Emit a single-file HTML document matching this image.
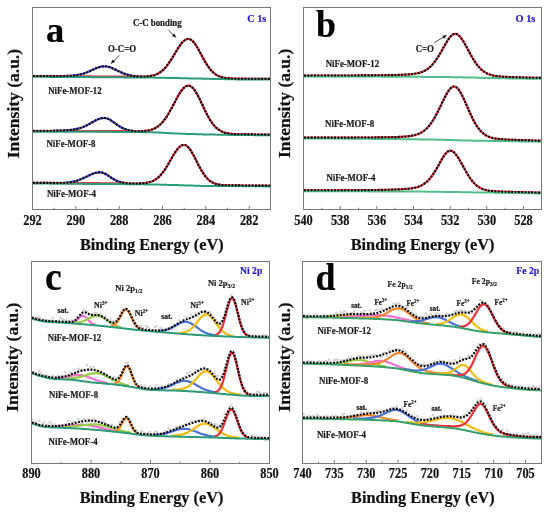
<!DOCTYPE html>
<html><head><meta charset="utf-8"><style>
html,body{margin:0;padding:0;background:#fff;width:550px;height:513px;overflow:hidden}
svg{display:block;will-change:transform}
</style></head><body>
<svg width="550" height="513" viewBox="0 0 550 513">
<rect width="550" height="513" fill="#fff"/>
<path d="M66.0 76.0L67.0 75.9L68.0 75.9L69.0 75.9L70.0 75.8L71.0 75.8L72.0 75.7L73.0 75.6L74.0 75.5L75.0 75.4L76.0 75.2L77.0 75.1L78.0 74.9L79.0 74.7L80.0 74.5L81.0 74.3L82.0 74.0L83.0 73.7L84.0 73.4L85.0 73.0L86.0 72.7L87.0 72.3L88.0 71.9L89.0 71.4L90.0 71.0L91.0 70.5L92.0 70.1L93.0 69.6L94.0 69.2L95.0 68.7L96.0 68.3L97.0 67.9L98.0 67.5L99.0 67.2L100.0 66.9L101.0 66.7L102.0 66.5L103.0 66.4L104.0 66.3L105.0 66.3L106.0 66.4L107.0 66.5L108.0 66.7L109.0 67.0L110.0 67.3L111.0 67.6L112.0 68.0L113.0 68.5L114.0 68.9L115.0 69.4L116.0 69.9L117.0 70.4L118.0 70.9L119.0 71.4L120.0 71.8L121.0 72.3L122.0 72.8L123.0 73.2L124.0 73.6L125.0 74.0L126.0 74.3L127.0 74.6L128.0 74.9L129.0 75.2L130.0 75.4L131.0 75.6L132.0 75.8L133.0 75.9L134.0 76.1L135.0 76.2L136.0 76.3L137.0 76.4" fill="none" stroke="#4848d0" stroke-width="2.20" stroke-linejoin="round"/>
<path d="M33.0 76.0L34.0 76.0L35.0 76.0L36.0 76.0L37.0 76.1L38.0 76.1L39.0 76.1L40.0 76.1L41.0 76.1L42.0 76.1L43.0 76.1L44.0 76.1L45.0 76.1L46.0 76.1L47.0 76.1L48.0 76.1L49.0 76.1L50.0 76.2L51.0 76.2L52.0 76.2L53.0 76.2L54.0 76.2L55.0 76.2L56.0 76.2L57.0 76.2L58.0 76.2L59.0 76.2L60.0 76.2L61.0 76.2L62.0 76.2L63.0 76.3L64.0 76.3L65.0 76.3L66.0 76.3L67.0 76.3L68.0 76.3L69.0 76.3L70.0 76.3L71.0 76.3L72.0 76.3L73.0 76.3L74.0 76.3L75.0 76.3L76.0 76.3L77.0 76.4L78.0 76.4L79.0 76.4L80.0 76.4L81.0 76.4L82.0 76.4L83.0 76.4L84.0 76.4L85.0 76.4L86.0 76.4L87.0 76.4L88.0 76.4L89.0 76.4L90.0 76.4L91.0 76.4L92.0 76.5L93.0 76.5L94.0 76.5L95.0 76.5L96.0 76.5L97.0 76.5L98.0 76.5L99.0 76.5L100.0 76.5L101.0 76.5L102.0 76.5L103.0 76.5L104.0 76.5L105.0 76.5L106.0 76.5L107.0 76.5L108.0 76.5L109.0 76.6L110.0 76.6L111.0 76.6L112.0 76.6L113.0 76.6L114.0 76.6L115.0 76.6L116.0 76.6L117.0 76.6L118.0 76.6L119.0 76.6L120.0 76.6L121.0 76.6L122.0 76.6L123.0 76.6L124.0 76.7L125.0 76.7L126.0 76.7L127.0 76.7L128.0 76.7L129.0 76.7L130.0 76.7L131.0 76.7L132.0 76.7L133.0 76.7L134.0 76.7L135.0 76.7L136.0 76.7L137.0 76.7L138.0 76.7L139.0 76.7L140.0 76.7L141.0 76.7L142.0 76.7L143.0 76.6L144.0 76.6L145.0 76.6L146.0 76.5L147.0 76.4L148.0 76.3L149.0 76.2L150.0 76.1L151.0 75.9L152.0 75.7L153.0 75.5L154.0 75.2L155.0 74.9L156.0 74.6L157.0 74.1L158.0 73.6L159.0 73.1L160.0 72.4L161.0 71.7L162.0 70.9L163.0 70.1L164.0 69.1L165.0 68.0L166.0 66.9L167.0 65.6L168.0 64.3L169.0 62.9L170.0 61.4L171.0 59.9L172.0 58.3L173.0 56.6L174.0 55.0L175.0 53.3L176.0 51.6L177.0 50.0L178.0 48.4L179.0 46.8L180.0 45.4L181.0 44.0L182.0 42.8L183.0 41.7L184.0 40.8L185.0 40.1L186.0 39.5L187.0 39.1L188.0 39.0L189.0 39.0L190.0 39.3L191.0 39.8L192.0 40.5L193.0 41.5L194.0 42.6L195.0 43.9L196.0 45.4L197.0 47.0L198.0 48.7L199.0 50.5L200.0 52.4L201.0 54.2L202.0 56.1L203.0 57.9L204.0 59.7L205.0 61.5L206.0 63.2L207.0 64.8L208.0 66.3L209.0 67.7L210.0 69.0L211.0 70.2L212.0 71.2L213.0 72.2L214.0 73.1L215.0 73.9L216.0 74.6L217.0 75.2L218.0 75.7L219.0 76.2L220.0 76.6L221.0 76.9L222.0 77.2L223.0 77.5L224.0 77.7L225.0 77.8L226.0 78.0L227.0 78.1L228.0 78.2L229.0 78.3L230.0 78.4L231.0 78.4L232.0 78.5L233.0 78.5L234.0 78.6L235.0 78.6L236.0 78.6L237.0 78.6L238.0 78.7L239.0 78.7L240.0 78.7L241.0 78.7L242.0 78.7L243.0 78.7L244.0 78.7L245.0 78.7L246.0 78.7L247.0 78.8L248.0 78.8L249.0 78.8L250.0 78.8L251.0 78.8L252.0 78.8L253.0 78.8L254.0 78.8L255.0 78.8L256.0 78.8L257.0 78.8L258.0 78.8L259.0 78.8L260.0 78.8L261.0 78.8L262.0 78.9L263.0 78.9L264.0 78.9L265.0 78.9L266.0 78.9L267.0 78.9L268.0 78.9L269.0 78.9L270.0 78.9" fill="none" stroke="#e8303a" stroke-width="2.20" stroke-linejoin="round"/>
<path d="M33.0 76.7L34.0 76.7L35.0 76.7L36.0 76.7L37.0 76.8L38.0 76.8L39.0 76.8L40.0 76.8L41.0 76.8L42.0 76.8L43.0 76.8L44.0 76.8L45.0 76.8L46.0 76.8L47.0 76.8L48.0 76.8L49.0 76.8L50.0 76.9L51.0 76.9L52.0 76.9L53.0 76.9L54.0 76.9L55.0 76.9L56.0 76.9L57.0 76.9L58.0 76.9L59.0 76.9L60.0 76.9L61.0 76.9L62.0 76.9L63.0 77.0L64.0 77.0L65.0 77.0L66.0 77.0L67.0 77.0L68.0 77.0L69.0 77.0L70.0 77.0L71.0 77.0L72.0 77.0L73.0 77.0L74.0 77.0L75.0 77.0L76.0 77.0L77.0 77.1L78.0 77.1L79.0 77.1L80.0 77.1L81.0 77.1L82.0 77.1L83.0 77.1L84.0 77.1L85.0 77.1L86.0 77.1L87.0 77.1L88.0 77.1L89.0 77.1L90.0 77.1L91.0 77.1L92.0 77.2L93.0 77.2L94.0 77.2L95.0 77.2L96.0 77.2L97.0 77.2L98.0 77.2L99.0 77.2L100.0 77.2L101.0 77.2L102.0 77.2L103.0 77.2L104.0 77.2L105.0 77.2L106.0 77.2L107.0 77.2L108.0 77.2L109.0 77.3L110.0 77.3L111.0 77.3L112.0 77.3L113.0 77.3L114.0 77.3L115.0 77.3L116.0 77.3L117.0 77.3L118.0 77.3L119.0 77.3L120.0 77.3L121.0 77.3L122.0 77.3L123.0 77.3L124.0 77.4L125.0 77.4L126.0 77.4L127.0 77.4L128.0 77.4L129.0 77.4L130.0 77.4L131.0 77.4L132.0 77.4L133.0 77.4L134.0 77.4L135.0 77.4L136.0 77.5L137.0 77.5L138.0 77.5L139.0 77.5L140.0 77.5L141.0 77.5L142.0 77.5L143.0 77.5L144.0 77.5L145.0 77.5L146.0 77.5L147.0 77.6L148.0 77.6L149.0 77.6L150.0 77.6L151.0 77.6L152.0 77.6L153.0 77.6L154.0 77.6L155.0 77.7L156.0 77.7L157.0 77.7L158.0 77.7L159.0 77.7L160.0 77.7L161.0 77.8L162.0 77.8L163.0 77.8L164.0 77.8L165.0 77.8L166.0 77.9L167.0 77.9L168.0 77.9L169.0 77.9L170.0 77.9L171.0 78.0L172.0 78.0L173.0 78.0L174.0 78.0L175.0 78.1L176.0 78.1L177.0 78.1L178.0 78.1L179.0 78.1L180.0 78.2L181.0 78.2L182.0 78.2L183.0 78.2L184.0 78.2L185.0 78.3L186.0 78.3L187.0 78.3L188.0 78.3L189.0 78.4L190.0 78.4L191.0 78.4L192.0 78.4L193.0 78.4L194.0 78.5L195.0 78.5L196.0 78.5L197.0 78.5L198.0 78.6L199.0 78.6L200.0 78.6L201.0 78.6L202.0 78.7L203.0 78.7L204.0 78.7L205.0 78.7L206.0 78.7L207.0 78.8L208.0 78.8L209.0 78.8L210.0 78.8L211.0 78.9L212.0 78.9L213.0 78.9L214.0 78.9L215.0 78.9L216.0 79.0L217.0 79.0L218.0 79.0L219.0 79.0L220.0 79.1L221.0 79.1L222.0 79.1L223.0 79.1L224.0 79.1L225.0 79.2L226.0 79.2L227.0 79.2L228.0 79.2L229.0 79.2L230.0 79.3L231.0 79.3L232.0 79.3L233.0 79.3L234.0 79.3L235.0 79.3L236.0 79.4L237.0 79.4L238.0 79.4L239.0 79.4L240.0 79.4L241.0 79.4L242.0 79.4L243.0 79.4L244.0 79.4L245.0 79.4L246.0 79.5L247.0 79.5L248.0 79.5L249.0 79.5L250.0 79.5L251.0 79.5L252.0 79.5L253.0 79.5L254.0 79.5L255.0 79.5L256.0 79.5L257.0 79.5L258.0 79.5L259.0 79.5L260.0 79.5L261.0 79.5L262.0 79.6L263.0 79.6L264.0 79.6L265.0 79.6L266.0 79.6L267.0 79.6L268.0 79.6L269.0 79.6L270.0 79.6" fill="none" stroke="#2a9c7e" stroke-width="2.00"/>
<path d="M33.0 76.0L34.0 76.0L35.0 76.0L36.0 76.0L37.0 76.0L38.0 76.0L39.0 76.0L40.0 76.0L41.0 76.0L42.0 76.0L43.0 76.0L44.0 76.0L45.0 76.0L46.0 76.0L47.0 76.0L48.0 76.0L49.0 76.0L50.0 76.0L51.0 76.0L52.0 76.1L53.0 76.1L54.0 76.1L55.0 76.1L56.0 76.1L57.0 76.1L58.0 76.1L59.0 76.1L60.0 76.1L61.0 76.0L62.0 76.0L63.0 76.0L64.0 76.0L65.0 76.0L66.0 76.0L67.0 75.9L68.0 75.9L69.0 75.9L70.0 75.8L71.0 75.8L72.0 75.7L73.0 75.6L74.0 75.5L75.0 75.4L76.0 75.2L77.0 75.1L78.0 74.9L79.0 74.7L80.0 74.5L81.0 74.3L82.0 74.0L83.0 73.7L84.0 73.4L85.0 73.0L86.0 72.7L87.0 72.3L88.0 71.9L89.0 71.4L90.0 71.0L91.0 70.5L92.0 70.1L93.0 69.6L94.0 69.2L95.0 68.7L96.0 68.3L97.0 67.9L98.0 67.5L99.0 67.2L100.0 66.9L101.0 66.7L102.0 66.5L103.0 66.4L104.0 66.3L105.0 66.3L106.0 66.4L107.0 66.5L108.0 66.7L109.0 67.0L110.0 67.3L111.0 67.6L112.0 68.0L113.0 68.5L114.0 68.9L115.0 69.4L116.0 69.9L117.0 70.4L118.0 70.9L119.0 71.4L120.0 71.8L121.0 72.3L122.0 72.8L123.0 73.2L124.0 73.6L125.0 73.9L126.0 74.3L127.0 74.6L128.0 74.9L129.0 75.1L130.0 75.4L131.0 75.6L132.0 75.8L133.0 75.9L134.0 76.1L135.0 76.2L136.0 76.3L137.0 76.4L138.0 76.4L139.0 76.5L140.0 76.5L141.0 76.5L142.0 76.6L143.0 76.6L144.0 76.5L145.0 76.5L146.0 76.5L147.0 76.4L148.0 76.3L149.0 76.2L150.0 76.1L151.0 75.9L152.0 75.7L153.0 75.5L154.0 75.2L155.0 74.9L156.0 74.6L157.0 74.1L158.0 73.6L159.0 73.1L160.0 72.4L161.0 71.7L162.0 70.9L163.0 70.1L164.0 69.1L165.0 68.0L166.0 66.9L167.0 65.6L168.0 64.3L169.0 62.9L170.0 61.4L171.0 59.9L172.0 58.3L173.0 56.6L174.0 55.0L175.0 53.3L176.0 51.6L177.0 50.0L178.0 48.4L179.0 46.8L180.0 45.4L181.0 44.0L182.0 42.8L183.0 41.7L184.0 40.8L185.0 40.1L186.0 39.5L187.0 39.1L188.0 39.0L189.0 39.0L190.0 39.3L191.0 39.8L192.0 40.5L193.0 41.5L194.0 42.6L195.0 43.9L196.0 45.4L197.0 47.0L198.0 48.7L199.0 50.5L200.0 52.4L201.0 54.2L202.0 56.1L203.0 57.9L204.0 59.7L205.0 61.5L206.0 63.2L207.0 64.8L208.0 66.3L209.0 67.7L210.0 69.0L211.0 70.2L212.0 71.2L213.0 72.2L214.0 73.1L215.0 73.9L216.0 74.6L217.0 75.2L218.0 75.7L219.0 76.2L220.0 76.6L221.0 76.9L222.0 77.2L223.0 77.5L224.0 77.7L225.0 77.8L226.0 78.0L227.0 78.1L228.0 78.2L229.0 78.3L230.0 78.4L231.0 78.4L232.0 78.5L233.0 78.5L234.0 78.6L235.0 78.6L236.0 78.6L237.0 78.6L238.0 78.7L239.0 78.7L240.0 78.7L241.0 78.7L242.0 78.7L243.0 78.7L244.0 78.7L245.0 78.7L246.0 78.7L247.0 78.8L248.0 78.8L249.0 78.8L250.0 78.8L251.0 78.8L252.0 78.8L253.0 78.8L254.0 78.8L255.0 78.8L256.0 78.8L257.0 78.8L258.0 78.8L259.0 78.8L260.0 78.8L261.0 78.8L262.0 78.9L263.0 78.9L264.0 78.9L265.0 78.9L266.0 78.9L267.0 78.9L268.0 78.9L269.0 78.9L270.0 78.9" fill="none" stroke="#000" stroke-width="2.10" stroke-dasharray="1.85 1.5"/>
<path d="M53.0 130.7L54.0 130.7L55.0 130.6L56.0 130.6L57.0 130.6L58.0 130.6L59.0 130.6L60.0 130.5L61.0 130.5L62.0 130.5L63.0 130.5L64.0 130.4L65.0 130.4L66.0 130.3L67.0 130.3L68.0 130.2L69.0 130.1L70.0 130.0L71.0 129.9L72.0 129.8L73.0 129.7L74.0 129.5L75.0 129.3L76.0 129.1L77.0 128.9L78.0 128.7L79.0 128.4L80.0 128.1L81.0 127.8L82.0 127.4L83.0 127.0L84.0 126.6L85.0 126.2L86.0 125.7L87.0 125.2L88.0 124.7L89.0 124.1L90.0 123.6L91.0 123.0L92.0 122.4L93.0 121.8L94.0 121.3L95.0 120.7L96.0 120.2L97.0 119.7L98.0 119.3L99.0 118.9L100.0 118.5L101.0 118.3L102.0 118.1L103.0 118.0L104.0 117.9L105.0 118.0L106.0 118.2L107.0 118.5L108.0 118.8L109.0 119.3L110.0 119.8L111.0 120.4L112.0 121.1L113.0 121.8L114.0 122.5L115.0 123.2L116.0 124.0L117.0 124.7L118.0 125.4L119.0 126.0L120.0 126.7L121.0 127.3L122.0 127.8L123.0 128.3L124.0 128.7L125.0 129.1L126.0 129.5L127.0 129.8L128.0 130.1L129.0 130.3L130.0 130.5L131.0 130.7L132.0 130.8L133.0 130.9L134.0 131.0" fill="none" stroke="#4848d0" stroke-width="2.20" stroke-linejoin="round"/>
<path d="M33.0 131.0L34.0 131.0L35.0 131.0L36.0 131.0L37.0 131.0L38.0 131.0L39.0 131.0L40.0 131.0L41.0 131.0L42.0 131.0L43.0 131.0L44.0 131.0L45.0 131.0L46.0 131.0L47.0 131.0L48.0 131.0L49.0 131.0L50.0 131.0L51.0 131.0L52.0 131.0L53.0 131.0L54.0 131.0L55.0 131.0L56.0 131.0L57.0 131.0L58.0 131.0L59.0 131.0L60.0 131.0L61.0 131.0L62.0 131.0L63.0 131.0L64.0 131.0L65.0 131.0L66.0 131.0L67.0 131.0L68.0 131.0L69.0 131.0L70.0 131.0L71.0 131.0L72.0 131.0L73.0 131.0L74.0 131.0L75.0 131.0L76.0 131.0L77.0 131.0L78.0 131.0L79.0 131.0L80.0 131.0L81.0 131.0L82.0 131.0L83.0 131.0L84.0 131.0L85.0 131.0L86.0 131.0L87.0 131.0L88.0 131.0L89.0 131.0L90.0 131.0L91.0 131.0L92.0 131.0L93.0 131.0L94.0 131.0L95.0 131.0L96.0 131.0L97.0 131.0L98.0 131.1L99.0 131.1L100.0 131.1L101.0 131.1L102.0 131.1L103.0 131.1L104.0 131.1L105.0 131.1L106.0 131.1L107.0 131.1L108.0 131.1L109.0 131.1L110.0 131.1L111.0 131.1L112.0 131.1L113.0 131.2L114.0 131.2L115.0 131.2L116.0 131.2L117.0 131.2L118.0 131.2L119.0 131.2L120.0 131.2L121.0 131.2L122.0 131.2L123.0 131.2L124.0 131.3L125.0 131.3L126.0 131.3L127.0 131.3L128.0 131.3L129.0 131.3L130.0 131.3L131.0 131.3L132.0 131.3L133.0 131.3L134.0 131.3L135.0 131.3L136.0 131.3L137.0 131.3L138.0 131.3L139.0 131.3L140.0 131.2L141.0 131.2L142.0 131.1L143.0 131.1L144.0 131.0L145.0 130.9L146.0 130.8L147.0 130.6L148.0 130.5L149.0 130.3L150.0 130.0L151.0 129.8L152.0 129.4L153.0 129.1L154.0 128.7L155.0 128.2L156.0 127.6L157.0 127.0L158.0 126.3L159.0 125.5L160.0 124.7L161.0 123.7L162.0 122.7L163.0 121.6L164.0 120.3L165.0 119.0L166.0 117.6L167.0 116.1L168.0 114.5L169.0 112.8L170.0 111.0L171.0 109.2L172.0 107.4L173.0 105.5L174.0 103.6L175.0 101.7L176.0 99.8L177.0 97.9L178.0 96.1L179.0 94.4L180.0 92.8L181.0 91.3L182.0 90.0L183.0 88.8L184.0 87.8L185.0 86.9L186.0 86.3L187.0 85.9L188.0 85.6L189.0 85.7L190.0 85.9L191.0 86.4L192.0 87.2L193.0 88.1L194.0 89.3L195.0 90.7L196.0 92.3L197.0 94.0L198.0 95.9L199.0 97.8L200.0 99.9L201.0 102.0L202.0 104.1L203.0 106.2L204.0 108.4L205.0 110.4L206.0 112.5L207.0 114.4L208.0 116.3L209.0 118.1L210.0 119.8L211.0 121.3L212.0 122.8L213.0 124.1L214.0 125.4L215.0 126.5L216.0 127.5L217.0 128.4L218.0 129.2L219.0 129.9L220.0 130.6L221.0 131.1L222.0 131.6L223.0 132.0L224.0 132.4L225.0 132.7L226.0 133.0L227.0 133.2L228.0 133.4L229.0 133.5L230.0 133.7L231.0 133.8L232.0 133.9L233.0 134.0L234.0 134.0L235.0 134.1L236.0 134.1L237.0 134.2L238.0 134.2L239.0 134.2L240.0 134.3L241.0 134.3L242.0 134.3L243.0 134.3L244.0 134.3L245.0 134.4L246.0 134.4L247.0 134.4L248.0 134.4L249.0 134.4L250.0 134.4L251.0 134.4L252.0 134.4L253.0 134.4L254.0 134.5L255.0 134.5L256.0 134.5L257.0 134.5L258.0 134.5L259.0 134.5L260.0 134.5L261.0 134.5L262.0 134.5L263.0 134.5L264.0 134.5L265.0 134.5L266.0 134.6L267.0 134.6L268.0 134.6L269.0 134.6L270.0 134.6" fill="none" stroke="#e8303a" stroke-width="2.20" stroke-linejoin="round"/>
<path d="M33.0 131.7L34.0 131.7L35.0 131.7L36.0 131.7L37.0 131.7L38.0 131.7L39.0 131.7L40.0 131.7L41.0 131.7L42.0 131.7L43.0 131.7L44.0 131.7L45.0 131.7L46.0 131.7L47.0 131.7L48.0 131.7L49.0 131.7L50.0 131.7L51.0 131.7L52.0 131.7L53.0 131.7L54.0 131.7L55.0 131.7L56.0 131.7L57.0 131.7L58.0 131.7L59.0 131.7L60.0 131.7L61.0 131.7L62.0 131.7L63.0 131.7L64.0 131.7L65.0 131.7L66.0 131.7L67.0 131.7L68.0 131.7L69.0 131.7L70.0 131.7L71.0 131.7L72.0 131.7L73.0 131.7L74.0 131.7L75.0 131.7L76.0 131.7L77.0 131.7L78.0 131.7L79.0 131.7L80.0 131.7L81.0 131.7L82.0 131.7L83.0 131.7L84.0 131.7L85.0 131.7L86.0 131.7L87.0 131.7L88.0 131.7L89.0 131.7L90.0 131.7L91.0 131.7L92.0 131.7L93.0 131.7L94.0 131.7L95.0 131.7L96.0 131.7L97.0 131.7L98.0 131.8L99.0 131.8L100.0 131.8L101.0 131.8L102.0 131.8L103.0 131.8L104.0 131.8L105.0 131.8L106.0 131.8L107.0 131.8L108.0 131.8L109.0 131.8L110.0 131.8L111.0 131.8L112.0 131.8L113.0 131.9L114.0 131.9L115.0 131.9L116.0 131.9L117.0 131.9L118.0 131.9L119.0 131.9L120.0 131.9L121.0 131.9L122.0 131.9L123.0 131.9L124.0 132.0L125.0 132.0L126.0 132.0L127.0 132.0L128.0 132.0L129.0 132.0L130.0 132.0L131.0 132.0L132.0 132.0L133.0 132.1L134.0 132.1L135.0 132.1L136.0 132.1L137.0 132.1L138.0 132.1L139.0 132.1L140.0 132.1L141.0 132.2L142.0 132.2L143.0 132.2L144.0 132.2L145.0 132.2L146.0 132.2L147.0 132.2L148.0 132.2L149.0 132.3L150.0 132.3L151.0 132.3L152.0 132.3L153.0 132.3L154.0 132.4L155.0 132.4L156.0 132.4L157.0 132.5L158.0 132.5L159.0 132.6L160.0 132.6L161.0 132.7L162.0 132.7L163.0 132.8L164.0 132.8L165.0 132.9L166.0 132.9L167.0 133.0L168.0 133.1L169.0 133.1L170.0 133.2L171.0 133.2L172.0 133.3L173.0 133.3L174.0 133.4L175.0 133.4L176.0 133.5L177.0 133.5L178.0 133.6L179.0 133.6L180.0 133.7L181.0 133.7L182.0 133.7L183.0 133.8L184.0 133.8L185.0 133.8L186.0 133.9L187.0 133.9L188.0 133.9L189.0 134.0L190.0 134.0L191.0 134.0L192.0 134.1L193.0 134.1L194.0 134.1L195.0 134.1L196.0 134.2L197.0 134.2L198.0 134.2L199.0 134.3L200.0 134.3L201.0 134.3L202.0 134.3L203.0 134.4L204.0 134.4L205.0 134.4L206.0 134.4L207.0 134.5L208.0 134.5L209.0 134.5L210.0 134.5L211.0 134.5L212.0 134.6L213.0 134.6L214.0 134.6L215.0 134.6L216.0 134.6L217.0 134.7L218.0 134.7L219.0 134.7L220.0 134.7L221.0 134.7L222.0 134.8L223.0 134.8L224.0 134.8L225.0 134.8L226.0 134.8L227.0 134.8L228.0 134.8L229.0 134.9L230.0 134.9L231.0 134.9L232.0 134.9L233.0 134.9L234.0 134.9L235.0 134.9L236.0 135.0L237.0 135.0L238.0 135.0L239.0 135.0L240.0 135.0L241.0 135.0L242.0 135.0L243.0 135.0L244.0 135.0L245.0 135.1L246.0 135.1L247.0 135.1L248.0 135.1L249.0 135.1L250.0 135.1L251.0 135.1L252.0 135.1L253.0 135.1L254.0 135.2L255.0 135.2L256.0 135.2L257.0 135.2L258.0 135.2L259.0 135.2L260.0 135.2L261.0 135.2L262.0 135.2L263.0 135.2L264.0 135.2L265.0 135.2L266.0 135.3L267.0 135.3L268.0 135.3L269.0 135.3L270.0 135.3" fill="none" stroke="#2a9c7e" stroke-width="2.00"/>
<path d="M33.0 130.8L34.0 130.8L35.0 130.8L36.0 130.8L37.0 130.8L38.0 130.8L39.0 130.8L40.0 130.8L41.0 130.8L42.0 130.8L43.0 130.8L44.0 130.8L45.0 130.7L46.0 130.7L47.0 130.7L48.0 130.7L49.0 130.7L50.0 130.7L51.0 130.7L52.0 130.7L53.0 130.7L54.0 130.7L55.0 130.6L56.0 130.6L57.0 130.6L58.0 130.6L59.0 130.6L60.0 130.5L61.0 130.5L62.0 130.5L63.0 130.5L64.0 130.4L65.0 130.4L66.0 130.3L67.0 130.3L68.0 130.2L69.0 130.1L70.0 130.0L71.0 129.9L72.0 129.8L73.0 129.7L74.0 129.5L75.0 129.3L76.0 129.1L77.0 128.9L78.0 128.7L79.0 128.4L80.0 128.1L81.0 127.8L82.0 127.4L83.0 127.0L84.0 126.6L85.0 126.2L86.0 125.7L87.0 125.2L88.0 124.7L89.0 124.1L90.0 123.6L91.0 123.0L92.0 122.4L93.0 121.8L94.0 121.3L95.0 120.7L96.0 120.2L97.0 119.7L98.0 119.3L99.0 118.9L100.0 118.5L101.0 118.3L102.0 118.1L103.0 118.0L104.0 117.9L105.0 118.0L106.0 118.2L107.0 118.5L108.0 118.8L109.0 119.3L110.0 119.8L111.0 120.4L112.0 121.1L113.0 121.8L114.0 122.5L115.0 123.2L116.0 124.0L117.0 124.7L118.0 125.4L119.0 126.0L120.0 126.7L121.0 127.3L122.0 127.8L123.0 128.3L124.0 128.7L125.0 129.1L126.0 129.5L127.0 129.8L128.0 130.1L129.0 130.3L130.0 130.5L131.0 130.6L132.0 130.8L133.0 130.9L134.0 131.0L135.0 131.1L136.0 131.1L137.0 131.1L138.0 131.2L139.0 131.2L140.0 131.2L141.0 131.1L142.0 131.1L143.0 131.0L144.0 131.0L145.0 130.9L146.0 130.8L147.0 130.6L148.0 130.5L149.0 130.3L150.0 130.0L151.0 129.8L152.0 129.4L153.0 129.1L154.0 128.6L155.0 128.2L156.0 127.6L157.0 127.0L158.0 126.3L159.0 125.5L160.0 124.7L161.0 123.7L162.0 122.7L163.0 121.6L164.0 120.3L165.0 119.0L166.0 117.6L167.0 116.1L168.0 114.5L169.0 112.8L170.0 111.0L171.0 109.2L172.0 107.4L173.0 105.5L174.0 103.6L175.0 101.7L176.0 99.8L177.0 97.9L178.0 96.1L179.0 94.4L180.0 92.8L181.0 91.3L182.0 90.0L183.0 88.8L184.0 87.7L185.0 86.9L186.0 86.3L187.0 85.9L188.0 85.6L189.0 85.7L190.0 85.9L191.0 86.4L192.0 87.2L193.0 88.1L194.0 89.3L195.0 90.7L196.0 92.3L197.0 94.0L198.0 95.9L199.0 97.8L200.0 99.9L201.0 102.0L202.0 104.1L203.0 106.2L204.0 108.4L205.0 110.4L206.0 112.5L207.0 114.4L208.0 116.3L209.0 118.1L210.0 119.8L211.0 121.3L212.0 122.8L213.0 124.1L214.0 125.4L215.0 126.5L216.0 127.5L217.0 128.4L218.0 129.2L219.0 129.9L220.0 130.6L221.0 131.1L222.0 131.6L223.0 132.0L224.0 132.4L225.0 132.7L226.0 133.0L227.0 133.2L228.0 133.4L229.0 133.5L230.0 133.7L231.0 133.8L232.0 133.9L233.0 134.0L234.0 134.0L235.0 134.1L236.0 134.1L237.0 134.2L238.0 134.2L239.0 134.2L240.0 134.3L241.0 134.3L242.0 134.3L243.0 134.3L244.0 134.3L245.0 134.3L246.0 134.4L247.0 134.4L248.0 134.4L249.0 134.4L250.0 134.4L251.0 134.4L252.0 134.4L253.0 134.4L254.0 134.5L255.0 134.5L256.0 134.5L257.0 134.5L258.0 134.5L259.0 134.5L260.0 134.5L261.0 134.5L262.0 134.5L263.0 134.5L264.0 134.5L265.0 134.5L266.0 134.6L267.0 134.6L268.0 134.6L269.0 134.6L270.0 134.6" fill="none" stroke="#000" stroke-width="2.10" stroke-dasharray="1.85 1.5"/>
<path d="M65.0 182.7L66.0 182.6L67.0 182.6L68.0 182.5L69.0 182.4L70.0 182.2L71.0 182.1L72.0 181.9L73.0 181.7L74.0 181.5L75.0 181.2L76.0 181.0L77.0 180.7L78.0 180.3L79.0 180.0L80.0 179.6L81.0 179.2L82.0 178.8L83.0 178.3L84.0 177.8L85.0 177.4L86.0 176.9L87.0 176.4L88.0 175.9L89.0 175.4L90.0 174.9L91.0 174.5L92.0 174.1L93.0 173.7L94.0 173.3L95.0 173.0L96.0 172.8L97.0 172.6L98.0 172.4L99.0 172.4L100.0 172.4L101.0 172.4L102.0 172.6L103.0 172.9L104.0 173.3L105.0 173.8L106.0 174.3L107.0 174.9L108.0 175.5L109.0 176.1L110.0 176.8L111.0 177.5L112.0 178.1L113.0 178.7L114.0 179.3L115.0 179.9L116.0 180.4L117.0 180.9L118.0 181.3L119.0 181.6L120.0 182.0L121.0 182.2L122.0 182.5L123.0 182.7L124.0 182.8L125.0 183.0L126.0 183.1" fill="none" stroke="#4848d0" stroke-width="2.20" stroke-linejoin="round"/>
<path d="M33.0 182.9L34.0 182.9L35.0 182.9L36.0 182.9L37.0 182.9L38.0 182.9L39.0 182.9L40.0 182.9L41.0 182.9L42.0 182.9L43.0 182.9L44.0 182.9L45.0 182.9L46.0 182.9L47.0 182.9L48.0 182.9L49.0 182.9L50.0 182.9L51.0 183.0L52.0 183.0L53.0 183.0L54.0 183.0L55.0 183.0L56.0 183.0L57.0 183.0L58.0 183.0L59.0 183.0L60.0 183.0L61.0 183.0L62.0 183.0L63.0 183.0L64.0 183.0L65.0 183.0L66.0 183.0L67.0 183.1L68.0 183.1L69.0 183.1L70.0 183.1L71.0 183.1L72.0 183.1L73.0 183.1L74.0 183.1L75.0 183.1L76.0 183.1L77.0 183.1L78.0 183.1L79.0 183.1L80.0 183.1L81.0 183.1L82.0 183.1L83.0 183.1L84.0 183.2L85.0 183.2L86.0 183.2L87.0 183.2L88.0 183.2L89.0 183.2L90.0 183.2L91.0 183.2L92.0 183.2L93.0 183.2L94.0 183.2L95.0 183.2L96.0 183.2L97.0 183.2L98.0 183.2L99.0 183.2L100.0 183.3L101.0 183.3L102.0 183.3L103.0 183.3L104.0 183.3L105.0 183.3L106.0 183.3L107.0 183.3L108.0 183.3L109.0 183.3L110.0 183.3L111.0 183.3L112.0 183.3L113.0 183.3L114.0 183.4L115.0 183.4L116.0 183.4L117.0 183.4L118.0 183.4L119.0 183.4L120.0 183.4L121.0 183.4L122.0 183.4L123.0 183.4L124.0 183.4L125.0 183.4L126.0 183.4L127.0 183.5L128.0 183.5L129.0 183.5L130.0 183.5L131.0 183.5L132.0 183.5L133.0 183.5L134.0 183.5L135.0 183.5L136.0 183.5L137.0 183.5L138.0 183.5L139.0 183.4L140.0 183.4L141.0 183.4L142.0 183.3L143.0 183.2L144.0 183.1L145.0 183.0L146.0 182.9L147.0 182.7L148.0 182.5L149.0 182.3L150.0 182.0L151.0 181.7L152.0 181.3L153.0 180.9L154.0 180.4L155.0 179.8L156.0 179.2L157.0 178.5L158.0 177.6L159.0 176.7L160.0 175.7L161.0 174.6L162.0 173.4L163.0 172.1L164.0 170.8L165.0 169.3L166.0 167.7L167.0 166.1L168.0 164.5L169.0 162.8L170.0 161.0L171.0 159.3L172.0 157.5L173.0 155.8L174.0 154.1L175.0 152.6L176.0 151.1L177.0 149.7L178.0 148.5L179.0 147.4L180.0 146.5L181.0 145.8L182.0 145.3L183.0 145.0L184.0 144.9L185.0 145.0L186.0 145.4L187.0 146.1L188.0 147.0L189.0 148.1L190.0 149.4L191.0 150.9L192.0 152.6L193.0 154.3L194.0 156.2L195.0 158.1L196.0 160.1L197.0 162.1L198.0 164.0L199.0 166.0L200.0 167.8L201.0 169.6L202.0 171.3L203.0 172.9L204.0 174.4L205.0 175.8L206.0 177.0L207.0 178.1L208.0 179.2L209.0 180.1L210.0 180.9L211.0 181.6L212.0 182.2L213.0 182.7L214.0 183.2L215.0 183.6L216.0 183.9L217.0 184.2L218.0 184.4L219.0 184.6L220.0 184.7L221.0 184.9L222.0 185.0L223.0 185.1L224.0 185.1L225.0 185.2L226.0 185.2L227.0 185.3L228.0 185.3L229.0 185.3L230.0 185.3L231.0 185.3L232.0 185.4L233.0 185.4L234.0 185.4L235.0 185.4L236.0 185.4L237.0 185.4L238.0 185.4L239.0 185.4L240.0 185.4L241.0 185.4L242.0 185.5L243.0 185.5L244.0 185.5L245.0 185.5L246.0 185.5L247.0 185.5L248.0 185.5L249.0 185.5L250.0 185.5L251.0 185.5L252.0 185.5L253.0 185.5L254.0 185.6L255.0 185.6L256.0 185.6L257.0 185.6L258.0 185.6L259.0 185.6L260.0 185.6L261.0 185.6L262.0 185.6L263.0 185.6L264.0 185.6L265.0 185.6L266.0 185.7L267.0 185.7L268.0 185.7L269.0 185.7L270.0 185.7" fill="none" stroke="#e8303a" stroke-width="2.20" stroke-linejoin="round"/>
<path d="M33.0 183.6L34.0 183.6L35.0 183.6L36.0 183.6L37.0 183.6L38.0 183.6L39.0 183.6L40.0 183.6L41.0 183.6L42.0 183.6L43.0 183.6L44.0 183.6L45.0 183.6L46.0 183.6L47.0 183.6L48.0 183.6L49.0 183.6L50.0 183.6L51.0 183.7L52.0 183.7L53.0 183.7L54.0 183.7L55.0 183.7L56.0 183.7L57.0 183.7L58.0 183.7L59.0 183.7L60.0 183.7L61.0 183.7L62.0 183.7L63.0 183.7L64.0 183.7L65.0 183.7L66.0 183.7L67.0 183.8L68.0 183.8L69.0 183.8L70.0 183.8L71.0 183.8L72.0 183.8L73.0 183.8L74.0 183.8L75.0 183.8L76.0 183.8L77.0 183.8L78.0 183.8L79.0 183.8L80.0 183.8L81.0 183.8L82.0 183.8L83.0 183.8L84.0 183.9L85.0 183.9L86.0 183.9L87.0 183.9L88.0 183.9L89.0 183.9L90.0 183.9L91.0 183.9L92.0 183.9L93.0 183.9L94.0 183.9L95.0 183.9L96.0 183.9L97.0 183.9L98.0 183.9L99.0 183.9L100.0 184.0L101.0 184.0L102.0 184.0L103.0 184.0L104.0 184.0L105.0 184.0L106.0 184.0L107.0 184.0L108.0 184.0L109.0 184.0L110.0 184.0L111.0 184.0L112.0 184.0L113.0 184.0L114.0 184.1L115.0 184.1L116.0 184.1L117.0 184.1L118.0 184.1L119.0 184.1L120.0 184.1L121.0 184.1L122.0 184.1L123.0 184.1L124.0 184.1L125.0 184.1L126.0 184.2L127.0 184.2L128.0 184.2L129.0 184.2L130.0 184.2L131.0 184.2L132.0 184.2L133.0 184.2L134.0 184.2L135.0 184.2L136.0 184.3L137.0 184.3L138.0 184.3L139.0 184.3L140.0 184.3L141.0 184.3L142.0 184.3L143.0 184.3L144.0 184.3L145.0 184.4L146.0 184.4L147.0 184.4L148.0 184.4L149.0 184.4L150.0 184.4L151.0 184.5L152.0 184.5L153.0 184.5L154.0 184.5L155.0 184.5L156.0 184.6L157.0 184.6L158.0 184.6L159.0 184.6L160.0 184.6L161.0 184.7L162.0 184.7L163.0 184.7L164.0 184.8L165.0 184.8L166.0 184.8L167.0 184.8L168.0 184.9L169.0 184.9L170.0 184.9L171.0 184.9L172.0 185.0L173.0 185.0L174.0 185.0L175.0 185.0L176.0 185.1L177.0 185.1L178.0 185.1L179.0 185.2L180.0 185.2L181.0 185.2L182.0 185.3L183.0 185.3L184.0 185.3L185.0 185.4L186.0 185.4L187.0 185.4L188.0 185.5L189.0 185.5L190.0 185.5L191.0 185.6L192.0 185.6L193.0 185.6L194.0 185.7L195.0 185.7L196.0 185.7L197.0 185.8L198.0 185.8L199.0 185.8L200.0 185.8L201.0 185.9L202.0 185.9L203.0 185.9L204.0 185.9L205.0 185.9L206.0 185.9L207.0 185.9L208.0 185.9L209.0 186.0L210.0 186.0L211.0 186.0L212.0 186.0L213.0 186.0L214.0 186.0L215.0 186.0L216.0 186.0L217.0 186.0L218.0 186.0L219.0 186.0L220.0 186.0L221.0 186.0L222.0 186.0L223.0 186.0L224.0 186.0L225.0 186.0L226.0 186.1L227.0 186.1L228.0 186.1L229.0 186.1L230.0 186.1L231.0 186.1L232.0 186.1L233.0 186.1L234.0 186.1L235.0 186.1L236.0 186.1L237.0 186.1L238.0 186.1L239.0 186.1L240.0 186.1L241.0 186.1L242.0 186.2L243.0 186.2L244.0 186.2L245.0 186.2L246.0 186.2L247.0 186.2L248.0 186.2L249.0 186.2L250.0 186.2L251.0 186.2L252.0 186.2L253.0 186.2L254.0 186.3L255.0 186.3L256.0 186.3L257.0 186.3L258.0 186.3L259.0 186.3L260.0 186.3L261.0 186.3L262.0 186.3L263.0 186.3L264.0 186.3L265.0 186.3L266.0 186.4L267.0 186.4L268.0 186.4L269.0 186.4L270.0 186.4" fill="none" stroke="#2a9c7e" stroke-width="2.00"/>
<path d="M33.0 182.9L34.0 182.9L35.0 182.9L36.0 182.9L37.0 182.9L38.0 182.9L39.0 182.9L40.0 182.9L41.0 182.9L42.0 182.9L43.0 182.9L44.0 182.9L45.0 182.9L46.0 182.9L47.0 182.9L48.0 182.9L49.0 182.9L50.0 182.9L51.0 182.9L52.0 182.9L53.0 182.9L54.0 182.9L55.0 182.9L56.0 182.9L57.0 182.9L58.0 182.9L59.0 182.9L60.0 182.9L61.0 182.9L62.0 182.8L63.0 182.8L64.0 182.8L65.0 182.7L66.0 182.6L67.0 182.6L68.0 182.5L69.0 182.4L70.0 182.2L71.0 182.1L72.0 181.9L73.0 181.7L74.0 181.5L75.0 181.2L76.0 181.0L77.0 180.7L78.0 180.3L79.0 180.0L80.0 179.6L81.0 179.2L82.0 178.8L83.0 178.3L84.0 177.8L85.0 177.4L86.0 176.9L87.0 176.4L88.0 175.9L89.0 175.4L90.0 174.9L91.0 174.5L92.0 174.1L93.0 173.7L94.0 173.3L95.0 173.0L96.0 172.8L97.0 172.6L98.0 172.4L99.0 172.4L100.0 172.4L101.0 172.4L102.0 172.6L103.0 172.9L104.0 173.3L105.0 173.8L106.0 174.3L107.0 174.9L108.0 175.5L109.0 176.1L110.0 176.8L111.0 177.5L112.0 178.1L113.0 178.7L114.0 179.3L115.0 179.9L116.0 180.4L117.0 180.9L118.0 181.3L119.0 181.6L120.0 182.0L121.0 182.2L122.0 182.5L123.0 182.7L124.0 182.8L125.0 183.0L126.0 183.1L127.0 183.2L128.0 183.3L129.0 183.3L130.0 183.4L131.0 183.4L132.0 183.4L133.0 183.4L134.0 183.5L135.0 183.5L136.0 183.5L137.0 183.5L138.0 183.4L139.0 183.4L140.0 183.4L141.0 183.4L142.0 183.3L143.0 183.2L144.0 183.1L145.0 183.0L146.0 182.9L147.0 182.7L148.0 182.5L149.0 182.3L150.0 182.0L151.0 181.7L152.0 181.3L153.0 180.9L154.0 180.4L155.0 179.8L156.0 179.2L157.0 178.5L158.0 177.6L159.0 176.7L160.0 175.7L161.0 174.6L162.0 173.4L163.0 172.1L164.0 170.8L165.0 169.3L166.0 167.7L167.0 166.1L168.0 164.5L169.0 162.8L170.0 161.0L171.0 159.3L172.0 157.5L173.0 155.8L174.0 154.1L175.0 152.6L176.0 151.1L177.0 149.7L178.0 148.5L179.0 147.4L180.0 146.5L181.0 145.8L182.0 145.3L183.0 145.0L184.0 144.9L185.0 145.0L186.0 145.4L187.0 146.1L188.0 147.0L189.0 148.1L190.0 149.4L191.0 150.9L192.0 152.6L193.0 154.3L194.0 156.2L195.0 158.1L196.0 160.1L197.0 162.1L198.0 164.0L199.0 166.0L200.0 167.8L201.0 169.6L202.0 171.3L203.0 172.9L204.0 174.4L205.0 175.8L206.0 177.0L207.0 178.1L208.0 179.2L209.0 180.1L210.0 180.9L211.0 181.6L212.0 182.2L213.0 182.7L214.0 183.2L215.0 183.6L216.0 183.9L217.0 184.2L218.0 184.4L219.0 184.6L220.0 184.7L221.0 184.9L222.0 185.0L223.0 185.1L224.0 185.1L225.0 185.2L226.0 185.2L227.0 185.3L228.0 185.3L229.0 185.3L230.0 185.3L231.0 185.3L232.0 185.4L233.0 185.4L234.0 185.4L235.0 185.4L236.0 185.4L237.0 185.4L238.0 185.4L239.0 185.4L240.0 185.4L241.0 185.4L242.0 185.5L243.0 185.5L244.0 185.5L245.0 185.5L246.0 185.5L247.0 185.5L248.0 185.5L249.0 185.5L250.0 185.5L251.0 185.5L252.0 185.5L253.0 185.5L254.0 185.6L255.0 185.6L256.0 185.6L257.0 185.6L258.0 185.6L259.0 185.6L260.0 185.6L261.0 185.6L262.0 185.6L263.0 185.6L264.0 185.6L265.0 185.6L266.0 185.7L267.0 185.7L268.0 185.7L269.0 185.7L270.0 185.7" fill="none" stroke="#000" stroke-width="2.10" stroke-dasharray="1.85 1.5"/>
<path d="M304.0 75.6L305.0 75.6L306.0 75.6L307.0 75.6L308.0 75.6L309.0 75.6L310.0 75.6L311.0 75.6L312.0 75.5L313.0 75.5L314.0 75.5L315.0 75.5L316.0 75.5L317.0 75.5L318.0 75.5L319.0 75.5L320.0 75.5L321.0 75.5L322.0 75.5L323.0 75.5L324.0 75.5L325.0 75.5L326.0 75.5L327.0 75.5L328.0 75.5L329.0 75.5L330.0 75.5L331.0 75.5L332.0 75.5L333.0 75.5L334.0 75.5L335.0 75.5L336.0 75.5L337.0 75.5L338.0 75.5L339.0 75.5L340.0 75.5L341.0 75.5L342.0 75.5L343.0 75.5L344.0 75.5L345.0 75.5L346.0 75.5L347.0 75.5L348.0 75.5L349.0 75.5L350.0 75.5L351.0 75.5L352.0 75.5L353.0 75.5L354.0 75.5L355.0 75.5L356.0 75.5L357.0 75.5L358.0 75.5L359.0 75.4L360.0 75.4L361.0 75.4L362.0 75.4L363.0 75.4L364.0 75.4L365.0 75.4L366.0 75.4L367.0 75.4L368.0 75.4L369.0 75.4L370.0 75.4L371.0 75.4L372.0 75.4L373.0 75.4L374.0 75.4L375.0 75.3L376.0 75.3L377.0 75.3L378.0 75.3L379.0 75.3L380.0 75.3L381.0 75.3L382.0 75.3L383.0 75.2L384.0 75.2L385.0 75.2L386.0 75.2L387.0 75.2L388.0 75.2L389.0 75.1L390.0 75.1L391.0 75.1L392.0 75.1L393.0 75.1L394.0 75.0L395.0 75.0L396.0 75.0L397.0 75.0L398.0 74.9L399.0 74.9L400.0 74.9L401.0 74.8L402.0 74.8L403.0 74.7L404.0 74.7L405.0 74.6L406.0 74.6L407.0 74.5L408.0 74.5L409.0 74.4L410.0 74.3L411.0 74.2L412.0 74.1L413.0 74.0L414.0 73.9L415.0 73.7L416.0 73.5L417.0 73.4L418.0 73.1L419.0 72.9L420.0 72.6L421.0 72.3L422.0 72.0L423.0 71.6L424.0 71.1L425.0 70.6L426.0 70.0L427.0 69.4L428.0 68.7L429.0 67.9L430.0 67.0L431.0 66.1L432.0 65.0L433.0 63.9L434.0 62.7L435.0 61.4L436.0 60.0L437.0 58.5L438.0 57.0L439.0 55.4L440.0 53.7L441.0 52.0L442.0 50.2L443.0 48.4L444.0 46.6L445.0 44.9L446.0 43.1L447.0 41.5L448.0 39.9L449.0 38.4L450.0 37.1L451.0 36.0L452.0 35.1L453.0 34.4L454.0 34.0L455.0 33.8L456.0 33.9L457.0 34.3L458.0 34.9L459.0 35.7L460.0 36.7L461.0 37.9L462.0 39.3L463.0 40.8L464.0 42.5L465.0 44.2L466.0 46.0L467.0 47.8L468.0 49.7L469.0 51.6L470.0 53.4L471.0 55.2L472.0 57.0L473.0 58.7L474.0 60.3L475.0 61.9L476.0 63.3L477.0 64.7L478.0 66.0L479.0 67.1L480.0 68.2L481.0 69.2L482.0 70.1L483.0 70.9L484.0 71.7L485.0 72.3L486.0 72.9L487.0 73.4L488.0 73.9L489.0 74.3L490.0 74.6L491.0 75.0L492.0 75.2L493.0 75.5L494.0 75.7L495.0 75.9L496.0 76.0L497.0 76.2L498.0 76.3L499.0 76.4L500.0 76.5L501.0 76.6L502.0 76.7L503.0 76.7L504.0 76.8L505.0 76.8L506.0 76.9L507.0 76.9L508.0 77.0L509.0 77.0L510.0 77.1L511.0 77.1L512.0 77.2L513.0 77.2L514.0 77.2L515.0 77.3L516.0 77.3L517.0 77.3L518.0 77.4L519.0 77.4L520.0 77.4L521.0 77.4L522.0 77.5L523.0 77.5L524.0 77.5L525.0 77.6L526.0 77.6L527.0 77.6L528.0 77.6L529.0 77.6L530.0 77.7L531.0 77.7L532.0 77.7L533.0 77.7L534.0 77.8L535.0 77.8L536.0 77.8L537.0 77.8L538.0 77.8L539.0 77.8L540.0 77.9L541.0 77.9" fill="none" stroke="#ee3a4a" stroke-width="2.20" stroke-linejoin="round"/>
<path d="M304.0 76.4L305.0 76.4L306.0 76.4L307.0 76.4L308.0 76.4L309.0 76.4L310.0 76.4L311.0 76.4L312.0 76.4L313.0 76.4L314.0 76.4L315.0 76.4L316.0 76.4L317.0 76.4L318.0 76.4L319.0 76.4L320.0 76.4L321.0 76.4L322.0 76.4L323.0 76.5L324.0 76.5L325.0 76.5L326.0 76.5L327.0 76.5L328.0 76.5L329.0 76.5L330.0 76.5L331.0 76.5L332.0 76.5L333.0 76.5L334.0 76.5L335.0 76.5L336.0 76.5L337.0 76.5L338.0 76.5L339.0 76.5L340.0 76.5L341.0 76.5L342.0 76.5L343.0 76.5L344.0 76.5L345.0 76.5L346.0 76.5L347.0 76.5L348.0 76.5L349.0 76.5L350.0 76.5L351.0 76.5L352.0 76.5L353.0 76.5L354.0 76.5L355.0 76.5L356.0 76.5L357.0 76.5L358.0 76.5L359.0 76.6L360.0 76.6L361.0 76.6L362.0 76.6L363.0 76.6L364.0 76.6L365.0 76.6L366.0 76.6L367.0 76.6L368.0 76.6L369.0 76.6L370.0 76.6L371.0 76.6L372.0 76.6L373.0 76.6L374.0 76.6L375.0 76.6L376.0 76.6L377.0 76.6L378.0 76.6L379.0 76.6L380.0 76.6L381.0 76.6L382.0 76.6L383.0 76.7L384.0 76.7L385.0 76.7L386.0 76.7L387.0 76.7L388.0 76.7L389.0 76.7L390.0 76.7L391.0 76.7L392.0 76.7L393.0 76.7L394.0 76.7L395.0 76.7L396.0 76.7L397.0 76.7L398.0 76.7L399.0 76.7L400.0 76.7L401.0 76.7L402.0 76.7L403.0 76.7L404.0 76.8L405.0 76.8L406.0 76.8L407.0 76.8L408.0 76.8L409.0 76.8L410.0 76.8L411.0 76.8L412.0 76.8L413.0 76.8L414.0 76.8L415.0 76.8L416.0 76.8L417.0 76.8L418.0 76.8L419.0 76.8L420.0 76.8L421.0 76.8L422.0 76.8L423.0 76.9L424.0 76.9L425.0 76.9L426.0 76.9L427.0 76.9L428.0 76.9L429.0 76.9L430.0 76.9L431.0 76.9L432.0 76.9L433.0 76.9L434.0 76.9L435.0 76.9L436.0 77.0L437.0 77.0L438.0 77.0L439.0 77.0L440.0 77.0L441.0 77.0L442.0 77.0L443.0 77.0L444.0 77.0L445.0 77.1L446.0 77.1L447.0 77.1L448.0 77.1L449.0 77.1L450.0 77.1L451.0 77.1L452.0 77.2L453.0 77.2L454.0 77.2L455.0 77.2L456.0 77.2L457.0 77.3L458.0 77.3L459.0 77.3L460.0 77.3L461.0 77.3L462.0 77.3L463.0 77.4L464.0 77.4L465.0 77.4L466.0 77.4L467.0 77.4L468.0 77.5L469.0 77.5L470.0 77.5L471.0 77.5L472.0 77.5L473.0 77.6L474.0 77.6L475.0 77.6L476.0 77.6L477.0 77.7L478.0 77.7L479.0 77.7L480.0 77.7L481.0 77.8L482.0 77.8L483.0 77.8L484.0 77.8L485.0 77.9L486.0 77.9L487.0 77.9L488.0 77.9L489.0 78.0L490.0 78.0L491.0 78.0L492.0 78.0L493.0 78.1L494.0 78.1L495.0 78.1L496.0 78.1L497.0 78.2L498.0 78.2L499.0 78.2L500.0 78.2L501.0 78.2L502.0 78.3L503.0 78.3L504.0 78.3L505.0 78.3L506.0 78.3L507.0 78.3L508.0 78.4L509.0 78.4L510.0 78.4L511.0 78.4L512.0 78.4L513.0 78.5L514.0 78.5L515.0 78.5L516.0 78.5L517.0 78.5L518.0 78.5L519.0 78.6L520.0 78.6L521.0 78.6L522.0 78.6L523.0 78.6L524.0 78.6L525.0 78.6L526.0 78.7L527.0 78.7L528.0 78.7L529.0 78.7L530.0 78.7L531.0 78.7L532.0 78.7L533.0 78.7L534.0 78.8L535.0 78.8L536.0 78.8L537.0 78.8L538.0 78.8L539.0 78.8L540.0 78.8L541.0 78.8" fill="none" stroke="#52bf8a" stroke-width="2.00"/>
<path d="M304.0 75.6L305.0 75.6L306.0 75.6L307.0 75.6L308.0 75.6L309.0 75.6L310.0 75.6L311.0 75.6L312.0 75.5L313.0 75.5L314.0 75.5L315.0 75.5L316.0 75.5L317.0 75.5L318.0 75.5L319.0 75.5L320.0 75.5L321.0 75.5L322.0 75.5L323.0 75.5L324.0 75.5L325.0 75.5L326.0 75.5L327.0 75.5L328.0 75.5L329.0 75.5L330.0 75.5L331.0 75.5L332.0 75.5L333.0 75.5L334.0 75.5L335.0 75.5L336.0 75.5L337.0 75.5L338.0 75.5L339.0 75.5L340.0 75.5L341.0 75.5L342.0 75.5L343.0 75.5L344.0 75.5L345.0 75.5L346.0 75.5L347.0 75.5L348.0 75.5L349.0 75.5L350.0 75.5L351.0 75.5L352.0 75.5L353.0 75.5L354.0 75.5L355.0 75.5L356.0 75.5L357.0 75.5L358.0 75.5L359.0 75.4L360.0 75.4L361.0 75.4L362.0 75.4L363.0 75.4L364.0 75.4L365.0 75.4L366.0 75.4L367.0 75.4L368.0 75.4L369.0 75.4L370.0 75.4L371.0 75.4L372.0 75.4L373.0 75.4L374.0 75.4L375.0 75.3L376.0 75.3L377.0 75.3L378.0 75.3L379.0 75.3L380.0 75.3L381.0 75.3L382.0 75.3L383.0 75.2L384.0 75.2L385.0 75.2L386.0 75.2L387.0 75.2L388.0 75.2L389.0 75.1L390.0 75.1L391.0 75.1L392.0 75.1L393.0 75.1L394.0 75.0L395.0 75.0L396.0 75.0L397.0 75.0L398.0 74.9L399.0 74.9L400.0 74.9L401.0 74.8L402.0 74.8L403.0 74.7L404.0 74.7L405.0 74.6L406.0 74.6L407.0 74.5L408.0 74.5L409.0 74.4L410.0 74.3L411.0 74.2L412.0 74.1L413.0 74.0L414.0 73.9L415.0 73.7L416.0 73.5L417.0 73.4L418.0 73.1L419.0 72.9L420.0 72.6L421.0 72.3L422.0 72.0L423.0 71.6L424.0 71.1L425.0 70.6L426.0 70.0L427.0 69.4L428.0 68.7L429.0 67.9L430.0 67.0L431.0 66.1L432.0 65.0L433.0 63.9L434.0 62.7L435.0 61.4L436.0 60.0L437.0 58.5L438.0 57.0L439.0 55.4L440.0 53.7L441.0 52.0L442.0 50.2L443.0 48.4L444.0 46.6L445.0 44.9L446.0 43.1L447.0 41.5L448.0 39.9L449.0 38.4L450.0 37.1L451.0 36.0L452.0 35.1L453.0 34.4L454.0 34.0L455.0 33.8L456.0 33.9L457.0 34.3L458.0 34.9L459.0 35.7L460.0 36.7L461.0 37.9L462.0 39.3L463.0 40.8L464.0 42.5L465.0 44.2L466.0 46.0L467.0 47.8L468.0 49.7L469.0 51.6L470.0 53.4L471.0 55.2L472.0 57.0L473.0 58.7L474.0 60.3L475.0 61.9L476.0 63.3L477.0 64.7L478.0 66.0L479.0 67.1L480.0 68.2L481.0 69.2L482.0 70.1L483.0 70.9L484.0 71.7L485.0 72.3L486.0 72.9L487.0 73.4L488.0 73.9L489.0 74.3L490.0 74.6L491.0 75.0L492.0 75.2L493.0 75.5L494.0 75.7L495.0 75.9L496.0 76.0L497.0 76.2L498.0 76.3L499.0 76.4L500.0 76.5L501.0 76.6L502.0 76.7L503.0 76.7L504.0 76.8L505.0 76.8L506.0 76.9L507.0 76.9L508.0 77.0L509.0 77.0L510.0 77.1L511.0 77.1L512.0 77.2L513.0 77.2L514.0 77.2L515.0 77.3L516.0 77.3L517.0 77.3L518.0 77.4L519.0 77.4L520.0 77.4L521.0 77.4L522.0 77.5L523.0 77.5L524.0 77.5L525.0 77.6L526.0 77.6L527.0 77.6L528.0 77.6L529.0 77.6L530.0 77.7L531.0 77.7L532.0 77.7L533.0 77.7L534.0 77.8L535.0 77.8L536.0 77.8L537.0 77.8L538.0 77.8L539.0 77.8L540.0 77.9L541.0 77.9" fill="none" stroke="#000" stroke-width="2.10" stroke-dasharray="1.85 1.5"/>
<path d="M304.0 137.6L305.0 137.6L306.0 137.6L307.0 137.6L308.0 137.6L309.0 137.6L310.0 137.6L311.0 137.6L312.0 137.6L313.0 137.6L314.0 137.6L315.0 137.6L316.0 137.6L317.0 137.6L318.0 137.6L319.0 137.6L320.0 137.6L321.0 137.6L322.0 137.6L323.0 137.6L324.0 137.6L325.0 137.6L326.0 137.6L327.0 137.6L328.0 137.6L329.0 137.6L330.0 137.6L331.0 137.6L332.0 137.6L333.0 137.6L334.0 137.6L335.0 137.6L336.0 137.6L337.0 137.6L338.0 137.6L339.0 137.6L340.0 137.6L341.0 137.6L342.0 137.6L343.0 137.6L344.0 137.6L345.0 137.6L346.0 137.6L347.0 137.6L348.0 137.6L349.0 137.6L350.0 137.6L351.0 137.6L352.0 137.6L353.0 137.6L354.0 137.6L355.0 137.6L356.0 137.5L357.0 137.5L358.0 137.5L359.0 137.5L360.0 137.5L361.0 137.5L362.0 137.5L363.0 137.5L364.0 137.5L365.0 137.5L366.0 137.5L367.0 137.5L368.0 137.5L369.0 137.5L370.0 137.5L371.0 137.5L372.0 137.5L373.0 137.5L374.0 137.5L375.0 137.5L376.0 137.4L377.0 137.4L378.0 137.4L379.0 137.4L380.0 137.4L381.0 137.4L382.0 137.4L383.0 137.4L384.0 137.3L385.0 137.3L386.0 137.3L387.0 137.3L388.0 137.3L389.0 137.3L390.0 137.2L391.0 137.2L392.0 137.2L393.0 137.2L394.0 137.1L395.0 137.1L396.0 137.1L397.0 137.0L398.0 137.0L399.0 136.9L400.0 136.9L401.0 136.8L402.0 136.8L403.0 136.7L404.0 136.7L405.0 136.6L406.0 136.5L407.0 136.4L408.0 136.3L409.0 136.2L410.0 136.1L411.0 135.9L412.0 135.7L413.0 135.5L414.0 135.3L415.0 135.1L416.0 134.8L417.0 134.5L418.0 134.1L419.0 133.7L420.0 133.3L421.0 132.7L422.0 132.2L423.0 131.5L424.0 130.8L425.0 130.0L426.0 129.1L427.0 128.2L428.0 127.1L429.0 125.9L430.0 124.7L431.0 123.3L432.0 121.9L433.0 120.3L434.0 118.7L435.0 117.0L436.0 115.1L437.0 113.2L438.0 111.3L439.0 109.3L440.0 107.2L441.0 105.1L442.0 103.0L443.0 100.9L444.0 98.9L445.0 96.9L446.0 95.0L447.0 93.2L448.0 91.6L449.0 90.2L450.0 88.9L451.0 87.9L452.0 87.2L453.0 86.7L454.0 86.5L455.0 86.7L456.0 87.1L457.0 87.8L458.0 88.8L459.0 90.1L460.0 91.6L461.0 93.3L462.0 95.2L463.0 97.2L464.0 99.4L465.0 101.6L466.0 103.9L467.0 106.2L468.0 108.5L469.0 110.8L470.0 113.0L471.0 115.2L472.0 117.3L473.0 119.3L474.0 121.2L475.0 123.0L476.0 124.7L477.0 126.3L478.0 127.7L479.0 129.0L480.0 130.3L481.0 131.4L482.0 132.4L483.0 133.2L484.0 134.0L485.0 134.8L486.0 135.4L487.0 135.9L488.0 136.4L489.0 136.8L490.0 137.2L491.0 137.5L492.0 137.8L493.0 138.1L494.0 138.3L495.0 138.5L496.0 138.6L497.0 138.8L498.0 138.9L499.0 139.0L500.0 139.1L501.0 139.2L502.0 139.3L503.0 139.3L504.0 139.4L505.0 139.5L506.0 139.5L507.0 139.6L508.0 139.6L509.0 139.7L510.0 139.7L511.0 139.8L512.0 139.8L513.0 139.8L514.0 139.9L515.0 139.9L516.0 139.9L517.0 140.0L518.0 140.0L519.0 140.1L520.0 140.1L521.0 140.1L522.0 140.2L523.0 140.2L524.0 140.2L525.0 140.2L526.0 140.3L527.0 140.3L528.0 140.3L529.0 140.4L530.0 140.4L531.0 140.4L532.0 140.5L533.0 140.5L534.0 140.5L535.0 140.5L536.0 140.6L537.0 140.6L538.0 140.6L539.0 140.7L540.0 140.7L541.0 140.7" fill="none" stroke="#ee3a4a" stroke-width="2.20" stroke-linejoin="round"/>
<path d="M304.0 138.5L305.0 138.5L306.0 138.5L307.0 138.5L308.0 138.5L309.0 138.5L310.0 138.5L311.0 138.5L312.0 138.5L313.0 138.5L314.0 138.5L315.0 138.5L316.0 138.5L317.0 138.5L318.0 138.5L319.0 138.5L320.0 138.6L321.0 138.6L322.0 138.6L323.0 138.6L324.0 138.6L325.0 138.6L326.0 138.6L327.0 138.6L328.0 138.6L329.0 138.6L330.0 138.6L331.0 138.6L332.0 138.6L333.0 138.6L334.0 138.6L335.0 138.6L336.0 138.6L337.0 138.6L338.0 138.6L339.0 138.6L340.0 138.6L341.0 138.6L342.0 138.6L343.0 138.7L344.0 138.7L345.0 138.7L346.0 138.7L347.0 138.7L348.0 138.7L349.0 138.7L350.0 138.7L351.0 138.7L352.0 138.7L353.0 138.7L354.0 138.7L355.0 138.7L356.0 138.7L357.0 138.8L358.0 138.8L359.0 138.8L360.0 138.8L361.0 138.8L362.0 138.8L363.0 138.8L364.0 138.8L365.0 138.8L366.0 138.8L367.0 138.8L368.0 138.8L369.0 138.8L370.0 138.9L371.0 138.9L372.0 138.9L373.0 138.9L374.0 138.9L375.0 138.9L376.0 138.9L377.0 138.9L378.0 138.9L379.0 138.9L380.0 138.9L381.0 139.0L382.0 139.0L383.0 139.0L384.0 139.0L385.0 139.0L386.0 139.0L387.0 139.0L388.0 139.0L389.0 139.0L390.0 139.0L391.0 139.1L392.0 139.1L393.0 139.1L394.0 139.1L395.0 139.1L396.0 139.1L397.0 139.1L398.0 139.1L399.0 139.1L400.0 139.1L401.0 139.2L402.0 139.2L403.0 139.2L404.0 139.2L405.0 139.2L406.0 139.2L407.0 139.2L408.0 139.2L409.0 139.2L410.0 139.2L411.0 139.3L412.0 139.3L413.0 139.3L414.0 139.3L415.0 139.3L416.0 139.3L417.0 139.3L418.0 139.3L419.0 139.4L420.0 139.4L421.0 139.4L422.0 139.4L423.0 139.4L424.0 139.4L425.0 139.4L426.0 139.5L427.0 139.5L428.0 139.5L429.0 139.5L430.0 139.5L431.0 139.6L432.0 139.6L433.0 139.6L434.0 139.6L435.0 139.6L436.0 139.6L437.0 139.7L438.0 139.7L439.0 139.7L440.0 139.7L441.0 139.8L442.0 139.8L443.0 139.8L444.0 139.8L445.0 139.9L446.0 139.9L447.0 139.9L448.0 139.9L449.0 140.0L450.0 140.0L451.0 140.0L452.0 140.1L453.0 140.1L454.0 140.2L455.0 140.2L456.0 140.2L457.0 140.3L458.0 140.3L459.0 140.3L460.0 140.4L461.0 140.4L462.0 140.4L463.0 140.4L464.0 140.5L465.0 140.5L466.0 140.5L467.0 140.6L468.0 140.6L469.0 140.6L470.0 140.6L471.0 140.6L472.0 140.7L473.0 140.7L474.0 140.7L475.0 140.7L476.0 140.7L477.0 140.7L478.0 140.7L479.0 140.8L480.0 140.8L481.0 140.8L482.0 140.8L483.0 140.8L484.0 140.8L485.0 140.8L486.0 140.8L487.0 140.8L488.0 140.9L489.0 140.9L490.0 140.9L491.0 140.9L492.0 140.9L493.0 140.9L494.0 140.9L495.0 140.9L496.0 141.0L497.0 141.0L498.0 141.0L499.0 141.0L500.0 141.0L501.0 141.0L502.0 141.0L503.0 141.1L504.0 141.1L505.0 141.1L506.0 141.1L507.0 141.1L508.0 141.1L509.0 141.1L510.0 141.2L511.0 141.2L512.0 141.2L513.0 141.2L514.0 141.2L515.0 141.2L516.0 141.3L517.0 141.3L518.0 141.3L519.0 141.3L520.0 141.3L521.0 141.4L522.0 141.4L523.0 141.4L524.0 141.4L525.0 141.4L526.0 141.4L527.0 141.5L528.0 141.5L529.0 141.5L530.0 141.5L531.0 141.5L532.0 141.6L533.0 141.6L534.0 141.6L535.0 141.6L536.0 141.6L537.0 141.6L538.0 141.7L539.0 141.7L540.0 141.7L541.0 141.7" fill="none" stroke="#52bf8a" stroke-width="2.00"/>
<path d="M304.0 137.6L305.0 137.6L306.0 137.6L307.0 137.6L308.0 137.6L309.0 137.6L310.0 137.6L311.0 137.6L312.0 137.6L313.0 137.6L314.0 137.6L315.0 137.6L316.0 137.6L317.0 137.6L318.0 137.6L319.0 137.6L320.0 137.6L321.0 137.6L322.0 137.6L323.0 137.6L324.0 137.6L325.0 137.6L326.0 137.6L327.0 137.6L328.0 137.6L329.0 137.6L330.0 137.6L331.0 137.6L332.0 137.6L333.0 137.6L334.0 137.6L335.0 137.6L336.0 137.6L337.0 137.6L338.0 137.6L339.0 137.6L340.0 137.6L341.0 137.6L342.0 137.6L343.0 137.6L344.0 137.6L345.0 137.6L346.0 137.6L347.0 137.6L348.0 137.6L349.0 137.6L350.0 137.6L351.0 137.6L352.0 137.6L353.0 137.6L354.0 137.6L355.0 137.6L356.0 137.5L357.0 137.5L358.0 137.5L359.0 137.5L360.0 137.5L361.0 137.5L362.0 137.5L363.0 137.5L364.0 137.5L365.0 137.5L366.0 137.5L367.0 137.5L368.0 137.5L369.0 137.5L370.0 137.5L371.0 137.5L372.0 137.5L373.0 137.5L374.0 137.5L375.0 137.5L376.0 137.4L377.0 137.4L378.0 137.4L379.0 137.4L380.0 137.4L381.0 137.4L382.0 137.4L383.0 137.4L384.0 137.3L385.0 137.3L386.0 137.3L387.0 137.3L388.0 137.3L389.0 137.3L390.0 137.2L391.0 137.2L392.0 137.2L393.0 137.2L394.0 137.1L395.0 137.1L396.0 137.1L397.0 137.0L398.0 137.0L399.0 136.9L400.0 136.9L401.0 136.8L402.0 136.8L403.0 136.7L404.0 136.7L405.0 136.6L406.0 136.5L407.0 136.4L408.0 136.3L409.0 136.2L410.0 136.1L411.0 135.9L412.0 135.7L413.0 135.5L414.0 135.3L415.0 135.1L416.0 134.8L417.0 134.5L418.0 134.1L419.0 133.7L420.0 133.3L421.0 132.7L422.0 132.2L423.0 131.5L424.0 130.8L425.0 130.0L426.0 129.1L427.0 128.2L428.0 127.1L429.0 125.9L430.0 124.7L431.0 123.3L432.0 121.9L433.0 120.3L434.0 118.7L435.0 117.0L436.0 115.1L437.0 113.2L438.0 111.3L439.0 109.3L440.0 107.2L441.0 105.1L442.0 103.0L443.0 100.9L444.0 98.9L445.0 96.9L446.0 95.0L447.0 93.2L448.0 91.6L449.0 90.2L450.0 88.9L451.0 87.9L452.0 87.2L453.0 86.7L454.0 86.5L455.0 86.7L456.0 87.1L457.0 87.8L458.0 88.8L459.0 90.1L460.0 91.6L461.0 93.3L462.0 95.2L463.0 97.2L464.0 99.4L465.0 101.6L466.0 103.9L467.0 106.2L468.0 108.5L469.0 110.8L470.0 113.0L471.0 115.2L472.0 117.3L473.0 119.3L474.0 121.2L475.0 123.0L476.0 124.7L477.0 126.3L478.0 127.7L479.0 129.0L480.0 130.3L481.0 131.4L482.0 132.4L483.0 133.2L484.0 134.0L485.0 134.8L486.0 135.4L487.0 135.9L488.0 136.4L489.0 136.8L490.0 137.2L491.0 137.5L492.0 137.8L493.0 138.1L494.0 138.3L495.0 138.5L496.0 138.6L497.0 138.8L498.0 138.9L499.0 139.0L500.0 139.1L501.0 139.2L502.0 139.3L503.0 139.3L504.0 139.4L505.0 139.5L506.0 139.5L507.0 139.6L508.0 139.6L509.0 139.7L510.0 139.7L511.0 139.8L512.0 139.8L513.0 139.8L514.0 139.9L515.0 139.9L516.0 139.9L517.0 140.0L518.0 140.0L519.0 140.1L520.0 140.1L521.0 140.1L522.0 140.2L523.0 140.2L524.0 140.2L525.0 140.2L526.0 140.3L527.0 140.3L528.0 140.3L529.0 140.4L530.0 140.4L531.0 140.4L532.0 140.5L533.0 140.5L534.0 140.5L535.0 140.5L536.0 140.6L537.0 140.6L538.0 140.6L539.0 140.7L540.0 140.7L541.0 140.7" fill="none" stroke="#000" stroke-width="2.10" stroke-dasharray="1.85 1.5"/>
<path d="M304.0 190.3L305.0 190.3L306.0 190.3L307.0 190.3L308.0 190.3L309.0 190.3L310.0 190.3L311.0 190.3L312.0 190.3L313.0 190.3L314.0 190.3L315.0 190.3L316.0 190.3L317.0 190.3L318.0 190.3L319.0 190.3L320.0 190.3L321.0 190.3L322.0 190.3L323.0 190.3L324.0 190.3L325.0 190.3L326.0 190.3L327.0 190.3L328.0 190.3L329.0 190.3L330.0 190.3L331.0 190.3L332.0 190.3L333.0 190.3L334.0 190.3L335.0 190.3L336.0 190.3L337.0 190.3L338.0 190.3L339.0 190.3L340.0 190.3L341.0 190.2L342.0 190.2L343.0 190.2L344.0 190.2L345.0 190.2L346.0 190.2L347.0 190.2L348.0 190.2L349.0 190.2L350.0 190.2L351.0 190.2L352.0 190.2L353.0 190.2L354.0 190.2L355.0 190.2L356.0 190.2L357.0 190.2L358.0 190.2L359.0 190.2L360.0 190.2L361.0 190.1L362.0 190.1L363.0 190.1L364.0 190.1L365.0 190.1L366.0 190.1L367.0 190.1L368.0 190.1L369.0 190.1L370.0 190.1L371.0 190.1L372.0 190.0L373.0 190.0L374.0 190.0L375.0 190.0L376.0 190.0L377.0 190.0L378.0 190.0L379.0 189.9L380.0 189.9L381.0 189.9L382.0 189.9L383.0 189.9L384.0 189.9L385.0 189.8L386.0 189.8L387.0 189.8L388.0 189.8L389.0 189.7L390.0 189.7L391.0 189.7L392.0 189.7L393.0 189.6L394.0 189.6L395.0 189.5L396.0 189.5L397.0 189.5L398.0 189.4L399.0 189.4L400.0 189.3L401.0 189.3L402.0 189.2L403.0 189.2L404.0 189.1L405.0 189.0L406.0 188.9L407.0 188.9L408.0 188.8L409.0 188.7L410.0 188.5L411.0 188.4L412.0 188.3L413.0 188.1L414.0 187.9L415.0 187.7L416.0 187.5L417.0 187.2L418.0 186.9L419.0 186.5L420.0 186.1L421.0 185.7L422.0 185.2L423.0 184.6L424.0 183.9L425.0 183.2L426.0 182.4L427.0 181.6L428.0 180.6L429.0 179.5L430.0 178.4L431.0 177.2L432.0 175.8L433.0 174.4L434.0 172.9L435.0 171.3L436.0 169.6L437.0 167.9L438.0 166.2L439.0 164.4L440.0 162.6L441.0 160.8L442.0 159.0L443.0 157.4L444.0 155.8L445.0 154.4L446.0 153.2L447.0 152.1L448.0 151.4L449.0 150.9L450.0 150.7L451.0 150.8L452.0 151.1L453.0 151.6L454.0 152.4L455.0 153.4L456.0 154.6L457.0 156.0L458.0 157.4L459.0 159.0L460.0 160.7L461.0 162.5L462.0 164.3L463.0 166.1L464.0 168.0L465.0 169.8L466.0 171.5L467.0 173.3L468.0 174.9L469.0 176.5L470.0 178.0L471.0 179.4L472.0 180.7L473.0 181.9L474.0 183.0L475.0 184.0L476.0 185.0L477.0 185.8L478.0 186.5L479.0 187.2L480.0 187.8L481.0 188.3L482.0 188.8L483.0 189.2L484.0 189.5L485.0 189.8L486.0 190.1L487.0 190.3L488.0 190.5L489.0 190.7L490.0 190.8L491.0 190.9L492.0 191.0L493.0 191.1L494.0 191.2L495.0 191.3L496.0 191.4L497.0 191.4L498.0 191.5L499.0 191.5L500.0 191.6L501.0 191.6L502.0 191.6L503.0 191.7L504.0 191.7L505.0 191.7L506.0 191.8L507.0 191.8L508.0 191.8L509.0 191.9L510.0 191.9L511.0 191.9L512.0 191.9L513.0 192.0L514.0 192.0L515.0 192.0L516.0 192.0L517.0 192.1L518.0 192.1L519.0 192.1L520.0 192.1L521.0 192.2L522.0 192.2L523.0 192.2L524.0 192.2L525.0 192.3L526.0 192.3L527.0 192.3L528.0 192.3L529.0 192.4L530.0 192.4L531.0 192.4L532.0 192.4L533.0 192.4L534.0 192.5L535.0 192.5L536.0 192.5L537.0 192.5L538.0 192.6L539.0 192.6L540.0 192.6L541.0 192.6" fill="none" stroke="#ee3a4a" stroke-width="2.20" stroke-linejoin="round"/>
<path d="M304.0 191.2L305.0 191.2L306.0 191.2L307.0 191.2L308.0 191.2L309.0 191.2L310.0 191.2L311.0 191.2L312.0 191.2L313.0 191.2L314.0 191.2L315.0 191.2L316.0 191.2L317.0 191.2L318.0 191.2L319.0 191.2L320.0 191.2L321.0 191.2L322.0 191.2L323.0 191.2L324.0 191.2L325.0 191.2L326.0 191.2L327.0 191.2L328.0 191.2L329.0 191.2L330.0 191.3L331.0 191.3L332.0 191.3L333.0 191.3L334.0 191.3L335.0 191.3L336.0 191.3L337.0 191.3L338.0 191.3L339.0 191.3L340.0 191.3L341.0 191.3L342.0 191.3L343.0 191.3L344.0 191.3L345.0 191.3L346.0 191.3L347.0 191.3L348.0 191.3L349.0 191.3L350.0 191.3L351.0 191.3L352.0 191.3L353.0 191.3L354.0 191.3L355.0 191.3L356.0 191.3L357.0 191.3L358.0 191.3L359.0 191.3L360.0 191.3L361.0 191.3L362.0 191.3L363.0 191.3L364.0 191.3L365.0 191.3L366.0 191.3L367.0 191.3L368.0 191.3L369.0 191.4L370.0 191.4L371.0 191.4L372.0 191.4L373.0 191.4L374.0 191.4L375.0 191.4L376.0 191.4L377.0 191.4L378.0 191.4L379.0 191.4L380.0 191.4L381.0 191.4L382.0 191.4L383.0 191.4L384.0 191.4L385.0 191.4L386.0 191.4L387.0 191.4L388.0 191.4L389.0 191.4L390.0 191.4L391.0 191.4L392.0 191.4L393.0 191.4L394.0 191.4L395.0 191.5L396.0 191.5L397.0 191.5L398.0 191.5L399.0 191.5L400.0 191.5L401.0 191.5L402.0 191.5L403.0 191.5L404.0 191.5L405.0 191.5L406.0 191.5L407.0 191.5L408.0 191.5L409.0 191.5L410.0 191.5L411.0 191.5L412.0 191.5L413.0 191.5L414.0 191.5L415.0 191.6L416.0 191.6L417.0 191.6L418.0 191.6L419.0 191.6L420.0 191.6L421.0 191.6L422.0 191.6L423.0 191.6L424.0 191.6L425.0 191.6L426.0 191.7L427.0 191.7L428.0 191.7L429.0 191.7L430.0 191.7L431.0 191.7L432.0 191.7L433.0 191.7L434.0 191.7L435.0 191.8L436.0 191.8L437.0 191.8L438.0 191.8L439.0 191.8L440.0 191.8L441.0 191.8L442.0 191.8L443.0 191.9L444.0 191.9L445.0 191.9L446.0 191.9L447.0 191.9L448.0 191.9L449.0 192.0L450.0 192.0L451.0 192.0L452.0 192.0L453.0 192.0L454.0 192.0L455.0 192.1L456.0 192.1L457.0 192.1L458.0 192.1L459.0 192.1L460.0 192.1L461.0 192.2L462.0 192.2L463.0 192.2L464.0 192.2L465.0 192.2L466.0 192.2L467.0 192.3L468.0 192.3L469.0 192.3L470.0 192.3L471.0 192.3L472.0 192.3L473.0 192.4L474.0 192.4L475.0 192.4L476.0 192.4L477.0 192.4L478.0 192.4L479.0 192.4L480.0 192.5L481.0 192.5L482.0 192.5L483.0 192.5L484.0 192.5L485.0 192.5L486.0 192.5L487.0 192.6L488.0 192.6L489.0 192.6L490.0 192.6L491.0 192.6L492.0 192.6L493.0 192.6L494.0 192.7L495.0 192.7L496.0 192.7L497.0 192.7L498.0 192.7L499.0 192.7L500.0 192.8L501.0 192.8L502.0 192.8L503.0 192.8L504.0 192.8L505.0 192.8L506.0 192.9L507.0 192.9L508.0 192.9L509.0 192.9L510.0 192.9L511.0 192.9L512.0 193.0L513.0 193.0L514.0 193.0L515.0 193.0L516.0 193.0L517.0 193.0L518.0 193.1L519.0 193.1L520.0 193.1L521.0 193.1L522.0 193.1L523.0 193.1L524.0 193.2L525.0 193.2L526.0 193.2L527.0 193.2L528.0 193.2L529.0 193.3L530.0 193.3L531.0 193.3L532.0 193.3L533.0 193.3L534.0 193.3L535.0 193.4L536.0 193.4L537.0 193.4L538.0 193.4L539.0 193.4L540.0 193.5L541.0 193.5" fill="none" stroke="#52bf8a" stroke-width="2.00"/>
<path d="M304.0 190.3L305.0 190.3L306.0 190.3L307.0 190.3L308.0 190.3L309.0 190.3L310.0 190.3L311.0 190.3L312.0 190.3L313.0 190.3L314.0 190.3L315.0 190.3L316.0 190.3L317.0 190.3L318.0 190.3L319.0 190.3L320.0 190.3L321.0 190.3L322.0 190.3L323.0 190.3L324.0 190.3L325.0 190.3L326.0 190.3L327.0 190.3L328.0 190.3L329.0 190.3L330.0 190.3L331.0 190.3L332.0 190.3L333.0 190.3L334.0 190.3L335.0 190.3L336.0 190.3L337.0 190.3L338.0 190.3L339.0 190.3L340.0 190.3L341.0 190.2L342.0 190.2L343.0 190.2L344.0 190.2L345.0 190.2L346.0 190.2L347.0 190.2L348.0 190.2L349.0 190.2L350.0 190.2L351.0 190.2L352.0 190.2L353.0 190.2L354.0 190.2L355.0 190.2L356.0 190.2L357.0 190.2L358.0 190.2L359.0 190.2L360.0 190.2L361.0 190.1L362.0 190.1L363.0 190.1L364.0 190.1L365.0 190.1L366.0 190.1L367.0 190.1L368.0 190.1L369.0 190.1L370.0 190.1L371.0 190.1L372.0 190.0L373.0 190.0L374.0 190.0L375.0 190.0L376.0 190.0L377.0 190.0L378.0 190.0L379.0 189.9L380.0 189.9L381.0 189.9L382.0 189.9L383.0 189.9L384.0 189.9L385.0 189.8L386.0 189.8L387.0 189.8L388.0 189.8L389.0 189.7L390.0 189.7L391.0 189.7L392.0 189.7L393.0 189.6L394.0 189.6L395.0 189.5L396.0 189.5L397.0 189.5L398.0 189.4L399.0 189.4L400.0 189.3L401.0 189.3L402.0 189.2L403.0 189.2L404.0 189.1L405.0 189.0L406.0 188.9L407.0 188.9L408.0 188.8L409.0 188.7L410.0 188.5L411.0 188.4L412.0 188.3L413.0 188.1L414.0 187.9L415.0 187.7L416.0 187.5L417.0 187.2L418.0 186.9L419.0 186.5L420.0 186.1L421.0 185.7L422.0 185.2L423.0 184.6L424.0 183.9L425.0 183.2L426.0 182.4L427.0 181.6L428.0 180.6L429.0 179.5L430.0 178.4L431.0 177.2L432.0 175.8L433.0 174.4L434.0 172.9L435.0 171.3L436.0 169.6L437.0 167.9L438.0 166.2L439.0 164.4L440.0 162.6L441.0 160.8L442.0 159.0L443.0 157.4L444.0 155.8L445.0 154.4L446.0 153.2L447.0 152.1L448.0 151.4L449.0 150.9L450.0 150.7L451.0 150.8L452.0 151.1L453.0 151.6L454.0 152.4L455.0 153.4L456.0 154.6L457.0 156.0L458.0 157.4L459.0 159.0L460.0 160.7L461.0 162.5L462.0 164.3L463.0 166.1L464.0 168.0L465.0 169.8L466.0 171.5L467.0 173.3L468.0 174.9L469.0 176.5L470.0 178.0L471.0 179.4L472.0 180.7L473.0 181.9L474.0 183.0L475.0 184.0L476.0 185.0L477.0 185.8L478.0 186.5L479.0 187.2L480.0 187.8L481.0 188.3L482.0 188.8L483.0 189.2L484.0 189.5L485.0 189.8L486.0 190.1L487.0 190.3L488.0 190.5L489.0 190.7L490.0 190.8L491.0 190.9L492.0 191.0L493.0 191.1L494.0 191.2L495.0 191.3L496.0 191.4L497.0 191.4L498.0 191.5L499.0 191.5L500.0 191.6L501.0 191.6L502.0 191.6L503.0 191.7L504.0 191.7L505.0 191.7L506.0 191.8L507.0 191.8L508.0 191.8L509.0 191.9L510.0 191.9L511.0 191.9L512.0 191.9L513.0 192.0L514.0 192.0L515.0 192.0L516.0 192.0L517.0 192.1L518.0 192.1L519.0 192.1L520.0 192.1L521.0 192.2L522.0 192.2L523.0 192.2L524.0 192.2L525.0 192.3L526.0 192.3L527.0 192.3L528.0 192.3L529.0 192.4L530.0 192.4L531.0 192.4L532.0 192.4L533.0 192.4L534.0 192.5L535.0 192.5L536.0 192.5L537.0 192.5L538.0 192.6L539.0 192.6L540.0 192.6L541.0 192.6" fill="none" stroke="#000" stroke-width="2.10" stroke-dasharray="1.85 1.5"/>
<rect x="31.4" y="315.4" width="2.2" height="2.2" fill="#d2d2d2"/>
<rect x="33.1" y="316.9" width="2.2" height="2.2" fill="#d2d2d2"/>
<rect x="34.8" y="316.5" width="2.2" height="2.2" fill="#d2d2d2"/>
<rect x="36.5" y="316.9" width="2.2" height="2.2" fill="#d2d2d2"/>
<rect x="38.2" y="316.3" width="2.2" height="2.2" fill="#d2d2d2"/>
<rect x="39.9" y="317.6" width="2.2" height="2.2" fill="#d2d2d2"/>
<rect x="41.6" y="319.7" width="2.2" height="2.2" fill="#d2d2d2"/>
<rect x="43.3" y="319.0" width="2.2" height="2.2" fill="#d2d2d2"/>
<rect x="45.0" y="320.0" width="2.2" height="2.2" fill="#d2d2d2"/>
<rect x="46.7" y="319.2" width="2.2" height="2.2" fill="#d2d2d2"/>
<rect x="48.4" y="319.5" width="2.2" height="2.2" fill="#d2d2d2"/>
<rect x="50.1" y="319.3" width="2.2" height="2.2" fill="#d2d2d2"/>
<rect x="51.8" y="317.0" width="2.2" height="2.2" fill="#d2d2d2"/>
<rect x="53.5" y="320.4" width="2.2" height="2.2" fill="#d2d2d2"/>
<rect x="55.2" y="320.0" width="2.2" height="2.2" fill="#d2d2d2"/>
<rect x="56.9" y="320.1" width="2.2" height="2.2" fill="#d2d2d2"/>
<rect x="58.6" y="317.3" width="2.2" height="2.2" fill="#d2d2d2"/>
<rect x="60.3" y="317.3" width="2.2" height="2.2" fill="#d2d2d2"/>
<rect x="62.0" y="318.5" width="2.2" height="2.2" fill="#d2d2d2"/>
<rect x="63.7" y="319.2" width="2.2" height="2.2" fill="#d2d2d2"/>
<rect x="65.4" y="320.3" width="2.2" height="2.2" fill="#d2d2d2"/>
<rect x="67.1" y="319.9" width="2.2" height="2.2" fill="#d2d2d2"/>
<rect x="68.8" y="320.6" width="2.2" height="2.2" fill="#d2d2d2"/>
<rect x="70.5" y="318.8" width="2.2" height="2.2" fill="#d2d2d2"/>
<rect x="72.2" y="319.8" width="2.2" height="2.2" fill="#d2d2d2"/>
<rect x="73.9" y="318.9" width="2.2" height="2.2" fill="#d2d2d2"/>
<rect x="75.6" y="315.8" width="2.2" height="2.2" fill="#d2d2d2"/>
<rect x="77.3" y="317.8" width="2.2" height="2.2" fill="#d2d2d2"/>
<rect x="79.0" y="313.8" width="2.2" height="2.2" fill="#d2d2d2"/>
<rect x="80.7" y="312.7" width="2.2" height="2.2" fill="#d2d2d2"/>
<rect x="82.4" y="309.5" width="2.2" height="2.2" fill="#d2d2d2"/>
<rect x="84.1" y="309.4" width="2.2" height="2.2" fill="#d2d2d2"/>
<rect x="85.8" y="310.7" width="2.2" height="2.2" fill="#d2d2d2"/>
<rect x="87.5" y="312.1" width="2.2" height="2.2" fill="#d2d2d2"/>
<rect x="89.2" y="313.4" width="2.2" height="2.2" fill="#d2d2d2"/>
<rect x="90.9" y="313.3" width="2.2" height="2.2" fill="#d2d2d2"/>
<rect x="92.6" y="312.4" width="2.2" height="2.2" fill="#d2d2d2"/>
<rect x="94.3" y="311.7" width="2.2" height="2.2" fill="#d2d2d2"/>
<rect x="96.0" y="312.3" width="2.2" height="2.2" fill="#d2d2d2"/>
<rect x="97.7" y="314.9" width="2.2" height="2.2" fill="#d2d2d2"/>
<rect x="99.4" y="313.0" width="2.2" height="2.2" fill="#d2d2d2"/>
<rect x="101.1" y="314.8" width="2.2" height="2.2" fill="#d2d2d2"/>
<rect x="102.8" y="316.3" width="2.2" height="2.2" fill="#d2d2d2"/>
<rect x="104.5" y="315.2" width="2.2" height="2.2" fill="#d2d2d2"/>
<rect x="106.2" y="317.9" width="2.2" height="2.2" fill="#d2d2d2"/>
<rect x="107.9" y="320.9" width="2.2" height="2.2" fill="#d2d2d2"/>
<rect x="109.6" y="317.6" width="2.2" height="2.2" fill="#d2d2d2"/>
<rect x="111.3" y="320.2" width="2.2" height="2.2" fill="#d2d2d2"/>
<rect x="113.0" y="320.6" width="2.2" height="2.2" fill="#d2d2d2"/>
<rect x="114.7" y="318.7" width="2.2" height="2.2" fill="#d2d2d2"/>
<rect x="116.4" y="318.3" width="2.2" height="2.2" fill="#d2d2d2"/>
<rect x="118.1" y="316.0" width="2.2" height="2.2" fill="#d2d2d2"/>
<rect x="119.8" y="310.6" width="2.2" height="2.2" fill="#d2d2d2"/>
<rect x="121.5" y="310.2" width="2.2" height="2.2" fill="#d2d2d2"/>
<rect x="123.2" y="308.7" width="2.2" height="2.2" fill="#d2d2d2"/>
<rect x="124.9" y="308.1" width="2.2" height="2.2" fill="#d2d2d2"/>
<rect x="126.6" y="310.1" width="2.2" height="2.2" fill="#d2d2d2"/>
<rect x="128.3" y="310.2" width="2.2" height="2.2" fill="#d2d2d2"/>
<rect x="130.0" y="313.9" width="2.2" height="2.2" fill="#d2d2d2"/>
<rect x="131.7" y="316.4" width="2.2" height="2.2" fill="#d2d2d2"/>
<rect x="133.4" y="322.5" width="2.2" height="2.2" fill="#d2d2d2"/>
<rect x="135.1" y="322.4" width="2.2" height="2.2" fill="#d2d2d2"/>
<rect x="136.8" y="324.7" width="2.2" height="2.2" fill="#d2d2d2"/>
<rect x="138.5" y="324.8" width="2.2" height="2.2" fill="#d2d2d2"/>
<rect x="140.2" y="325.6" width="2.2" height="2.2" fill="#d2d2d2"/>
<rect x="141.9" y="326.7" width="2.2" height="2.2" fill="#d2d2d2"/>
<rect x="143.6" y="329.3" width="2.2" height="2.2" fill="#d2d2d2"/>
<rect x="145.3" y="325.1" width="2.2" height="2.2" fill="#d2d2d2"/>
<rect x="147.0" y="326.1" width="2.2" height="2.2" fill="#d2d2d2"/>
<rect x="148.7" y="328.4" width="2.2" height="2.2" fill="#d2d2d2"/>
<rect x="150.4" y="330.2" width="2.2" height="2.2" fill="#d2d2d2"/>
<rect x="152.1" y="329.1" width="2.2" height="2.2" fill="#d2d2d2"/>
<rect x="153.8" y="326.0" width="2.2" height="2.2" fill="#d2d2d2"/>
<rect x="155.5" y="325.2" width="2.2" height="2.2" fill="#d2d2d2"/>
<rect x="157.2" y="329.0" width="2.2" height="2.2" fill="#d2d2d2"/>
<rect x="158.9" y="327.5" width="2.2" height="2.2" fill="#d2d2d2"/>
<rect x="160.6" y="326.9" width="2.2" height="2.2" fill="#d2d2d2"/>
<rect x="162.3" y="329.5" width="2.2" height="2.2" fill="#d2d2d2"/>
<rect x="164.0" y="329.3" width="2.2" height="2.2" fill="#d2d2d2"/>
<rect x="165.7" y="327.5" width="2.2" height="2.2" fill="#d2d2d2"/>
<rect x="167.4" y="327.3" width="2.2" height="2.2" fill="#d2d2d2"/>
<rect x="169.1" y="326.7" width="2.2" height="2.2" fill="#d2d2d2"/>
<rect x="170.8" y="327.2" width="2.2" height="2.2" fill="#d2d2d2"/>
<rect x="172.5" y="324.8" width="2.2" height="2.2" fill="#d2d2d2"/>
<rect x="174.2" y="324.1" width="2.2" height="2.2" fill="#d2d2d2"/>
<rect x="175.9" y="322.9" width="2.2" height="2.2" fill="#d2d2d2"/>
<rect x="177.6" y="318.9" width="2.2" height="2.2" fill="#d2d2d2"/>
<rect x="179.3" y="322.0" width="2.2" height="2.2" fill="#d2d2d2"/>
<rect x="181.0" y="320.5" width="2.2" height="2.2" fill="#d2d2d2"/>
<rect x="182.7" y="319.0" width="2.2" height="2.2" fill="#d2d2d2"/>
<rect x="184.4" y="315.4" width="2.2" height="2.2" fill="#d2d2d2"/>
<rect x="186.1" y="316.4" width="2.2" height="2.2" fill="#d2d2d2"/>
<rect x="187.8" y="317.6" width="2.2" height="2.2" fill="#d2d2d2"/>
<rect x="189.5" y="313.4" width="2.2" height="2.2" fill="#d2d2d2"/>
<rect x="191.2" y="315.1" width="2.2" height="2.2" fill="#d2d2d2"/>
<rect x="192.9" y="315.7" width="2.2" height="2.2" fill="#d2d2d2"/>
<rect x="194.6" y="311.6" width="2.2" height="2.2" fill="#d2d2d2"/>
<rect x="196.3" y="314.8" width="2.2" height="2.2" fill="#d2d2d2"/>
<rect x="198.0" y="312.2" width="2.2" height="2.2" fill="#d2d2d2"/>
<rect x="199.7" y="310.2" width="2.2" height="2.2" fill="#d2d2d2"/>
<rect x="201.4" y="310.4" width="2.2" height="2.2" fill="#d2d2d2"/>
<rect x="203.1" y="310.5" width="2.2" height="2.2" fill="#d2d2d2"/>
<rect x="204.8" y="310.0" width="2.2" height="2.2" fill="#d2d2d2"/>
<rect x="206.5" y="312.3" width="2.2" height="2.2" fill="#d2d2d2"/>
<rect x="208.2" y="310.7" width="2.2" height="2.2" fill="#d2d2d2"/>
<rect x="209.9" y="313.1" width="2.2" height="2.2" fill="#d2d2d2"/>
<rect x="211.6" y="317.4" width="2.2" height="2.2" fill="#d2d2d2"/>
<rect x="213.3" y="317.4" width="2.2" height="2.2" fill="#d2d2d2"/>
<rect x="215.0" y="318.6" width="2.2" height="2.2" fill="#d2d2d2"/>
<rect x="216.7" y="322.7" width="2.2" height="2.2" fill="#d2d2d2"/>
<rect x="218.4" y="323.7" width="2.2" height="2.2" fill="#d2d2d2"/>
<rect x="220.1" y="320.4" width="2.2" height="2.2" fill="#d2d2d2"/>
<rect x="221.8" y="316.1" width="2.2" height="2.2" fill="#d2d2d2"/>
<rect x="223.5" y="312.3" width="2.2" height="2.2" fill="#d2d2d2"/>
<rect x="225.2" y="308.9" width="2.2" height="2.2" fill="#d2d2d2"/>
<rect x="226.9" y="301.9" width="2.2" height="2.2" fill="#d2d2d2"/>
<rect x="228.6" y="298.7" width="2.2" height="2.2" fill="#d2d2d2"/>
<rect x="230.3" y="294.1" width="2.2" height="2.2" fill="#d2d2d2"/>
<rect x="232.0" y="297.4" width="2.2" height="2.2" fill="#d2d2d2"/>
<rect x="233.7" y="298.7" width="2.2" height="2.2" fill="#d2d2d2"/>
<rect x="235.4" y="302.7" width="2.2" height="2.2" fill="#d2d2d2"/>
<rect x="237.1" y="312.6" width="2.2" height="2.2" fill="#d2d2d2"/>
<rect x="238.8" y="321.0" width="2.2" height="2.2" fill="#d2d2d2"/>
<rect x="240.5" y="326.8" width="2.2" height="2.2" fill="#d2d2d2"/>
<rect x="242.2" y="328.5" width="2.2" height="2.2" fill="#d2d2d2"/>
<rect x="243.9" y="331.4" width="2.2" height="2.2" fill="#d2d2d2"/>
<rect x="245.6" y="333.2" width="2.2" height="2.2" fill="#d2d2d2"/>
<rect x="247.3" y="334.2" width="2.2" height="2.2" fill="#d2d2d2"/>
<rect x="249.0" y="333.8" width="2.2" height="2.2" fill="#d2d2d2"/>
<rect x="250.7" y="334.6" width="2.2" height="2.2" fill="#d2d2d2"/>
<rect x="252.4" y="335.1" width="2.2" height="2.2" fill="#d2d2d2"/>
<rect x="254.1" y="334.4" width="2.2" height="2.2" fill="#d2d2d2"/>
<rect x="255.8" y="335.5" width="2.2" height="2.2" fill="#d2d2d2"/>
<rect x="257.5" y="335.3" width="2.2" height="2.2" fill="#d2d2d2"/>
<rect x="259.2" y="337.2" width="2.2" height="2.2" fill="#d2d2d2"/>
<rect x="260.9" y="335.0" width="2.2" height="2.2" fill="#d2d2d2"/>
<rect x="262.6" y="334.1" width="2.2" height="2.2" fill="#d2d2d2"/>
<rect x="264.3" y="334.2" width="2.2" height="2.2" fill="#d2d2d2"/>
<rect x="266.0" y="334.7" width="2.2" height="2.2" fill="#d2d2d2"/>
<path d="M71.0 322.5L72.0 322.3L73.0 322.1L74.0 321.8L75.0 321.3L76.0 320.7L77.0 319.9L78.0 318.9L79.0 318.0L80.0 317.0L81.0 316.3L82.0 315.8L83.0 315.6L84.0 315.8L85.0 316.4L86.0 317.3L87.0 318.4L88.0 319.5L89.0 320.6L90.0 321.6L91.0 322.5L92.0 323.2L93.0 323.7L94.0 324.1L95.0 324.4" fill="none" stroke="#f070d0" stroke-width="2.20" stroke-linejoin="round"/>
<path d="M74.0 322.7L75.0 322.7L76.0 322.6L77.0 322.5L78.0 322.4L79.0 322.3L80.0 322.1L81.0 321.8L82.0 321.5L83.0 321.2L84.0 320.8L85.0 320.4L86.0 319.9L87.0 319.4L88.0 318.9L89.0 318.3L90.0 317.8L91.0 317.3L92.0 316.8L93.0 316.4L94.0 316.1L95.0 315.9L96.0 315.7L97.0 315.7L98.0 315.7L99.0 315.9L100.0 316.2L101.0 316.6L102.0 317.1L103.0 317.6L104.0 318.3L105.0 319.0L106.0 319.7L107.0 320.4L108.0 321.1L109.0 321.8L110.0 322.5L111.0 323.2L112.0 323.8L113.0 324.3L114.0 324.9L115.0 325.3L116.0 325.7L117.0 326.1L118.0 326.4L119.0 326.7L120.0 327.0L121.0 327.2" fill="none" stroke="#98cc48" stroke-width="2.20" stroke-linejoin="round"/>
<path d="M111.0 326.0L112.0 325.9L113.0 325.6L114.0 325.2L115.0 324.5L116.0 323.6L117.0 322.4L118.0 321.0L119.0 319.3L120.0 317.4L121.0 315.4L122.0 313.5L123.0 311.8L124.0 310.5L125.0 309.7L126.0 309.4L127.0 309.8L128.0 310.8L129.0 312.3L130.0 314.2L131.0 316.3L132.0 318.5L133.0 320.6L134.0 322.5L135.0 324.3L136.0 325.7L137.0 326.9L138.0 327.8L139.0 328.5L140.0 329.0L141.0 329.4" fill="none" stroke="#f5862a" stroke-width="2.20" stroke-linejoin="round"/>
<path d="M158.0 331.0L159.0 331.0L160.0 331.0L161.0 330.9L162.0 330.8L163.0 330.7L164.0 330.5L165.0 330.3L166.0 330.1L167.0 329.8L168.0 329.5L169.0 329.1L170.0 328.6L171.0 328.2L172.0 327.7L173.0 327.1L174.0 326.6L175.0 326.0L176.0 325.4L177.0 324.8L178.0 324.2L179.0 323.7L180.0 323.2L181.0 322.8L182.0 322.4L183.0 322.2L184.0 322.0L185.0 321.9L186.0 321.9L187.0 322.0L188.0 322.2L189.0 322.5L190.0 322.9L191.0 323.4L192.0 324.0L193.0 324.6L194.0 325.3L195.0 326.0L196.0 326.7L197.0 327.4L198.0 328.2L199.0 328.9L200.0 329.6L201.0 330.2L202.0 330.9L203.0 331.4L204.0 332.0L205.0 332.5L206.0 332.9L207.0 333.3L208.0 333.7L209.0 334.0L210.0 334.2L211.0 334.5L212.0 334.7L213.0 334.9L214.0 335.0L215.0 335.2" fill="none" stroke="#4a72d8" stroke-width="2.20" stroke-linejoin="round"/>
<path d="M180.0 332.9L181.0 332.8L182.0 332.7L183.0 332.6L184.0 332.4L185.0 332.2L186.0 331.8L187.0 331.4L188.0 330.9L189.0 330.3L190.0 329.7L191.0 328.9L192.0 328.0L193.0 326.9L194.0 325.8L195.0 324.7L196.0 323.4L197.0 322.2L198.0 320.9L199.0 319.7L200.0 318.5L201.0 317.4L202.0 316.4L203.0 315.6L204.0 315.0L205.0 314.6L206.0 314.4L207.0 314.5L208.0 314.8L209.0 315.3L210.0 316.0L211.0 316.9L212.0 318.0L213.0 319.2L214.0 320.5L215.0 321.9L216.0 323.3L217.0 324.6L218.0 326.0L219.0 327.3L220.0 328.5L221.0 329.6L222.0 330.6L223.0 331.5L224.0 332.3L225.0 333.1L226.0 333.7L227.0 334.2L228.0 334.6L229.0 335.0L230.0 335.3L231.0 335.5L232.0 335.7L233.0 335.9" fill="none" stroke="#f0bc10" stroke-width="2.20" stroke-linejoin="round"/>
<path d="M215.0 335.0L216.0 334.7L217.0 334.3L218.0 333.7L219.0 332.8L220.0 331.5L221.0 329.7L222.0 327.5L223.0 324.8L224.0 321.5L225.0 317.9L226.0 314.0L227.0 310.0L228.0 306.2L229.0 302.9L230.0 300.3L231.0 298.6L232.0 298.0L233.0 298.6L234.0 300.3L235.0 303.0L236.0 306.4L237.0 310.3L238.0 314.3L239.0 318.3L240.0 322.0L241.0 325.4L242.0 328.2L243.0 330.5L244.0 332.3L245.0 333.7L246.0 334.7L247.0 335.5L248.0 336.0L249.0 336.3" fill="none" stroke="#f03038" stroke-width="2.20" stroke-linejoin="round"/>
<path d="M32.0 318.7L33.0 319.0L34.0 319.3L35.0 319.5L36.0 319.8L37.0 320.0L38.0 320.3L39.0 320.5L40.0 320.7L41.0 320.9L42.0 321.1L43.0 321.3L44.0 321.4L45.0 321.6L46.0 321.7L47.0 321.8L48.0 321.9L49.0 322.0L50.0 322.0L51.0 322.1L52.0 322.2L53.0 322.2L54.0 322.3L55.0 322.3L56.0 322.3L57.0 322.4L58.0 322.4L59.0 322.5L60.0 322.6L61.0 322.6L62.0 322.7L63.0 322.8L64.0 322.8L65.0 322.9L66.0 323.0L67.0 323.0L68.0 323.1L69.0 323.2L70.0 323.2L71.0 323.3L72.0 323.4L73.0 323.5L74.0 323.5L75.0 323.6L76.0 323.7L77.0 323.8L78.0 323.8L79.0 323.9L80.0 324.0L81.0 324.1L82.0 324.2L83.0 324.2L84.0 324.3L85.0 324.4L86.0 324.5L87.0 324.6L88.0 324.7L89.0 324.7L90.0 324.8L91.0 324.9L92.0 325.0L93.0 325.1L94.0 325.2L95.0 325.3L96.0 325.4L97.0 325.5L98.0 325.6L99.0 325.7L100.0 325.8L101.0 325.9L102.0 326.0L103.0 326.1L104.0 326.2L105.0 326.3L106.0 326.4L107.0 326.5L108.0 326.6L109.0 326.7L110.0 326.9L111.0 327.0L112.0 327.1L113.0 327.2L114.0 327.3L115.0 327.4L116.0 327.5L117.0 327.6L118.0 327.8L119.0 327.9L120.0 328.0L121.0 328.1L122.0 328.2L123.0 328.3L124.0 328.4L125.0 328.6L126.0 328.7L127.0 328.8L128.0 328.9L129.0 329.0L130.0 329.1L131.0 329.2L132.0 329.4L133.0 329.5L134.0 329.6L135.0 329.7L136.0 329.8L137.0 329.9L138.0 330.0L139.0 330.1L140.0 330.2L141.0 330.3L142.0 330.4L143.0 330.5L144.0 330.6L145.0 330.7L146.0 330.8L147.0 330.9L148.0 331.0L149.0 331.1L150.0 331.2L151.0 331.3L152.0 331.3L153.0 331.4L154.0 331.5L155.0 331.6L156.0 331.7L157.0 331.8L158.0 331.9L159.0 332.0L160.0 332.0L161.0 332.1L162.0 332.2L163.0 332.3L164.0 332.4L165.0 332.5L166.0 332.6L167.0 332.7L168.0 332.7L169.0 332.8L170.0 332.9L171.0 333.0L172.0 333.1L173.0 333.2L174.0 333.2L175.0 333.3L176.0 333.4L177.0 333.5L178.0 333.6L179.0 333.6L180.0 333.7L181.0 333.8L182.0 333.9L183.0 333.9L184.0 334.0L185.0 334.1L186.0 334.2L187.0 334.2L188.0 334.3L189.0 334.4L190.0 334.5L191.0 334.5L192.0 334.6L193.0 334.7L194.0 334.7L195.0 334.8L196.0 334.9L197.0 334.9L198.0 335.0L199.0 335.1L200.0 335.1L201.0 335.2L202.0 335.3L203.0 335.3L204.0 335.4L205.0 335.4L206.0 335.5L207.0 335.6L208.0 335.6L209.0 335.7L210.0 335.7L211.0 335.8L212.0 335.8L213.0 335.9L214.0 335.9L215.0 336.0L216.0 336.0L217.0 336.1L218.0 336.1L219.0 336.2L220.0 336.2L221.0 336.3L222.0 336.3L223.0 336.3L224.0 336.4L225.0 336.4L226.0 336.5L227.0 336.5L228.0 336.6L229.0 336.6L230.0 336.6L231.0 336.7L232.0 336.7L233.0 336.8L234.0 336.8L235.0 336.8L236.0 336.9L237.0 336.9L238.0 336.9L239.0 337.0L240.0 337.0L241.0 337.0L242.0 337.1L243.0 337.1L244.0 337.1L245.0 337.2L246.0 337.2L247.0 337.2L248.0 337.3L249.0 337.3L250.0 337.3L251.0 337.3L252.0 337.4L253.0 337.4L254.0 337.4L255.0 337.4L256.0 337.5L257.0 337.5L258.0 337.5L259.0 337.5L260.0 337.6L261.0 337.6L262.0 337.6L263.0 337.6L264.0 337.6L265.0 337.7L266.0 337.7L267.0 337.7L268.0 337.7L269.0 337.7" fill="none" stroke="#2f9a78" stroke-width="2.00"/>
<path d="M32.0 317.7L33.0 318.0L34.0 318.3L35.0 318.5L36.0 318.8L37.0 319.0L38.0 319.3L39.0 319.5L40.0 319.7L41.0 319.9L42.0 320.1L43.0 320.2L44.0 320.4L45.0 320.5L46.0 320.7L47.0 320.8L48.0 320.9L49.0 321.0L50.0 321.0L51.0 321.1L52.0 321.1L53.0 321.2L54.0 321.2L55.0 321.3L56.0 321.3L57.0 321.4L58.0 321.4L59.0 321.5L60.0 321.5L61.0 321.6L62.0 321.6L63.0 321.7L64.0 321.8L65.0 321.8L66.0 321.9L67.0 321.9L68.0 321.9L69.0 321.9L70.0 321.9L71.0 321.8L72.0 321.7L73.0 321.4L74.0 321.0L75.0 320.4L76.0 319.6L77.0 318.6L78.0 317.5L79.0 316.3L80.0 315.1L81.0 314.0L82.0 313.1L83.0 312.5L84.0 312.3L85.0 312.4L86.0 312.7L87.0 313.2L88.0 313.7L89.0 314.2L90.0 314.6L91.0 314.9L92.0 315.0L93.0 315.0L94.0 315.0L95.0 315.0L96.0 315.0L97.0 315.0L98.0 315.1L99.0 315.3L100.0 315.6L101.0 316.0L102.0 316.5L103.0 317.1L104.0 317.7L105.0 318.4L106.0 319.1L107.0 319.8L108.0 320.5L109.0 321.2L110.0 321.7L111.0 322.2L112.0 322.6L113.0 322.7L114.0 322.7L115.0 322.4L116.0 321.8L117.0 320.9L118.0 319.6L119.0 318.1L120.0 316.4L121.0 314.5L122.0 312.7L123.0 311.1L124.0 309.8L125.0 309.0L126.0 308.8L127.0 309.2L128.0 310.2L129.0 311.7L130.0 313.6L131.0 315.7L132.0 317.9L133.0 320.1L134.0 322.0L135.0 323.7L136.0 325.2L137.0 326.4L138.0 327.3L139.0 328.0L140.0 328.5L141.0 328.9L142.0 329.1L143.0 329.4L144.0 329.5L145.0 329.7L146.0 329.8L147.0 329.9L148.0 330.0L149.0 330.0L150.0 330.1L151.0 330.2L152.0 330.3L153.0 330.3L154.0 330.4L155.0 330.4L156.0 330.5L157.0 330.5L158.0 330.5L159.0 330.5L160.0 330.5L161.0 330.4L162.0 330.3L163.0 330.2L164.0 330.0L165.0 329.8L166.0 329.6L167.0 329.3L168.0 328.9L169.0 328.6L170.0 328.1L171.0 327.7L172.0 327.1L173.0 326.6L174.0 326.0L175.0 325.4L176.0 324.8L177.0 324.2L178.0 323.5L179.0 322.9L180.0 322.4L181.0 321.8L182.0 321.3L183.0 320.8L184.0 320.3L185.0 319.9L186.0 319.5L187.0 319.2L188.0 318.8L189.0 318.5L190.0 318.1L191.0 317.7L192.0 317.3L193.0 316.9L194.0 316.4L195.0 315.8L196.0 315.3L197.0 314.7L198.0 314.1L199.0 313.5L200.0 312.9L201.0 312.4L202.0 312.0L203.0 311.7L204.0 311.6L205.0 311.6L206.0 311.8L207.0 312.2L208.0 312.8L209.0 313.6L210.0 314.5L211.0 315.6L212.0 316.8L213.0 318.1L214.0 319.4L215.0 320.6L216.0 321.8L217.0 322.7L218.0 323.4L219.0 323.8L220.0 323.7L221.0 323.0L222.0 321.8L223.0 319.9L224.0 317.5L225.0 314.5L226.0 311.1L227.0 307.6L228.0 304.2L229.0 301.2L230.0 298.9L231.0 297.4L232.0 297.1L233.0 297.8L234.0 299.6L235.0 302.3L236.0 305.8L237.0 309.7L238.0 313.7L239.0 317.8L240.0 321.5L241.0 324.8L242.0 327.7L243.0 330.0L244.0 331.8L245.0 333.2L246.0 334.2L247.0 335.0L248.0 335.5L249.0 335.8L250.0 336.0L251.0 336.2L252.0 336.3L253.0 336.3L254.0 336.4L255.0 336.4L256.0 336.5L257.0 336.5L258.0 336.5L259.0 336.5L260.0 336.6L261.0 336.6L262.0 336.6L263.0 336.6L264.0 336.6L265.0 336.7L266.0 336.7L267.0 336.7L268.0 336.7L269.0 336.7" fill="none" stroke="#000" stroke-width="2.10" stroke-dasharray="1.85 1.5"/>
<rect x="31.4" y="371.6" width="2.2" height="2.2" fill="#d2d2d2"/>
<rect x="33.1" y="370.6" width="2.2" height="2.2" fill="#d2d2d2"/>
<rect x="34.8" y="372.3" width="2.2" height="2.2" fill="#d2d2d2"/>
<rect x="36.5" y="374.8" width="2.2" height="2.2" fill="#d2d2d2"/>
<rect x="38.2" y="369.4" width="2.2" height="2.2" fill="#d2d2d2"/>
<rect x="39.9" y="371.8" width="2.2" height="2.2" fill="#d2d2d2"/>
<rect x="41.6" y="374.2" width="2.2" height="2.2" fill="#d2d2d2"/>
<rect x="43.3" y="374.6" width="2.2" height="2.2" fill="#d2d2d2"/>
<rect x="45.0" y="374.9" width="2.2" height="2.2" fill="#d2d2d2"/>
<rect x="46.7" y="374.4" width="2.2" height="2.2" fill="#d2d2d2"/>
<rect x="48.4" y="376.1" width="2.2" height="2.2" fill="#d2d2d2"/>
<rect x="50.1" y="375.7" width="2.2" height="2.2" fill="#d2d2d2"/>
<rect x="51.8" y="374.9" width="2.2" height="2.2" fill="#d2d2d2"/>
<rect x="53.5" y="378.8" width="2.2" height="2.2" fill="#d2d2d2"/>
<rect x="55.2" y="376.1" width="2.2" height="2.2" fill="#d2d2d2"/>
<rect x="56.9" y="374.8" width="2.2" height="2.2" fill="#d2d2d2"/>
<rect x="58.6" y="375.2" width="2.2" height="2.2" fill="#d2d2d2"/>
<rect x="60.3" y="374.9" width="2.2" height="2.2" fill="#d2d2d2"/>
<rect x="62.0" y="374.8" width="2.2" height="2.2" fill="#d2d2d2"/>
<rect x="63.7" y="370.8" width="2.2" height="2.2" fill="#d2d2d2"/>
<rect x="65.4" y="373.2" width="2.2" height="2.2" fill="#d2d2d2"/>
<rect x="67.1" y="374.8" width="2.2" height="2.2" fill="#d2d2d2"/>
<rect x="68.8" y="371.3" width="2.2" height="2.2" fill="#d2d2d2"/>
<rect x="70.5" y="372.0" width="2.2" height="2.2" fill="#d2d2d2"/>
<rect x="72.2" y="372.9" width="2.2" height="2.2" fill="#d2d2d2"/>
<rect x="73.9" y="372.0" width="2.2" height="2.2" fill="#d2d2d2"/>
<rect x="75.6" y="372.1" width="2.2" height="2.2" fill="#d2d2d2"/>
<rect x="77.3" y="367.6" width="2.2" height="2.2" fill="#d2d2d2"/>
<rect x="79.0" y="368.7" width="2.2" height="2.2" fill="#d2d2d2"/>
<rect x="80.7" y="368.2" width="2.2" height="2.2" fill="#d2d2d2"/>
<rect x="82.4" y="369.0" width="2.2" height="2.2" fill="#d2d2d2"/>
<rect x="84.1" y="369.4" width="2.2" height="2.2" fill="#d2d2d2"/>
<rect x="85.8" y="364.2" width="2.2" height="2.2" fill="#d2d2d2"/>
<rect x="87.5" y="369.0" width="2.2" height="2.2" fill="#d2d2d2"/>
<rect x="89.2" y="365.7" width="2.2" height="2.2" fill="#d2d2d2"/>
<rect x="90.9" y="368.6" width="2.2" height="2.2" fill="#d2d2d2"/>
<rect x="92.6" y="366.0" width="2.2" height="2.2" fill="#d2d2d2"/>
<rect x="94.3" y="368.4" width="2.2" height="2.2" fill="#d2d2d2"/>
<rect x="96.0" y="370.3" width="2.2" height="2.2" fill="#d2d2d2"/>
<rect x="97.7" y="369.2" width="2.2" height="2.2" fill="#d2d2d2"/>
<rect x="99.4" y="370.5" width="2.2" height="2.2" fill="#d2d2d2"/>
<rect x="101.1" y="371.8" width="2.2" height="2.2" fill="#d2d2d2"/>
<rect x="102.8" y="372.0" width="2.2" height="2.2" fill="#d2d2d2"/>
<rect x="104.5" y="372.8" width="2.2" height="2.2" fill="#d2d2d2"/>
<rect x="106.2" y="375.5" width="2.2" height="2.2" fill="#d2d2d2"/>
<rect x="107.9" y="376.1" width="2.2" height="2.2" fill="#d2d2d2"/>
<rect x="109.6" y="375.5" width="2.2" height="2.2" fill="#d2d2d2"/>
<rect x="111.3" y="379.9" width="2.2" height="2.2" fill="#d2d2d2"/>
<rect x="113.0" y="375.7" width="2.2" height="2.2" fill="#d2d2d2"/>
<rect x="114.7" y="378.8" width="2.2" height="2.2" fill="#d2d2d2"/>
<rect x="116.4" y="376.5" width="2.2" height="2.2" fill="#d2d2d2"/>
<rect x="118.1" y="376.1" width="2.2" height="2.2" fill="#d2d2d2"/>
<rect x="119.8" y="373.7" width="2.2" height="2.2" fill="#d2d2d2"/>
<rect x="121.5" y="368.8" width="2.2" height="2.2" fill="#d2d2d2"/>
<rect x="123.2" y="367.2" width="2.2" height="2.2" fill="#d2d2d2"/>
<rect x="124.9" y="361.6" width="2.2" height="2.2" fill="#d2d2d2"/>
<rect x="126.6" y="361.9" width="2.2" height="2.2" fill="#d2d2d2"/>
<rect x="128.3" y="366.2" width="2.2" height="2.2" fill="#d2d2d2"/>
<rect x="130.0" y="368.9" width="2.2" height="2.2" fill="#d2d2d2"/>
<rect x="131.7" y="374.3" width="2.2" height="2.2" fill="#d2d2d2"/>
<rect x="133.4" y="378.2" width="2.2" height="2.2" fill="#d2d2d2"/>
<rect x="135.1" y="383.4" width="2.2" height="2.2" fill="#d2d2d2"/>
<rect x="136.8" y="384.9" width="2.2" height="2.2" fill="#d2d2d2"/>
<rect x="138.5" y="386.9" width="2.2" height="2.2" fill="#d2d2d2"/>
<rect x="140.2" y="384.1" width="2.2" height="2.2" fill="#d2d2d2"/>
<rect x="141.9" y="385.8" width="2.2" height="2.2" fill="#d2d2d2"/>
<rect x="143.6" y="384.6" width="2.2" height="2.2" fill="#d2d2d2"/>
<rect x="145.3" y="387.2" width="2.2" height="2.2" fill="#d2d2d2"/>
<rect x="147.0" y="388.5" width="2.2" height="2.2" fill="#d2d2d2"/>
<rect x="148.7" y="385.4" width="2.2" height="2.2" fill="#d2d2d2"/>
<rect x="150.4" y="388.7" width="2.2" height="2.2" fill="#d2d2d2"/>
<rect x="152.1" y="387.9" width="2.2" height="2.2" fill="#d2d2d2"/>
<rect x="153.8" y="386.3" width="2.2" height="2.2" fill="#d2d2d2"/>
<rect x="155.5" y="383.9" width="2.2" height="2.2" fill="#d2d2d2"/>
<rect x="157.2" y="388.2" width="2.2" height="2.2" fill="#d2d2d2"/>
<rect x="158.9" y="386.0" width="2.2" height="2.2" fill="#d2d2d2"/>
<rect x="160.6" y="385.0" width="2.2" height="2.2" fill="#d2d2d2"/>
<rect x="162.3" y="386.1" width="2.2" height="2.2" fill="#d2d2d2"/>
<rect x="164.0" y="385.5" width="2.2" height="2.2" fill="#d2d2d2"/>
<rect x="165.7" y="386.3" width="2.2" height="2.2" fill="#d2d2d2"/>
<rect x="167.4" y="382.6" width="2.2" height="2.2" fill="#d2d2d2"/>
<rect x="169.1" y="384.6" width="2.2" height="2.2" fill="#d2d2d2"/>
<rect x="170.8" y="384.1" width="2.2" height="2.2" fill="#d2d2d2"/>
<rect x="172.5" y="383.0" width="2.2" height="2.2" fill="#d2d2d2"/>
<rect x="174.2" y="380.4" width="2.2" height="2.2" fill="#d2d2d2"/>
<rect x="175.9" y="378.6" width="2.2" height="2.2" fill="#d2d2d2"/>
<rect x="177.6" y="379.9" width="2.2" height="2.2" fill="#d2d2d2"/>
<rect x="179.3" y="378.2" width="2.2" height="2.2" fill="#d2d2d2"/>
<rect x="181.0" y="377.3" width="2.2" height="2.2" fill="#d2d2d2"/>
<rect x="182.7" y="378.2" width="2.2" height="2.2" fill="#d2d2d2"/>
<rect x="184.4" y="375.5" width="2.2" height="2.2" fill="#d2d2d2"/>
<rect x="186.1" y="372.1" width="2.2" height="2.2" fill="#d2d2d2"/>
<rect x="187.8" y="373.7" width="2.2" height="2.2" fill="#d2d2d2"/>
<rect x="189.5" y="370.8" width="2.2" height="2.2" fill="#d2d2d2"/>
<rect x="191.2" y="373.7" width="2.2" height="2.2" fill="#d2d2d2"/>
<rect x="192.9" y="371.9" width="2.2" height="2.2" fill="#d2d2d2"/>
<rect x="194.6" y="369.4" width="2.2" height="2.2" fill="#d2d2d2"/>
<rect x="196.3" y="369.5" width="2.2" height="2.2" fill="#d2d2d2"/>
<rect x="198.0" y="369.4" width="2.2" height="2.2" fill="#d2d2d2"/>
<rect x="199.7" y="367.3" width="2.2" height="2.2" fill="#d2d2d2"/>
<rect x="201.4" y="368.6" width="2.2" height="2.2" fill="#d2d2d2"/>
<rect x="203.1" y="366.4" width="2.2" height="2.2" fill="#d2d2d2"/>
<rect x="204.8" y="368.1" width="2.2" height="2.2" fill="#d2d2d2"/>
<rect x="206.5" y="369.6" width="2.2" height="2.2" fill="#d2d2d2"/>
<rect x="208.2" y="370.5" width="2.2" height="2.2" fill="#d2d2d2"/>
<rect x="209.9" y="369.5" width="2.2" height="2.2" fill="#d2d2d2"/>
<rect x="211.6" y="373.8" width="2.2" height="2.2" fill="#d2d2d2"/>
<rect x="213.3" y="371.4" width="2.2" height="2.2" fill="#d2d2d2"/>
<rect x="215.0" y="374.7" width="2.2" height="2.2" fill="#d2d2d2"/>
<rect x="216.7" y="375.0" width="2.2" height="2.2" fill="#d2d2d2"/>
<rect x="218.4" y="379.1" width="2.2" height="2.2" fill="#d2d2d2"/>
<rect x="220.1" y="375.1" width="2.2" height="2.2" fill="#d2d2d2"/>
<rect x="221.8" y="373.3" width="2.2" height="2.2" fill="#d2d2d2"/>
<rect x="223.5" y="367.2" width="2.2" height="2.2" fill="#d2d2d2"/>
<rect x="225.2" y="363.9" width="2.2" height="2.2" fill="#d2d2d2"/>
<rect x="226.9" y="355.9" width="2.2" height="2.2" fill="#d2d2d2"/>
<rect x="228.6" y="351.3" width="2.2" height="2.2" fill="#d2d2d2"/>
<rect x="230.3" y="351.9" width="2.2" height="2.2" fill="#d2d2d2"/>
<rect x="232.0" y="350.1" width="2.2" height="2.2" fill="#d2d2d2"/>
<rect x="233.7" y="355.7" width="2.2" height="2.2" fill="#d2d2d2"/>
<rect x="235.4" y="360.0" width="2.2" height="2.2" fill="#d2d2d2"/>
<rect x="237.1" y="367.2" width="2.2" height="2.2" fill="#d2d2d2"/>
<rect x="238.8" y="374.4" width="2.2" height="2.2" fill="#d2d2d2"/>
<rect x="240.5" y="382.2" width="2.2" height="2.2" fill="#d2d2d2"/>
<rect x="242.2" y="386.9" width="2.2" height="2.2" fill="#d2d2d2"/>
<rect x="243.9" y="387.0" width="2.2" height="2.2" fill="#d2d2d2"/>
<rect x="245.6" y="390.4" width="2.2" height="2.2" fill="#d2d2d2"/>
<rect x="247.3" y="393.1" width="2.2" height="2.2" fill="#d2d2d2"/>
<rect x="249.0" y="393.4" width="2.2" height="2.2" fill="#d2d2d2"/>
<rect x="250.7" y="392.7" width="2.2" height="2.2" fill="#d2d2d2"/>
<rect x="252.4" y="393.8" width="2.2" height="2.2" fill="#d2d2d2"/>
<rect x="254.1" y="393.0" width="2.2" height="2.2" fill="#d2d2d2"/>
<rect x="255.8" y="391.3" width="2.2" height="2.2" fill="#d2d2d2"/>
<rect x="257.5" y="390.8" width="2.2" height="2.2" fill="#d2d2d2"/>
<rect x="259.2" y="392.0" width="2.2" height="2.2" fill="#d2d2d2"/>
<rect x="260.9" y="394.1" width="2.2" height="2.2" fill="#d2d2d2"/>
<rect x="262.6" y="392.2" width="2.2" height="2.2" fill="#d2d2d2"/>
<rect x="264.3" y="391.7" width="2.2" height="2.2" fill="#d2d2d2"/>
<rect x="266.0" y="391.9" width="2.2" height="2.2" fill="#d2d2d2"/>
<path d="M56.0 378.2L57.0 378.1L58.0 378.1L59.0 378.0L60.0 377.9L61.0 377.8L62.0 377.7L63.0 377.5L64.0 377.4L65.0 377.2L66.0 377.0L67.0 376.8L68.0 376.6L69.0 376.3L70.0 376.1L71.0 375.9L72.0 375.7L73.0 375.5L74.0 375.4L75.0 375.2L76.0 375.1L77.0 375.0L78.0 375.0L79.0 375.0L80.0 375.1L81.0 375.2L82.0 375.3L83.0 375.5L84.0 375.7L85.0 376.0L86.0 376.3L87.0 376.6L88.0 377.0L89.0 377.3L90.0 377.7L91.0 378.1L92.0 378.5L93.0 378.9L94.0 379.3L95.0 379.6L96.0 380.0L97.0 380.4L98.0 380.7L99.0 381.0L100.0 381.3L101.0 381.6L102.0 381.9L103.0 382.1L104.0 382.3L105.0 382.5L106.0 382.7L107.0 382.9L108.0 383.1" fill="none" stroke="#f070d0" stroke-width="2.20" stroke-linejoin="round"/>
<path d="M66.0 378.6L67.0 378.5L68.0 378.5L69.0 378.4L70.0 378.4L71.0 378.3L72.0 378.2L73.0 378.1L74.0 378.0L75.0 377.8L76.0 377.7L77.0 377.5L78.0 377.3L79.0 377.1L80.0 376.9L81.0 376.6L82.0 376.4L83.0 376.1L84.0 375.8L85.0 375.5L86.0 375.2L87.0 374.9L88.0 374.6L89.0 374.3L90.0 374.0L91.0 373.8L92.0 373.6L93.0 373.4L94.0 373.3L95.0 373.2L96.0 373.2L97.0 373.2L98.0 373.3L99.0 373.5L100.0 373.7L101.0 373.9L102.0 374.3L103.0 374.6L104.0 375.0L105.0 375.5L106.0 375.9L107.0 376.4L108.0 377.0L109.0 377.5L110.0 378.0L111.0 378.6L112.0 379.1L113.0 379.6L114.0 380.2L115.0 380.7L116.0 381.1L117.0 381.6L118.0 382.0L119.0 382.5L120.0 382.9L121.0 383.2L122.0 383.6L123.0 383.9L124.0 384.3L125.0 384.6L126.0 384.9L127.0 385.2L128.0 385.4L129.0 385.7" fill="none" stroke="#98cc48" stroke-width="2.20" stroke-linejoin="round"/>
<path d="M114.0 383.6L115.0 383.5L116.0 383.2L117.0 382.6L118.0 381.8L119.0 380.5L120.0 378.9L121.0 376.9L122.0 374.6L123.0 372.2L124.0 369.9L125.0 368.0L126.0 366.8L127.0 366.4L128.0 366.9L129.0 368.3L130.0 370.4L131.0 373.0L132.0 375.7L133.0 378.4L134.0 380.8L135.0 382.8L136.0 384.4L137.0 385.6L138.0 386.5L139.0 387.1L140.0 387.6" fill="none" stroke="#f5862a" stroke-width="2.20" stroke-linejoin="round"/>
<path d="M155.0 389.2L156.0 389.2L157.0 389.1L158.0 389.0L159.0 388.9L160.0 388.8L161.0 388.6L162.0 388.4L163.0 388.2L164.0 388.0L165.0 387.7L166.0 387.4L167.0 387.0L168.0 386.7L169.0 386.3L170.0 385.8L171.0 385.4L172.0 384.9L173.0 384.5L174.0 384.0L175.0 383.5L176.0 383.1L177.0 382.7L178.0 382.3L179.0 381.9L180.0 381.6L181.0 381.3L182.0 381.1L183.0 381.0L184.0 380.9L185.0 380.9L186.0 381.0L187.0 381.1L188.0 381.3L189.0 381.6L190.0 381.9L191.0 382.3L192.0 382.8L193.0 383.3L194.0 383.8L195.0 384.3L196.0 384.9L197.0 385.5L198.0 386.0L199.0 386.6L200.0 387.1L201.0 387.7L202.0 388.2L203.0 388.7L204.0 389.1L205.0 389.5L206.0 389.9L207.0 390.3L208.0 390.6L209.0 390.9L210.0 391.2L211.0 391.5L212.0 391.7L213.0 391.9L214.0 392.1L215.0 392.3L216.0 392.5" fill="none" stroke="#4a72d8" stroke-width="2.20" stroke-linejoin="round"/>
<path d="M172.0 389.7L173.0 389.7L174.0 389.7L175.0 389.6L176.0 389.6L177.0 389.5L178.0 389.5L179.0 389.4L180.0 389.3L181.0 389.1L182.0 388.9L183.0 388.7L184.0 388.4L185.0 388.0L186.0 387.6L187.0 387.1L188.0 386.5L189.0 385.8L190.0 385.1L191.0 384.2L192.0 383.3L193.0 382.3L194.0 381.3L195.0 380.2L196.0 379.0L197.0 377.9L198.0 376.7L199.0 375.6L200.0 374.6L201.0 373.6L202.0 372.8L203.0 372.1L204.0 371.6L205.0 371.3L206.0 371.2L207.0 371.3L208.0 371.6L209.0 372.2L210.0 372.9L211.0 373.8L212.0 374.8L213.0 375.9L214.0 377.1L215.0 378.4L216.0 379.7L217.0 381.1L218.0 382.3L219.0 383.6L220.0 384.8L221.0 385.9L222.0 387.0L223.0 388.0L224.0 388.8L225.0 389.6L226.0 390.3L227.0 391.0L228.0 391.5L229.0 392.0L230.0 392.4L231.0 392.8L232.0 393.1L233.0 393.3L234.0 393.6L235.0 393.8L236.0 394.0L237.0 394.1L238.0 394.3L239.0 394.4L240.0 394.5L241.0 394.7" fill="none" stroke="#f0bc10" stroke-width="2.20" stroke-linejoin="round"/>
<path d="M214.0 392.3L215.0 392.2L216.0 391.9L217.0 391.5L218.0 390.8L219.0 389.8L220.0 388.5L221.0 386.6L222.0 384.3L223.0 381.3L224.0 377.9L225.0 374.0L226.0 369.8L227.0 365.6L228.0 361.5L229.0 358.0L230.0 355.2L231.0 353.4L232.0 352.8L233.0 353.5L234.0 355.3L235.0 358.2L236.0 361.8L237.0 366.0L238.0 370.4L239.0 374.8L240.0 378.9L241.0 382.5L242.0 385.7L243.0 388.3L244.0 390.3L245.0 391.9L246.0 393.0L247.0 393.9L248.0 394.4L249.0 394.8L250.0 395.1" fill="none" stroke="#f03038" stroke-width="2.20" stroke-linejoin="round"/>
<path d="M32.0 373.4L33.0 373.7L34.0 374.1L35.0 374.4L36.0 374.8L37.0 375.1L38.0 375.4L39.0 375.7L40.0 376.0L41.0 376.3L42.0 376.6L43.0 376.9L44.0 377.1L45.0 377.4L46.0 377.6L47.0 377.8L48.0 378.0L49.0 378.2L50.0 378.4L51.0 378.5L52.0 378.6L53.0 378.8L54.0 378.9L55.0 378.9L56.0 379.0L57.0 379.1L58.0 379.1L59.0 379.2L60.0 379.2L61.0 379.3L62.0 379.3L63.0 379.3L64.0 379.4L65.0 379.4L66.0 379.4L67.0 379.5L68.0 379.5L69.0 379.6L70.0 379.6L71.0 379.7L72.0 379.8L73.0 379.9L74.0 380.0L75.0 380.1L76.0 380.2L77.0 380.4L78.0 380.5L79.0 380.6L80.0 380.8L81.0 380.9L82.0 381.1L83.0 381.2L84.0 381.4L85.0 381.5L86.0 381.6L87.0 381.8L88.0 381.9L89.0 382.0L90.0 382.2L91.0 382.3L92.0 382.4L93.0 382.5L94.0 382.6L95.0 382.7L96.0 382.8L97.0 382.9L98.0 383.0L99.0 383.0L100.0 383.1L101.0 383.2L102.0 383.3L103.0 383.4L104.0 383.5L105.0 383.6L106.0 383.7L107.0 383.8L108.0 383.9L109.0 383.9L110.0 384.0L111.0 384.1L112.0 384.2L113.0 384.3L114.0 384.4L115.0 384.5L116.0 384.7L117.0 384.8L118.0 384.9L119.0 385.0L120.0 385.1L121.0 385.3L122.0 385.4L123.0 385.5L124.0 385.7L125.0 385.9L126.0 386.0L127.0 386.2L128.0 386.4L129.0 386.6L130.0 386.7L131.0 386.9L132.0 387.1L133.0 387.3L134.0 387.5L135.0 387.6L136.0 387.8L137.0 388.0L138.0 388.1L139.0 388.3L140.0 388.4L141.0 388.6L142.0 388.8L143.0 388.9L144.0 389.1L145.0 389.2L146.0 389.4L147.0 389.5L148.0 389.6L149.0 389.7L150.0 389.8L151.0 389.9L152.0 389.9L153.0 390.0L154.0 390.0L155.0 390.0L156.0 390.1L157.0 390.1L158.0 390.2L159.0 390.2L160.0 390.2L161.0 390.2L162.0 390.3L163.0 390.3L164.0 390.3L165.0 390.3L166.0 390.4L167.0 390.4L168.0 390.4L169.0 390.4L170.0 390.5L171.0 390.5L172.0 390.5L173.0 390.5L174.0 390.6L175.0 390.6L176.0 390.6L177.0 390.7L178.0 390.7L179.0 390.7L180.0 390.8L181.0 390.8L182.0 390.9L183.0 390.9L184.0 391.0L185.0 391.0L186.0 391.1L187.0 391.1L188.0 391.2L189.0 391.3L190.0 391.3L191.0 391.4L192.0 391.4L193.0 391.5L194.0 391.6L195.0 391.6L196.0 391.7L197.0 391.8L198.0 391.9L199.0 391.9L200.0 392.0L201.0 392.1L202.0 392.1L203.0 392.2L204.0 392.3L205.0 392.4L206.0 392.4L207.0 392.5L208.0 392.6L209.0 392.7L210.0 392.8L211.0 392.8L212.0 392.9L213.0 393.0L214.0 393.1L215.0 393.2L216.0 393.3L217.0 393.4L218.0 393.5L219.0 393.6L220.0 393.7L221.0 393.8L222.0 393.9L223.0 394.0L224.0 394.1L225.0 394.1L226.0 394.2L227.0 394.3L228.0 394.4L229.0 394.5L230.0 394.6L231.0 394.6L232.0 394.7L233.0 394.8L234.0 394.9L235.0 395.0L236.0 395.1L237.0 395.2L238.0 395.2L239.0 395.3L240.0 395.4L241.0 395.5L242.0 395.5L243.0 395.6L244.0 395.7L245.0 395.7L246.0 395.8L247.0 395.8L248.0 395.8L249.0 395.9L250.0 395.9L251.0 395.9L252.0 395.9L253.0 395.9L254.0 395.9L255.0 395.9L256.0 395.9L257.0 396.0L258.0 396.0L259.0 396.0L260.0 396.0L261.0 396.0L262.0 396.0L263.0 396.0L264.0 396.0L265.0 396.0L266.0 396.0L267.0 396.0L268.0 396.0L269.0 396.0" fill="none" stroke="#2f9a78" stroke-width="2.00"/>
<path d="M32.0 372.4L33.0 372.7L34.0 373.1L35.0 373.4L36.0 373.8L37.0 374.1L38.0 374.4L39.0 374.7L40.0 375.0L41.0 375.3L42.0 375.6L43.0 375.8L44.0 376.1L45.0 376.3L46.0 376.5L47.0 376.7L48.0 376.9L49.0 377.1L50.0 377.2L51.0 377.4L52.0 377.5L53.0 377.5L54.0 377.6L55.0 377.6L56.0 377.6L57.0 377.6L58.0 377.5L59.0 377.4L60.0 377.3L61.0 377.2L62.0 377.0L63.0 376.8L64.0 376.6L65.0 376.4L66.0 376.1L67.0 375.8L68.0 375.5L69.0 375.2L70.0 374.8L71.0 374.4L72.0 374.1L73.0 373.7L74.0 373.3L75.0 372.9L76.0 372.6L77.0 372.2L78.0 371.8L79.0 371.5L80.0 371.2L81.0 370.9L82.0 370.6L83.0 370.4L84.0 370.2L85.0 370.0L86.0 369.8L87.0 369.7L88.0 369.6L89.0 369.6L90.0 369.6L91.0 369.6L92.0 369.7L93.0 369.8L94.0 370.0L95.0 370.2L96.0 370.4L97.0 370.7L98.0 371.0L99.0 371.4L100.0 371.8L101.0 372.3L102.0 372.8L103.0 373.3L104.0 373.8L105.0 374.4L106.0 374.9L107.0 375.5L108.0 376.1L109.0 376.7L110.0 377.3L111.0 377.8L112.0 378.4L113.0 378.8L114.0 379.2L115.0 379.5L116.0 379.6L117.0 379.4L118.0 378.9L119.0 377.9L120.0 376.6L121.0 374.8L122.0 372.8L123.0 370.5L124.0 368.4L125.0 366.7L126.0 365.6L127.0 365.3L128.0 365.9L129.0 367.4L130.0 369.5L131.0 372.2L132.0 374.9L133.0 377.6L134.0 380.1L135.0 382.1L136.0 383.8L137.0 385.0L138.0 385.9L139.0 386.5L140.0 387.0L141.0 387.3L142.0 387.6L143.0 387.8L144.0 387.9L145.0 388.1L146.0 388.2L147.0 388.4L148.0 388.5L149.0 388.5L150.0 388.6L151.0 388.6L152.0 388.6L153.0 388.6L154.0 388.6L155.0 388.6L156.0 388.5L157.0 388.5L158.0 388.4L159.0 388.3L160.0 388.1L161.0 388.0L162.0 387.8L163.0 387.5L164.0 387.3L165.0 387.0L166.0 386.7L167.0 386.3L168.0 385.9L169.0 385.5L170.0 385.1L171.0 384.6L172.0 384.1L173.0 383.6L174.0 383.1L175.0 382.6L176.0 382.1L177.0 381.5L178.0 381.0L179.0 380.5L180.0 380.1L181.0 379.6L182.0 379.2L183.0 378.7L184.0 378.3L185.0 377.9L186.0 377.5L187.0 377.1L188.0 376.6L189.0 376.2L190.0 375.7L191.0 375.2L192.0 374.7L193.0 374.1L194.0 373.5L195.0 372.9L196.0 372.2L197.0 371.6L198.0 370.9L199.0 370.3L200.0 369.7L201.0 369.2L202.0 368.9L203.0 368.6L204.0 368.5L205.0 368.5L206.0 368.7L207.0 369.1L208.0 369.7L209.0 370.4L210.0 371.3L211.0 372.3L212.0 373.5L213.0 374.7L214.0 375.9L215.0 377.0L216.0 378.1L217.0 378.9L218.0 379.5L219.0 379.7L220.0 379.5L221.0 378.7L222.0 377.3L223.0 375.3L224.0 372.6L225.0 369.5L226.0 365.9L227.0 362.2L228.0 358.6L229.0 355.5L230.0 353.0L231.0 351.5L232.0 351.2L233.0 352.0L234.0 354.0L235.0 357.0L236.0 360.7L237.0 365.0L238.0 369.5L239.0 373.9L240.0 378.0L241.0 381.7L242.0 384.9L243.0 387.5L244.0 389.6L245.0 391.2L246.0 392.3L247.0 393.2L248.0 393.7L249.0 394.1L250.0 394.4L251.0 394.5L252.0 394.6L253.0 394.7L254.0 394.8L255.0 394.8L256.0 394.8L257.0 394.8L258.0 394.8L259.0 394.8L260.0 394.9L261.0 394.9L262.0 394.9L263.0 394.9L264.0 394.9L265.0 394.9L266.0 394.9L267.0 394.9L268.0 394.9L269.0 394.9" fill="none" stroke="#000" stroke-width="2.10" stroke-dasharray="1.85 1.5"/>
<rect x="31.4" y="418.5" width="2.2" height="2.2" fill="#d2d2d2"/>
<rect x="33.1" y="421.0" width="2.2" height="2.2" fill="#d2d2d2"/>
<rect x="34.8" y="420.3" width="2.2" height="2.2" fill="#d2d2d2"/>
<rect x="36.5" y="422.9" width="2.2" height="2.2" fill="#d2d2d2"/>
<rect x="38.2" y="419.6" width="2.2" height="2.2" fill="#d2d2d2"/>
<rect x="39.9" y="423.6" width="2.2" height="2.2" fill="#d2d2d2"/>
<rect x="41.6" y="422.7" width="2.2" height="2.2" fill="#d2d2d2"/>
<rect x="43.3" y="421.2" width="2.2" height="2.2" fill="#d2d2d2"/>
<rect x="45.0" y="424.8" width="2.2" height="2.2" fill="#d2d2d2"/>
<rect x="46.7" y="423.6" width="2.2" height="2.2" fill="#d2d2d2"/>
<rect x="48.4" y="421.1" width="2.2" height="2.2" fill="#d2d2d2"/>
<rect x="50.1" y="422.9" width="2.2" height="2.2" fill="#d2d2d2"/>
<rect x="51.8" y="424.4" width="2.2" height="2.2" fill="#d2d2d2"/>
<rect x="53.5" y="423.4" width="2.2" height="2.2" fill="#d2d2d2"/>
<rect x="55.2" y="425.0" width="2.2" height="2.2" fill="#d2d2d2"/>
<rect x="56.9" y="424.8" width="2.2" height="2.2" fill="#d2d2d2"/>
<rect x="58.6" y="424.6" width="2.2" height="2.2" fill="#d2d2d2"/>
<rect x="60.3" y="424.0" width="2.2" height="2.2" fill="#d2d2d2"/>
<rect x="62.0" y="425.1" width="2.2" height="2.2" fill="#d2d2d2"/>
<rect x="63.7" y="423.9" width="2.2" height="2.2" fill="#d2d2d2"/>
<rect x="65.4" y="423.3" width="2.2" height="2.2" fill="#d2d2d2"/>
<rect x="67.1" y="419.8" width="2.2" height="2.2" fill="#d2d2d2"/>
<rect x="68.8" y="423.3" width="2.2" height="2.2" fill="#d2d2d2"/>
<rect x="70.5" y="423.4" width="2.2" height="2.2" fill="#d2d2d2"/>
<rect x="72.2" y="421.1" width="2.2" height="2.2" fill="#d2d2d2"/>
<rect x="73.9" y="420.4" width="2.2" height="2.2" fill="#d2d2d2"/>
<rect x="75.6" y="423.0" width="2.2" height="2.2" fill="#d2d2d2"/>
<rect x="77.3" y="418.0" width="2.2" height="2.2" fill="#d2d2d2"/>
<rect x="79.0" y="420.4" width="2.2" height="2.2" fill="#d2d2d2"/>
<rect x="80.7" y="422.5" width="2.2" height="2.2" fill="#d2d2d2"/>
<rect x="82.4" y="417.8" width="2.2" height="2.2" fill="#d2d2d2"/>
<rect x="84.1" y="419.8" width="2.2" height="2.2" fill="#d2d2d2"/>
<rect x="85.8" y="421.2" width="2.2" height="2.2" fill="#d2d2d2"/>
<rect x="87.5" y="418.4" width="2.2" height="2.2" fill="#d2d2d2"/>
<rect x="89.2" y="419.3" width="2.2" height="2.2" fill="#d2d2d2"/>
<rect x="90.9" y="419.9" width="2.2" height="2.2" fill="#d2d2d2"/>
<rect x="92.6" y="417.7" width="2.2" height="2.2" fill="#d2d2d2"/>
<rect x="94.3" y="419.0" width="2.2" height="2.2" fill="#d2d2d2"/>
<rect x="96.0" y="419.9" width="2.2" height="2.2" fill="#d2d2d2"/>
<rect x="97.7" y="421.1" width="2.2" height="2.2" fill="#d2d2d2"/>
<rect x="99.4" y="420.6" width="2.2" height="2.2" fill="#d2d2d2"/>
<rect x="101.1" y="420.7" width="2.2" height="2.2" fill="#d2d2d2"/>
<rect x="102.8" y="420.4" width="2.2" height="2.2" fill="#d2d2d2"/>
<rect x="104.5" y="422.0" width="2.2" height="2.2" fill="#d2d2d2"/>
<rect x="106.2" y="424.0" width="2.2" height="2.2" fill="#d2d2d2"/>
<rect x="107.9" y="423.8" width="2.2" height="2.2" fill="#d2d2d2"/>
<rect x="109.6" y="423.4" width="2.2" height="2.2" fill="#d2d2d2"/>
<rect x="111.3" y="423.7" width="2.2" height="2.2" fill="#d2d2d2"/>
<rect x="113.0" y="428.9" width="2.2" height="2.2" fill="#d2d2d2"/>
<rect x="114.7" y="427.1" width="2.2" height="2.2" fill="#d2d2d2"/>
<rect x="116.4" y="425.7" width="2.2" height="2.2" fill="#d2d2d2"/>
<rect x="118.1" y="420.7" width="2.2" height="2.2" fill="#d2d2d2"/>
<rect x="119.8" y="422.2" width="2.2" height="2.2" fill="#d2d2d2"/>
<rect x="121.5" y="418.6" width="2.2" height="2.2" fill="#d2d2d2"/>
<rect x="123.2" y="418.6" width="2.2" height="2.2" fill="#d2d2d2"/>
<rect x="124.9" y="415.5" width="2.2" height="2.2" fill="#d2d2d2"/>
<rect x="126.6" y="416.1" width="2.2" height="2.2" fill="#d2d2d2"/>
<rect x="128.3" y="418.5" width="2.2" height="2.2" fill="#d2d2d2"/>
<rect x="130.0" y="419.5" width="2.2" height="2.2" fill="#d2d2d2"/>
<rect x="131.7" y="427.4" width="2.2" height="2.2" fill="#d2d2d2"/>
<rect x="133.4" y="429.3" width="2.2" height="2.2" fill="#d2d2d2"/>
<rect x="135.1" y="428.9" width="2.2" height="2.2" fill="#d2d2d2"/>
<rect x="136.8" y="432.7" width="2.2" height="2.2" fill="#d2d2d2"/>
<rect x="138.5" y="433.9" width="2.2" height="2.2" fill="#d2d2d2"/>
<rect x="140.2" y="429.9" width="2.2" height="2.2" fill="#d2d2d2"/>
<rect x="141.9" y="431.1" width="2.2" height="2.2" fill="#d2d2d2"/>
<rect x="143.6" y="432.5" width="2.2" height="2.2" fill="#d2d2d2"/>
<rect x="145.3" y="432.4" width="2.2" height="2.2" fill="#d2d2d2"/>
<rect x="147.0" y="431.8" width="2.2" height="2.2" fill="#d2d2d2"/>
<rect x="148.7" y="431.1" width="2.2" height="2.2" fill="#d2d2d2"/>
<rect x="150.4" y="435.2" width="2.2" height="2.2" fill="#d2d2d2"/>
<rect x="152.1" y="433.7" width="2.2" height="2.2" fill="#d2d2d2"/>
<rect x="153.8" y="430.8" width="2.2" height="2.2" fill="#d2d2d2"/>
<rect x="155.5" y="430.5" width="2.2" height="2.2" fill="#d2d2d2"/>
<rect x="157.2" y="434.4" width="2.2" height="2.2" fill="#d2d2d2"/>
<rect x="158.9" y="433.2" width="2.2" height="2.2" fill="#d2d2d2"/>
<rect x="160.6" y="433.9" width="2.2" height="2.2" fill="#d2d2d2"/>
<rect x="162.3" y="432.4" width="2.2" height="2.2" fill="#d2d2d2"/>
<rect x="164.0" y="429.8" width="2.2" height="2.2" fill="#d2d2d2"/>
<rect x="165.7" y="430.7" width="2.2" height="2.2" fill="#d2d2d2"/>
<rect x="167.4" y="427.2" width="2.2" height="2.2" fill="#d2d2d2"/>
<rect x="169.1" y="428.3" width="2.2" height="2.2" fill="#d2d2d2"/>
<rect x="170.8" y="428.5" width="2.2" height="2.2" fill="#d2d2d2"/>
<rect x="172.5" y="428.4" width="2.2" height="2.2" fill="#d2d2d2"/>
<rect x="174.2" y="426.4" width="2.2" height="2.2" fill="#d2d2d2"/>
<rect x="175.9" y="426.3" width="2.2" height="2.2" fill="#d2d2d2"/>
<rect x="177.6" y="426.3" width="2.2" height="2.2" fill="#d2d2d2"/>
<rect x="179.3" y="425.8" width="2.2" height="2.2" fill="#d2d2d2"/>
<rect x="181.0" y="425.4" width="2.2" height="2.2" fill="#d2d2d2"/>
<rect x="182.7" y="424.1" width="2.2" height="2.2" fill="#d2d2d2"/>
<rect x="184.4" y="423.0" width="2.2" height="2.2" fill="#d2d2d2"/>
<rect x="186.1" y="423.8" width="2.2" height="2.2" fill="#d2d2d2"/>
<rect x="187.8" y="422.2" width="2.2" height="2.2" fill="#d2d2d2"/>
<rect x="189.5" y="420.4" width="2.2" height="2.2" fill="#d2d2d2"/>
<rect x="191.2" y="420.3" width="2.2" height="2.2" fill="#d2d2d2"/>
<rect x="192.9" y="420.4" width="2.2" height="2.2" fill="#d2d2d2"/>
<rect x="194.6" y="419.7" width="2.2" height="2.2" fill="#d2d2d2"/>
<rect x="196.3" y="419.8" width="2.2" height="2.2" fill="#d2d2d2"/>
<rect x="198.0" y="419.1" width="2.2" height="2.2" fill="#d2d2d2"/>
<rect x="199.7" y="419.1" width="2.2" height="2.2" fill="#d2d2d2"/>
<rect x="201.4" y="418.7" width="2.2" height="2.2" fill="#d2d2d2"/>
<rect x="203.1" y="417.4" width="2.2" height="2.2" fill="#d2d2d2"/>
<rect x="204.8" y="420.2" width="2.2" height="2.2" fill="#d2d2d2"/>
<rect x="206.5" y="421.9" width="2.2" height="2.2" fill="#d2d2d2"/>
<rect x="208.2" y="421.6" width="2.2" height="2.2" fill="#d2d2d2"/>
<rect x="209.9" y="422.1" width="2.2" height="2.2" fill="#d2d2d2"/>
<rect x="211.6" y="424.2" width="2.2" height="2.2" fill="#d2d2d2"/>
<rect x="213.3" y="423.0" width="2.2" height="2.2" fill="#d2d2d2"/>
<rect x="215.0" y="422.8" width="2.2" height="2.2" fill="#d2d2d2"/>
<rect x="216.7" y="425.6" width="2.2" height="2.2" fill="#d2d2d2"/>
<rect x="218.4" y="424.1" width="2.2" height="2.2" fill="#d2d2d2"/>
<rect x="220.1" y="424.7" width="2.2" height="2.2" fill="#d2d2d2"/>
<rect x="221.8" y="419.2" width="2.2" height="2.2" fill="#d2d2d2"/>
<rect x="223.5" y="412.8" width="2.2" height="2.2" fill="#d2d2d2"/>
<rect x="225.2" y="412.4" width="2.2" height="2.2" fill="#d2d2d2"/>
<rect x="226.9" y="411.3" width="2.2" height="2.2" fill="#d2d2d2"/>
<rect x="228.6" y="405.8" width="2.2" height="2.2" fill="#d2d2d2"/>
<rect x="230.3" y="404.1" width="2.2" height="2.2" fill="#d2d2d2"/>
<rect x="232.0" y="406.3" width="2.2" height="2.2" fill="#d2d2d2"/>
<rect x="233.7" y="412.1" width="2.2" height="2.2" fill="#d2d2d2"/>
<rect x="235.4" y="414.7" width="2.2" height="2.2" fill="#d2d2d2"/>
<rect x="237.1" y="420.2" width="2.2" height="2.2" fill="#d2d2d2"/>
<rect x="238.8" y="427.4" width="2.2" height="2.2" fill="#d2d2d2"/>
<rect x="240.5" y="430.6" width="2.2" height="2.2" fill="#d2d2d2"/>
<rect x="242.2" y="431.2" width="2.2" height="2.2" fill="#d2d2d2"/>
<rect x="243.9" y="434.2" width="2.2" height="2.2" fill="#d2d2d2"/>
<rect x="245.6" y="436.8" width="2.2" height="2.2" fill="#d2d2d2"/>
<rect x="247.3" y="436.3" width="2.2" height="2.2" fill="#d2d2d2"/>
<rect x="249.0" y="436.8" width="2.2" height="2.2" fill="#d2d2d2"/>
<rect x="250.7" y="434.2" width="2.2" height="2.2" fill="#d2d2d2"/>
<rect x="252.4" y="435.5" width="2.2" height="2.2" fill="#d2d2d2"/>
<rect x="254.1" y="436.7" width="2.2" height="2.2" fill="#d2d2d2"/>
<rect x="255.8" y="435.5" width="2.2" height="2.2" fill="#d2d2d2"/>
<rect x="257.5" y="437.3" width="2.2" height="2.2" fill="#d2d2d2"/>
<rect x="259.2" y="436.7" width="2.2" height="2.2" fill="#d2d2d2"/>
<rect x="260.9" y="437.1" width="2.2" height="2.2" fill="#d2d2d2"/>
<rect x="262.6" y="435.7" width="2.2" height="2.2" fill="#d2d2d2"/>
<rect x="264.3" y="439.3" width="2.2" height="2.2" fill="#d2d2d2"/>
<rect x="266.0" y="437.7" width="2.2" height="2.2" fill="#d2d2d2"/>
<path d="M53.0 426.6L54.0 426.6L55.0 426.6L56.0 426.6L57.0 426.6L58.0 426.5L59.0 426.5L60.0 426.4L61.0 426.4L62.0 426.3L63.0 426.2L64.0 426.1L65.0 426.0L66.0 425.9L67.0 425.8L68.0 425.7L69.0 425.6L70.0 425.6L71.0 425.5L72.0 425.4L73.0 425.3L74.0 425.2L75.0 425.1L76.0 425.0L77.0 425.0L78.0 424.9L79.0 424.9L80.0 424.8L81.0 424.8L82.0 424.8L83.0 424.9L84.0 424.9L85.0 425.0L86.0 425.0L87.0 425.1L88.0 425.2L89.0 425.4L90.0 425.5L91.0 425.7L92.0 425.9L93.0 426.1L94.0 426.3L95.0 426.5L96.0 426.7L97.0 427.0L98.0 427.2L99.0 427.4L100.0 427.7L101.0 427.9L102.0 428.2L103.0 428.4L104.0 428.6L105.0 428.9L106.0 429.1L107.0 429.3L108.0 429.5L109.0 429.8L110.0 430.0L111.0 430.2L112.0 430.3L113.0 430.5L114.0 430.7L115.0 430.9L116.0 431.0" fill="none" stroke="#f070d0" stroke-width="2.20" stroke-linejoin="round"/>
<path d="M63.0 427.0L64.0 427.0L65.0 427.0L66.0 426.9L67.0 426.9L68.0 426.9L69.0 426.8L70.0 426.8L71.0 426.7L72.0 426.6L73.0 426.5L74.0 426.4L75.0 426.3L76.0 426.2L77.0 426.1L78.0 426.0L79.0 425.8L80.0 425.7L81.0 425.6L82.0 425.4L83.0 425.3L84.0 425.1L85.0 425.0L86.0 424.9L87.0 424.8L88.0 424.6L89.0 424.6L90.0 424.5L91.0 424.4L92.0 424.4L93.0 424.4L94.0 424.4L95.0 424.4L96.0 424.4L97.0 424.5L98.0 424.6L99.0 424.7L100.0 424.9L101.0 425.1L102.0 425.3L103.0 425.5L104.0 425.7L105.0 426.0L106.0 426.2L107.0 426.5L108.0 426.8L109.0 427.1L110.0 427.4L111.0 427.7L112.0 428.0L113.0 428.3L114.0 428.6L115.0 428.9L116.0 429.2L117.0 429.5L118.0 429.8L119.0 430.1L120.0 430.3L121.0 430.6L122.0 430.9L123.0 431.1L124.0 431.3L125.0 431.6L126.0 431.8L127.0 432.0L128.0 432.2L129.0 432.4L130.0 432.6L131.0 432.8" fill="none" stroke="#98cc48" stroke-width="2.20" stroke-linejoin="round"/>
<path d="M115.0 430.8L116.0 430.6L117.0 430.1L118.0 429.4L119.0 428.4L120.0 427.0L121.0 425.4L122.0 423.5L123.0 421.6L124.0 420.0L125.0 418.8L126.0 418.2L127.0 418.4L128.0 419.3L129.0 420.8L130.0 422.8L131.0 424.9L132.0 427.0L133.0 428.9L134.0 430.4L135.0 431.6L136.0 432.5L137.0 433.2L138.0 433.6" fill="none" stroke="#f5862a" stroke-width="2.20" stroke-linejoin="round"/>
<path d="M154.0 435.0L155.0 435.0L156.0 434.9L157.0 434.8L158.0 434.8L159.0 434.7L160.0 434.5L161.0 434.4L162.0 434.2L163.0 434.0L164.0 433.8L165.0 433.6L166.0 433.3L167.0 433.1L168.0 432.8L169.0 432.4L170.0 432.1L171.0 431.8L172.0 431.4L173.0 431.1L174.0 430.7L175.0 430.4L176.0 430.1L177.0 429.8L178.0 429.5L179.0 429.3L180.0 429.1L181.0 428.9L182.0 428.8L183.0 428.8L184.0 428.7L185.0 428.8L186.0 428.8L187.0 429.0L188.0 429.1L189.0 429.4L190.0 429.6L191.0 429.9L192.0 430.2L193.0 430.6L194.0 431.0L195.0 431.3L196.0 431.7L197.0 432.1L198.0 432.5L199.0 432.9L200.0 433.3L201.0 433.7L202.0 434.0L203.0 434.3L204.0 434.6L205.0 434.9L206.0 435.2L207.0 435.4L208.0 435.7L209.0 435.9L210.0 436.1L211.0 436.2L212.0 436.4L213.0 436.5L214.0 436.6L215.0 436.7" fill="none" stroke="#4a72d8" stroke-width="2.20" stroke-linejoin="round"/>
<path d="M171.0 435.6L172.0 435.6L173.0 435.6L174.0 435.5L175.0 435.5L176.0 435.4L177.0 435.3L178.0 435.2L179.0 435.1L180.0 434.9L181.0 434.7L182.0 434.5L183.0 434.2L184.0 433.9L185.0 433.5L186.0 433.1L187.0 432.7L188.0 432.2L189.0 431.6L190.0 431.1L191.0 430.5L192.0 429.8L193.0 429.2L194.0 428.5L195.0 427.8L196.0 427.2L197.0 426.5L198.0 425.9L199.0 425.3L200.0 424.8L201.0 424.4L202.0 424.1L203.0 423.8L204.0 423.7L205.0 423.6L206.0 423.7L207.0 423.9L208.0 424.2L209.0 424.6L210.0 425.0L211.0 425.6L212.0 426.2L213.0 426.9L214.0 427.6L215.0 428.3L216.0 429.0L217.0 429.8L218.0 430.5L219.0 431.2L220.0 431.8L221.0 432.5L222.0 433.1L223.0 433.6L224.0 434.1L225.0 434.6L226.0 435.0L227.0 435.4L228.0 435.8L229.0 436.1L230.0 436.3L231.0 436.6L232.0 436.8L233.0 437.0L234.0 437.1L235.0 437.2L236.0 437.4L237.0 437.5L238.0 437.6L239.0 437.6" fill="none" stroke="#f0bc10" stroke-width="2.20" stroke-linejoin="round"/>
<path d="M214.0 436.6L215.0 436.4L216.0 436.1L217.0 435.6L218.0 434.9L219.0 434.0L220.0 432.7L221.0 431.1L222.0 429.2L223.0 426.9L224.0 424.3L225.0 421.5L226.0 418.7L227.0 416.0L228.0 413.5L229.0 411.5L230.0 410.2L231.0 409.5L232.0 409.7L233.0 410.6L234.0 412.3L235.0 414.5L236.0 417.1L237.0 420.0L238.0 422.9L239.0 425.7L240.0 428.2L241.0 430.5L242.0 432.4L243.0 434.0L244.0 435.2L245.0 436.1L246.0 436.8L247.0 437.3L248.0 437.7L249.0 437.9" fill="none" stroke="#f03038" stroke-width="2.20" stroke-linejoin="round"/>
<path d="M32.0 423.5L33.0 423.8L34.0 424.1L35.0 424.5L36.0 424.8L37.0 425.1L38.0 425.4L39.0 425.7L40.0 426.0L41.0 426.2L42.0 426.4L43.0 426.6L44.0 426.8L45.0 426.9L46.0 427.0L47.0 427.0L48.0 427.1L49.0 427.2L50.0 427.3L51.0 427.3L52.0 427.4L53.0 427.4L54.0 427.5L55.0 427.5L56.0 427.6L57.0 427.6L58.0 427.6L59.0 427.7L60.0 427.7L61.0 427.8L62.0 427.8L63.0 427.8L64.0 427.9L65.0 427.9L66.0 428.0L67.0 428.0L68.0 428.0L69.0 428.1L70.0 428.1L71.0 428.2L72.0 428.3L73.0 428.3L74.0 428.4L75.0 428.4L76.0 428.5L77.0 428.5L78.0 428.6L79.0 428.7L80.0 428.7L81.0 428.8L82.0 428.8L83.0 428.9L84.0 429.0L85.0 429.0L86.0 429.1L87.0 429.2L88.0 429.2L89.0 429.3L90.0 429.4L91.0 429.5L92.0 429.5L93.0 429.6L94.0 429.7L95.0 429.8L96.0 429.9L97.0 430.0L98.0 430.1L99.0 430.1L100.0 430.2L101.0 430.3L102.0 430.4L103.0 430.5L104.0 430.6L105.0 430.7L106.0 430.8L107.0 430.9L108.0 431.0L109.0 431.1L110.0 431.2L111.0 431.3L112.0 431.4L113.0 431.6L114.0 431.7L115.0 431.8L116.0 431.9L117.0 432.0L118.0 432.1L119.0 432.2L120.0 432.3L121.0 432.4L122.0 432.5L123.0 432.6L124.0 432.7L125.0 432.9L126.0 433.0L127.0 433.1L128.0 433.2L129.0 433.4L130.0 433.5L131.0 433.6L132.0 433.8L133.0 433.9L134.0 434.0L135.0 434.2L136.0 434.3L137.0 434.4L138.0 434.5L139.0 434.6L140.0 434.8L141.0 434.9L142.0 435.0L143.0 435.1L144.0 435.2L145.0 435.3L146.0 435.4L147.0 435.4L148.0 435.5L149.0 435.6L150.0 435.6L151.0 435.7L152.0 435.7L153.0 435.8L154.0 435.8L155.0 435.9L156.0 435.9L157.0 436.0L158.0 436.0L159.0 436.1L160.0 436.1L161.0 436.1L162.0 436.2L163.0 436.2L164.0 436.2L165.0 436.3L166.0 436.3L167.0 436.3L168.0 436.4L169.0 436.4L170.0 436.4L171.0 436.4L172.0 436.5L173.0 436.5L174.0 436.5L175.0 436.6L176.0 436.6L177.0 436.6L178.0 436.6L179.0 436.7L180.0 436.7L181.0 436.7L182.0 436.7L183.0 436.8L184.0 436.8L185.0 436.8L186.0 436.8L187.0 436.9L188.0 436.9L189.0 436.9L190.0 436.9L191.0 437.0L192.0 437.0L193.0 437.0L194.0 437.0L195.0 437.0L196.0 437.1L197.0 437.1L198.0 437.1L199.0 437.1L200.0 437.2L201.0 437.2L202.0 437.2L203.0 437.2L204.0 437.2L205.0 437.3L206.0 437.3L207.0 437.3L208.0 437.3L209.0 437.4L210.0 437.4L211.0 437.4L212.0 437.5L213.0 437.5L214.0 437.5L215.0 437.6L216.0 437.6L217.0 437.6L218.0 437.7L219.0 437.7L220.0 437.7L221.0 437.8L222.0 437.8L223.0 437.9L224.0 437.9L225.0 438.0L226.0 438.0L227.0 438.0L228.0 438.1L229.0 438.1L230.0 438.2L231.0 438.2L232.0 438.2L233.0 438.3L234.0 438.3L235.0 438.3L236.0 438.4L237.0 438.4L238.0 438.4L239.0 438.5L240.0 438.5L241.0 438.5L242.0 438.6L243.0 438.6L244.0 438.6L245.0 438.6L246.0 438.7L247.0 438.7L248.0 438.7L249.0 438.7L250.0 438.8L251.0 438.8L252.0 438.8L253.0 438.9L254.0 438.9L255.0 438.9L256.0 438.9L257.0 438.9L258.0 439.0L259.0 439.0L260.0 439.0L261.0 439.0L262.0 439.1L263.0 439.1L264.0 439.1L265.0 439.1L266.0 439.1L267.0 439.2L268.0 439.2L269.0 439.2" fill="none" stroke="#2f9a78" stroke-width="2.00"/>
<path d="M32.0 422.4L33.0 422.8L34.0 423.1L35.0 423.5L36.0 423.8L37.0 424.1L38.0 424.4L39.0 424.7L40.0 424.9L41.0 425.2L42.0 425.4L43.0 425.5L44.0 425.7L45.0 425.8L46.0 425.8L47.0 425.9L48.0 426.0L49.0 426.0L50.0 426.0L51.0 426.0L52.0 426.1L53.0 426.1L54.0 426.0L55.0 426.0L56.0 426.0L57.0 425.9L58.0 425.9L59.0 425.8L60.0 425.7L61.0 425.6L62.0 425.5L63.0 425.4L64.0 425.2L65.0 425.1L66.0 424.9L67.0 424.7L68.0 424.5L69.0 424.3L70.0 424.1L71.0 423.9L72.0 423.7L73.0 423.5L74.0 423.2L75.0 423.0L76.0 422.8L77.0 422.5L78.0 422.3L79.0 422.0L80.0 421.8L81.0 421.6L82.0 421.4L83.0 421.2L84.0 421.1L85.0 420.9L86.0 420.8L87.0 420.7L88.0 420.6L89.0 420.6L90.0 420.6L91.0 420.6L92.0 420.7L93.0 420.8L94.0 420.9L95.0 421.1L96.0 421.3L97.0 421.5L98.0 421.7L99.0 422.0L100.0 422.3L101.0 422.6L102.0 423.0L103.0 423.3L104.0 423.7L105.0 424.1L106.0 424.5L107.0 424.9L108.0 425.3L109.0 425.7L110.0 426.1L111.0 426.5L112.0 426.8L113.0 427.1L114.0 427.4L115.0 427.6L116.0 427.6L117.0 427.4L118.0 426.9L119.0 426.0L120.0 424.9L121.0 423.4L122.0 421.7L123.0 420.0L124.0 418.4L125.0 417.4L126.0 416.9L127.0 417.2L128.0 418.2L129.0 419.8L130.0 421.8L131.0 424.0L132.0 426.1L133.0 428.0L134.0 429.6L135.0 430.9L136.0 431.8L137.0 432.5L138.0 433.0L139.0 433.3L140.0 433.5L141.0 433.7L142.0 433.8L143.0 433.9L144.0 434.0L145.0 434.1L146.0 434.2L147.0 434.3L148.0 434.3L149.0 434.4L150.0 434.4L151.0 434.4L152.0 434.4L153.0 434.4L154.0 434.4L155.0 434.3L156.0 434.3L157.0 434.2L158.0 434.1L159.0 434.0L160.0 433.9L161.0 433.8L162.0 433.6L163.0 433.4L164.0 433.2L165.0 432.9L166.0 432.6L167.0 432.3L168.0 432.0L169.0 431.7L170.0 431.3L171.0 430.9L172.0 430.5L173.0 430.1L174.0 429.7L175.0 429.3L176.0 428.9L177.0 428.5L178.0 428.1L179.0 427.7L180.0 427.3L181.0 426.9L182.0 426.5L183.0 426.2L184.0 425.8L185.0 425.5L186.0 425.1L187.0 424.8L188.0 424.4L189.0 424.1L190.0 423.8L191.0 423.4L192.0 423.1L193.0 422.8L194.0 422.4L195.0 422.1L196.0 421.8L197.0 421.6L198.0 421.3L199.0 421.1L200.0 421.0L201.0 420.9L202.0 420.9L203.0 420.9L204.0 421.1L205.0 421.3L206.0 421.6L207.0 422.0L208.0 422.5L209.0 423.0L210.0 423.7L211.0 424.3L212.0 425.0L213.0 425.6L214.0 426.3L215.0 426.8L216.0 427.3L217.0 427.5L218.0 427.6L219.0 427.3L220.0 426.7L221.0 425.7L222.0 424.4L223.0 422.6L224.0 420.5L225.0 418.2L226.0 415.7L227.0 413.3L228.0 411.2L229.0 409.5L230.0 408.3L231.0 407.9L232.0 408.2L233.0 409.3L234.0 411.1L235.0 413.4L236.0 416.1L237.0 419.0L238.0 422.0L239.0 424.8L240.0 427.4L241.0 429.7L242.0 431.7L243.0 433.2L244.0 434.5L245.0 435.4L246.0 436.1L247.0 436.7L248.0 437.0L249.0 437.3L250.0 437.4L251.0 437.5L252.0 437.6L253.0 437.7L254.0 437.7L255.0 437.8L256.0 437.8L257.0 437.8L258.0 437.9L259.0 437.9L260.0 437.9L261.0 437.9L262.0 438.0L263.0 438.0L264.0 438.0L265.0 438.0L266.0 438.1L267.0 438.1L268.0 438.1L269.0 438.1" fill="none" stroke="#000" stroke-width="2.10" stroke-dasharray="1.85 1.5"/>
<rect x="302.4" y="313.9" width="2.2" height="2.2" fill="#d2d2d2"/>
<rect x="304.1" y="314.3" width="2.2" height="2.2" fill="#d2d2d2"/>
<rect x="305.8" y="317.5" width="2.2" height="2.2" fill="#d2d2d2"/>
<rect x="307.5" y="313.7" width="2.2" height="2.2" fill="#d2d2d2"/>
<rect x="309.2" y="315.3" width="2.2" height="2.2" fill="#d2d2d2"/>
<rect x="310.9" y="315.5" width="2.2" height="2.2" fill="#d2d2d2"/>
<rect x="312.6" y="314.2" width="2.2" height="2.2" fill="#d2d2d2"/>
<rect x="314.3" y="312.7" width="2.2" height="2.2" fill="#d2d2d2"/>
<rect x="316.0" y="314.5" width="2.2" height="2.2" fill="#d2d2d2"/>
<rect x="317.7" y="314.7" width="2.2" height="2.2" fill="#d2d2d2"/>
<rect x="319.4" y="315.7" width="2.2" height="2.2" fill="#d2d2d2"/>
<rect x="321.1" y="315.3" width="2.2" height="2.2" fill="#d2d2d2"/>
<rect x="322.8" y="314.3" width="2.2" height="2.2" fill="#d2d2d2"/>
<rect x="324.5" y="315.3" width="2.2" height="2.2" fill="#d2d2d2"/>
<rect x="326.2" y="314.9" width="2.2" height="2.2" fill="#d2d2d2"/>
<rect x="327.9" y="314.4" width="2.2" height="2.2" fill="#d2d2d2"/>
<rect x="329.6" y="314.1" width="2.2" height="2.2" fill="#d2d2d2"/>
<rect x="331.3" y="313.6" width="2.2" height="2.2" fill="#d2d2d2"/>
<rect x="333.0" y="314.6" width="2.2" height="2.2" fill="#d2d2d2"/>
<rect x="334.7" y="312.2" width="2.2" height="2.2" fill="#d2d2d2"/>
<rect x="336.4" y="312.6" width="2.2" height="2.2" fill="#d2d2d2"/>
<rect x="338.1" y="313.2" width="2.2" height="2.2" fill="#d2d2d2"/>
<rect x="339.8" y="311.1" width="2.2" height="2.2" fill="#d2d2d2"/>
<rect x="341.5" y="312.2" width="2.2" height="2.2" fill="#d2d2d2"/>
<rect x="343.2" y="310.0" width="2.2" height="2.2" fill="#d2d2d2"/>
<rect x="344.9" y="311.6" width="2.2" height="2.2" fill="#d2d2d2"/>
<rect x="346.6" y="313.0" width="2.2" height="2.2" fill="#d2d2d2"/>
<rect x="348.3" y="312.9" width="2.2" height="2.2" fill="#d2d2d2"/>
<rect x="350.0" y="312.0" width="2.2" height="2.2" fill="#d2d2d2"/>
<rect x="351.7" y="311.7" width="2.2" height="2.2" fill="#d2d2d2"/>
<rect x="353.4" y="310.2" width="2.2" height="2.2" fill="#d2d2d2"/>
<rect x="355.1" y="314.4" width="2.2" height="2.2" fill="#d2d2d2"/>
<rect x="356.8" y="312.7" width="2.2" height="2.2" fill="#d2d2d2"/>
<rect x="358.5" y="313.5" width="2.2" height="2.2" fill="#d2d2d2"/>
<rect x="360.2" y="311.0" width="2.2" height="2.2" fill="#d2d2d2"/>
<rect x="361.9" y="311.9" width="2.2" height="2.2" fill="#d2d2d2"/>
<rect x="363.6" y="309.8" width="2.2" height="2.2" fill="#d2d2d2"/>
<rect x="365.3" y="313.1" width="2.2" height="2.2" fill="#d2d2d2"/>
<rect x="367.0" y="313.3" width="2.2" height="2.2" fill="#d2d2d2"/>
<rect x="368.7" y="309.5" width="2.2" height="2.2" fill="#d2d2d2"/>
<rect x="370.4" y="311.8" width="2.2" height="2.2" fill="#d2d2d2"/>
<rect x="372.1" y="312.5" width="2.2" height="2.2" fill="#d2d2d2"/>
<rect x="373.8" y="309.1" width="2.2" height="2.2" fill="#d2d2d2"/>
<rect x="375.5" y="308.6" width="2.2" height="2.2" fill="#d2d2d2"/>
<rect x="377.2" y="309.3" width="2.2" height="2.2" fill="#d2d2d2"/>
<rect x="378.9" y="309.3" width="2.2" height="2.2" fill="#d2d2d2"/>
<rect x="380.6" y="307.6" width="2.2" height="2.2" fill="#d2d2d2"/>
<rect x="382.3" y="309.1" width="2.2" height="2.2" fill="#d2d2d2"/>
<rect x="384.0" y="308.5" width="2.2" height="2.2" fill="#d2d2d2"/>
<rect x="385.7" y="308.0" width="2.2" height="2.2" fill="#d2d2d2"/>
<rect x="387.4" y="307.6" width="2.2" height="2.2" fill="#d2d2d2"/>
<rect x="389.1" y="307.7" width="2.2" height="2.2" fill="#d2d2d2"/>
<rect x="390.8" y="306.4" width="2.2" height="2.2" fill="#d2d2d2"/>
<rect x="392.5" y="302.5" width="2.2" height="2.2" fill="#d2d2d2"/>
<rect x="394.2" y="303.3" width="2.2" height="2.2" fill="#d2d2d2"/>
<rect x="395.9" y="302.4" width="2.2" height="2.2" fill="#d2d2d2"/>
<rect x="397.6" y="302.6" width="2.2" height="2.2" fill="#d2d2d2"/>
<rect x="399.3" y="304.1" width="2.2" height="2.2" fill="#d2d2d2"/>
<rect x="401.0" y="305.0" width="2.2" height="2.2" fill="#d2d2d2"/>
<rect x="402.7" y="306.8" width="2.2" height="2.2" fill="#d2d2d2"/>
<rect x="404.4" y="304.8" width="2.2" height="2.2" fill="#d2d2d2"/>
<rect x="406.1" y="306.7" width="2.2" height="2.2" fill="#d2d2d2"/>
<rect x="407.8" y="309.9" width="2.2" height="2.2" fill="#d2d2d2"/>
<rect x="409.5" y="311.2" width="2.2" height="2.2" fill="#d2d2d2"/>
<rect x="411.2" y="311.8" width="2.2" height="2.2" fill="#d2d2d2"/>
<rect x="412.9" y="313.5" width="2.2" height="2.2" fill="#d2d2d2"/>
<rect x="414.6" y="313.7" width="2.2" height="2.2" fill="#d2d2d2"/>
<rect x="416.3" y="316.1" width="2.2" height="2.2" fill="#d2d2d2"/>
<rect x="418.0" y="316.3" width="2.2" height="2.2" fill="#d2d2d2"/>
<rect x="419.7" y="316.1" width="2.2" height="2.2" fill="#d2d2d2"/>
<rect x="421.4" y="315.4" width="2.2" height="2.2" fill="#d2d2d2"/>
<rect x="423.1" y="316.0" width="2.2" height="2.2" fill="#d2d2d2"/>
<rect x="424.8" y="312.4" width="2.2" height="2.2" fill="#d2d2d2"/>
<rect x="426.5" y="314.3" width="2.2" height="2.2" fill="#d2d2d2"/>
<rect x="428.2" y="315.4" width="2.2" height="2.2" fill="#d2d2d2"/>
<rect x="429.9" y="312.9" width="2.2" height="2.2" fill="#d2d2d2"/>
<rect x="431.6" y="314.8" width="2.2" height="2.2" fill="#d2d2d2"/>
<rect x="433.3" y="314.5" width="2.2" height="2.2" fill="#d2d2d2"/>
<rect x="435.0" y="312.3" width="2.2" height="2.2" fill="#d2d2d2"/>
<rect x="436.7" y="313.7" width="2.2" height="2.2" fill="#d2d2d2"/>
<rect x="438.4" y="313.6" width="2.2" height="2.2" fill="#d2d2d2"/>
<rect x="440.1" y="314.7" width="2.2" height="2.2" fill="#d2d2d2"/>
<rect x="441.8" y="315.0" width="2.2" height="2.2" fill="#d2d2d2"/>
<rect x="443.5" y="314.1" width="2.2" height="2.2" fill="#d2d2d2"/>
<rect x="445.2" y="313.0" width="2.2" height="2.2" fill="#d2d2d2"/>
<rect x="446.9" y="313.7" width="2.2" height="2.2" fill="#d2d2d2"/>
<rect x="448.6" y="313.4" width="2.2" height="2.2" fill="#d2d2d2"/>
<rect x="450.3" y="314.1" width="2.2" height="2.2" fill="#d2d2d2"/>
<rect x="452.0" y="312.9" width="2.2" height="2.2" fill="#d2d2d2"/>
<rect x="453.7" y="310.8" width="2.2" height="2.2" fill="#d2d2d2"/>
<rect x="455.4" y="309.7" width="2.2" height="2.2" fill="#d2d2d2"/>
<rect x="457.1" y="310.4" width="2.2" height="2.2" fill="#d2d2d2"/>
<rect x="458.8" y="309.6" width="2.2" height="2.2" fill="#d2d2d2"/>
<rect x="460.5" y="309.1" width="2.2" height="2.2" fill="#d2d2d2"/>
<rect x="462.2" y="310.4" width="2.2" height="2.2" fill="#d2d2d2"/>
<rect x="463.9" y="310.1" width="2.2" height="2.2" fill="#d2d2d2"/>
<rect x="465.6" y="310.9" width="2.2" height="2.2" fill="#d2d2d2"/>
<rect x="467.3" y="311.4" width="2.2" height="2.2" fill="#d2d2d2"/>
<rect x="469.0" y="309.8" width="2.2" height="2.2" fill="#d2d2d2"/>
<rect x="470.7" y="312.4" width="2.2" height="2.2" fill="#d2d2d2"/>
<rect x="472.4" y="308.2" width="2.2" height="2.2" fill="#d2d2d2"/>
<rect x="474.1" y="308.3" width="2.2" height="2.2" fill="#d2d2d2"/>
<rect x="475.8" y="304.9" width="2.2" height="2.2" fill="#d2d2d2"/>
<rect x="477.5" y="304.2" width="2.2" height="2.2" fill="#d2d2d2"/>
<rect x="479.2" y="298.8" width="2.2" height="2.2" fill="#d2d2d2"/>
<rect x="480.9" y="299.8" width="2.2" height="2.2" fill="#d2d2d2"/>
<rect x="482.6" y="301.1" width="2.2" height="2.2" fill="#d2d2d2"/>
<rect x="484.3" y="302.0" width="2.2" height="2.2" fill="#d2d2d2"/>
<rect x="486.0" y="306.1" width="2.2" height="2.2" fill="#d2d2d2"/>
<rect x="487.7" y="306.4" width="2.2" height="2.2" fill="#d2d2d2"/>
<rect x="489.4" y="309.4" width="2.2" height="2.2" fill="#d2d2d2"/>
<rect x="491.1" y="312.7" width="2.2" height="2.2" fill="#d2d2d2"/>
<rect x="492.8" y="316.9" width="2.2" height="2.2" fill="#d2d2d2"/>
<rect x="494.5" y="320.2" width="2.2" height="2.2" fill="#d2d2d2"/>
<rect x="496.2" y="321.0" width="2.2" height="2.2" fill="#d2d2d2"/>
<rect x="497.9" y="324.8" width="2.2" height="2.2" fill="#d2d2d2"/>
<rect x="499.6" y="325.1" width="2.2" height="2.2" fill="#d2d2d2"/>
<rect x="501.3" y="328.9" width="2.2" height="2.2" fill="#d2d2d2"/>
<rect x="503.0" y="327.5" width="2.2" height="2.2" fill="#d2d2d2"/>
<rect x="504.7" y="330.2" width="2.2" height="2.2" fill="#d2d2d2"/>
<rect x="506.4" y="333.0" width="2.2" height="2.2" fill="#d2d2d2"/>
<rect x="508.1" y="330.5" width="2.2" height="2.2" fill="#d2d2d2"/>
<rect x="509.8" y="331.2" width="2.2" height="2.2" fill="#d2d2d2"/>
<rect x="511.5" y="333.0" width="2.2" height="2.2" fill="#d2d2d2"/>
<rect x="513.2" y="331.6" width="2.2" height="2.2" fill="#d2d2d2"/>
<rect x="514.9" y="330.8" width="2.2" height="2.2" fill="#d2d2d2"/>
<rect x="516.6" y="332.3" width="2.2" height="2.2" fill="#d2d2d2"/>
<rect x="518.3" y="332.9" width="2.2" height="2.2" fill="#d2d2d2"/>
<rect x="520.0" y="333.2" width="2.2" height="2.2" fill="#d2d2d2"/>
<rect x="521.7" y="331.5" width="2.2" height="2.2" fill="#d2d2d2"/>
<rect x="523.4" y="334.8" width="2.2" height="2.2" fill="#d2d2d2"/>
<rect x="525.1" y="334.9" width="2.2" height="2.2" fill="#d2d2d2"/>
<rect x="526.8" y="332.9" width="2.2" height="2.2" fill="#d2d2d2"/>
<rect x="528.5" y="333.4" width="2.2" height="2.2" fill="#d2d2d2"/>
<rect x="530.2" y="332.6" width="2.2" height="2.2" fill="#d2d2d2"/>
<rect x="531.9" y="335.2" width="2.2" height="2.2" fill="#d2d2d2"/>
<rect x="533.6" y="332.6" width="2.2" height="2.2" fill="#d2d2d2"/>
<rect x="535.3" y="334.5" width="2.2" height="2.2" fill="#d2d2d2"/>
<rect x="537.0" y="333.1" width="2.2" height="2.2" fill="#d2d2d2"/>
<rect x="538.7" y="333.0" width="2.2" height="2.2" fill="#d2d2d2"/>
<path d="M328.0 316.7L329.0 316.7L330.0 316.6L331.0 316.6L332.0 316.5L333.0 316.5L334.0 316.4L335.0 316.3L336.0 316.3L337.0 316.2L338.0 316.1L339.0 316.0L340.0 315.9L341.0 315.8L342.0 315.8L343.0 315.7L344.0 315.6L345.0 315.6L346.0 315.5L347.0 315.5L348.0 315.5L349.0 315.5L350.0 315.5L351.0 315.5L352.0 315.6L353.0 315.7L354.0 315.8L355.0 315.8L356.0 316.0L357.0 316.1L358.0 316.2L359.0 316.3L360.0 316.5L361.0 316.6L362.0 316.8L363.0 316.9L364.0 317.0L365.0 317.2L366.0 317.3L367.0 317.4L368.0 317.5L369.0 317.6L370.0 317.8L371.0 317.9L372.0 317.9" fill="none" stroke="#f0bc10" stroke-width="2.20" stroke-linejoin="round"/>
<path d="M341.0 317.0L342.0 317.0L343.0 317.0L344.0 317.0L345.0 317.0L346.0 316.9L347.0 316.9L348.0 316.9L349.0 316.8L350.0 316.8L351.0 316.7L352.0 316.7L353.0 316.6L354.0 316.5L355.0 316.5L356.0 316.4L357.0 316.3L358.0 316.2L359.0 316.2L360.0 316.1L361.0 316.0L362.0 315.9L363.0 315.8L364.0 315.7L365.0 315.6L366.0 315.6L367.0 315.5L368.0 315.4L369.0 315.3L370.0 315.3L371.0 315.2L372.0 315.2L373.0 315.1L374.0 315.1L375.0 315.1L376.0 315.1L377.0 315.1L378.0 315.1L379.0 315.1L380.0 315.2L381.0 315.2L382.0 315.3L383.0 315.4L384.0 315.5L385.0 315.6L386.0 315.7L387.0 315.8L388.0 315.9L389.0 316.1L390.0 316.2L391.0 316.4L392.0 316.6L393.0 316.7L394.0 316.9L395.0 317.1L396.0 317.4L397.0 317.6L398.0 317.8L399.0 318.0L400.0 318.3L401.0 318.5L402.0 318.7L403.0 319.0L404.0 319.2L405.0 319.5L406.0 319.7L407.0 319.9L408.0 320.1L409.0 320.4L410.0 320.6L411.0 320.8L412.0 321.0L413.0 321.2L414.0 321.4L415.0 321.6L416.0 321.8L417.0 322.0L418.0 322.1L419.0 322.3" fill="none" stroke="#f070d0" stroke-width="2.20" stroke-linejoin="round"/>
<path d="M369.0 317.9L370.0 317.8L371.0 317.8L372.0 317.7L373.0 317.6L374.0 317.5L375.0 317.4L376.0 317.2L377.0 317.0L378.0 316.8L379.0 316.5L380.0 316.2L381.0 315.8L382.0 315.4L383.0 315.0L384.0 314.5L385.0 314.0L386.0 313.4L387.0 312.9L388.0 312.3L389.0 311.7L390.0 311.1L391.0 310.6L392.0 310.1L393.0 309.6L394.0 309.2L395.0 308.9L396.0 308.6L397.0 308.5L398.0 308.4L399.0 308.4L400.0 308.6L401.0 308.8L402.0 309.1L403.0 309.6L404.0 310.1L405.0 310.7L406.0 311.3L407.0 312.0L408.0 312.8L409.0 313.5L410.0 314.3L411.0 315.1L412.0 315.8L413.0 316.6L414.0 317.3L415.0 318.0L416.0 318.6L417.0 319.3L418.0 319.8L419.0 320.3L420.0 320.8L421.0 321.2L422.0 321.6L423.0 322.0L424.0 322.3L425.0 322.5L426.0 322.8L427.0 323.0L428.0 323.2L429.0 323.4" fill="none" stroke="#f5862a" stroke-width="2.20" stroke-linejoin="round"/>
<path d="M411.0 321.2L412.0 321.2L413.0 321.3L414.0 321.3L415.0 321.3L416.0 321.2L417.0 321.2L418.0 321.1L419.0 320.9L420.0 320.8L421.0 320.6L422.0 320.4L423.0 320.1L424.0 319.8L425.0 319.5L426.0 319.2L427.0 318.9L428.0 318.6L429.0 318.3L430.0 318.0L431.0 317.8L432.0 317.5L433.0 317.4L434.0 317.2L435.0 317.2L436.0 317.1L437.0 317.2L438.0 317.3L439.0 317.5L440.0 317.7L441.0 318.0L442.0 318.3L443.0 318.7L444.0 319.2L445.0 319.6L446.0 320.1L447.0 320.7L448.0 321.2L449.0 321.7L450.0 322.2L451.0 322.7L452.0 323.2L453.0 323.7L454.0 324.2L455.0 324.6L456.0 325.0L457.0 325.4L458.0 325.8L459.0 326.2L460.0 326.5L461.0 326.8L462.0 327.1L463.0 327.4L464.0 327.7" fill="none" stroke="#4a72d8" stroke-width="2.20" stroke-linejoin="round"/>
<path d="M436.0 324.0L437.0 324.0L438.0 323.9L439.0 323.8L440.0 323.7L441.0 323.5L442.0 323.3L443.0 323.0L444.0 322.7L445.0 322.3L446.0 321.9L447.0 321.4L448.0 320.8L449.0 320.2L450.0 319.6L451.0 318.9L452.0 318.2L453.0 317.5L454.0 316.8L455.0 316.2L456.0 315.7L457.0 315.2L458.0 314.8L459.0 314.6L460.0 314.4L461.0 314.4L462.0 314.5L463.0 314.8L464.0 315.2L465.0 315.8L466.0 316.4L467.0 317.2L468.0 318.1L469.0 319.0L470.0 320.0L471.0 321.0L472.0 322.0L473.0 323.0L474.0 323.9L475.0 324.9L476.0 325.7L477.0 326.6L478.0 327.3L479.0 328.0L480.0 328.6L481.0 329.2L482.0 329.7L483.0 330.1L484.0 330.5L485.0 330.8L486.0 331.1L487.0 331.3L488.0 331.5" fill="none" stroke="#f0bc10" stroke-width="2.20" stroke-linejoin="round"/>
<path d="M459.0 326.7L460.0 326.7L461.0 326.7L462.0 326.6L463.0 326.5L464.0 326.2L465.0 325.9L466.0 325.4L467.0 324.8L468.0 324.1L469.0 323.2L470.0 322.1L471.0 320.9L472.0 319.5L473.0 318.0L474.0 316.3L475.0 314.6L476.0 312.9L477.0 311.2L478.0 309.5L479.0 308.0L480.0 306.7L481.0 305.6L482.0 304.8L483.0 304.4L484.0 304.2L485.0 304.5L486.0 305.1L487.0 306.0L488.0 307.2L489.0 308.7L490.0 310.5L491.0 312.3L492.0 314.3L493.0 316.3L494.0 318.3L495.0 320.2L496.0 322.0L497.0 323.7L498.0 325.3L499.0 326.7L500.0 327.9L501.0 329.0L502.0 329.9L503.0 330.7L504.0 331.4L505.0 331.9L506.0 332.4L507.0 332.7L508.0 333.0L509.0 333.3L510.0 333.5" fill="none" stroke="#f03038" stroke-width="2.20" stroke-linejoin="round"/>
<path d="M303.0 317.2L304.0 317.2L305.0 317.2L306.0 317.2L307.0 317.2L308.0 317.2L309.0 317.2L310.0 317.2L311.0 317.2L312.0 317.3L313.0 317.3L314.0 317.3L315.0 317.3L316.0 317.3L317.0 317.3L318.0 317.3L319.0 317.4L320.0 317.4L321.0 317.4L322.0 317.4L323.0 317.4L324.0 317.5L325.0 317.5L326.0 317.5L327.0 317.5L328.0 317.5L329.0 317.6L330.0 317.6L331.0 317.6L332.0 317.6L333.0 317.7L334.0 317.7L335.0 317.7L336.0 317.7L337.0 317.7L338.0 317.8L339.0 317.8L340.0 317.8L341.0 317.9L342.0 317.9L343.0 317.9L344.0 317.9L345.0 318.0L346.0 318.0L347.0 318.0L348.0 318.0L349.0 318.1L350.0 318.1L351.0 318.1L352.0 318.2L353.0 318.2L354.0 318.2L355.0 318.2L356.0 318.3L357.0 318.3L358.0 318.3L359.0 318.4L360.0 318.4L361.0 318.4L362.0 318.5L363.0 318.5L364.0 318.5L365.0 318.5L366.0 318.6L367.0 318.6L368.0 318.6L369.0 318.7L370.0 318.7L371.0 318.7L372.0 318.8L373.0 318.8L374.0 318.9L375.0 318.9L376.0 318.9L377.0 319.0L378.0 319.0L379.0 319.1L380.0 319.1L381.0 319.1L382.0 319.2L383.0 319.2L384.0 319.3L385.0 319.3L386.0 319.4L387.0 319.5L388.0 319.5L389.0 319.6L390.0 319.6L391.0 319.7L392.0 319.8L393.0 319.9L394.0 319.9L395.0 320.0L396.0 320.1L397.0 320.2L398.0 320.3L399.0 320.5L400.0 320.6L401.0 320.7L402.0 320.8L403.0 321.0L404.0 321.1L405.0 321.2L406.0 321.4L407.0 321.5L408.0 321.6L409.0 321.8L410.0 321.9L411.0 322.0L412.0 322.2L413.0 322.3L414.0 322.5L415.0 322.6L416.0 322.7L417.0 322.9L418.0 323.0L419.0 323.1L420.0 323.3L421.0 323.4L422.0 323.5L423.0 323.6L424.0 323.7L425.0 323.8L426.0 323.9L427.0 324.0L428.0 324.1L429.0 324.2L430.0 324.3L431.0 324.4L432.0 324.5L433.0 324.6L434.0 324.7L435.0 324.8L436.0 324.9L437.0 325.0L438.0 325.1L439.0 325.2L440.0 325.3L441.0 325.3L442.0 325.4L443.0 325.5L444.0 325.6L445.0 325.7L446.0 325.9L447.0 326.0L448.0 326.1L449.0 326.2L450.0 326.3L451.0 326.4L452.0 326.5L453.0 326.7L454.0 326.8L455.0 326.9L456.0 327.1L457.0 327.2L458.0 327.4L459.0 327.6L460.0 327.8L461.0 327.9L462.0 328.1L463.0 328.3L464.0 328.5L465.0 328.7L466.0 328.9L467.0 329.1L468.0 329.3L469.0 329.5L470.0 329.7L471.0 329.9L472.0 330.1L473.0 330.2L474.0 330.4L475.0 330.6L476.0 330.8L477.0 331.0L478.0 331.1L479.0 331.3L480.0 331.4L481.0 331.6L482.0 331.7L483.0 331.8L484.0 331.9L485.0 332.1L486.0 332.2L487.0 332.3L488.0 332.4L489.0 332.5L490.0 332.6L491.0 332.7L492.0 332.7L493.0 332.8L494.0 332.9L495.0 333.0L496.0 333.1L497.0 333.2L498.0 333.3L499.0 333.3L500.0 333.4L501.0 333.5L502.0 333.6L503.0 333.7L504.0 333.8L505.0 333.9L506.0 334.0L507.0 334.0L508.0 334.1L509.0 334.2L510.0 334.3L511.0 334.4L512.0 334.5L513.0 334.6L514.0 334.7L515.0 334.8L516.0 334.9L517.0 334.9L518.0 335.0L519.0 335.1L520.0 335.2L521.0 335.3L522.0 335.4L523.0 335.5L524.0 335.6L525.0 335.6L526.0 335.7L527.0 335.8L528.0 335.9L529.0 336.0L530.0 336.1L531.0 336.2L532.0 336.3L533.0 336.3L534.0 336.4L535.0 336.5L536.0 336.6L537.0 336.7L538.0 336.8L539.0 336.8L540.0 336.9L541.0 337.0" fill="none" stroke="#38a06a" stroke-width="2.00"/>
<path d="M303.0 316.1L304.0 316.1L305.0 316.2L306.0 316.2L307.0 316.2L308.0 316.2L309.0 316.2L310.0 316.2L311.0 316.2L312.0 316.2L313.0 316.2L314.0 316.2L315.0 316.2L316.0 316.3L317.0 316.3L318.0 316.3L319.0 316.3L320.0 316.3L321.0 316.3L322.0 316.3L323.0 316.3L324.0 316.2L325.0 316.2L326.0 316.2L327.0 316.2L328.0 316.1L329.0 316.1L330.0 316.0L331.0 316.0L332.0 315.9L333.0 315.8L334.0 315.8L335.0 315.7L336.0 315.6L337.0 315.5L338.0 315.3L339.0 315.2L340.0 315.1L341.0 315.0L342.0 314.9L343.0 314.8L344.0 314.7L345.0 314.5L346.0 314.4L347.0 314.4L348.0 314.3L349.0 314.2L350.0 314.1L351.0 314.1L352.0 314.1L353.0 314.0L354.0 314.0L355.0 314.0L356.0 314.0L357.0 314.0L358.0 314.1L359.0 314.1L360.0 314.1L361.0 314.1L362.0 314.1L363.0 314.1L364.0 314.1L365.0 314.1L366.0 314.1L367.0 314.1L368.0 314.1L369.0 314.0L370.0 314.0L371.0 313.9L372.0 313.8L373.0 313.7L374.0 313.5L375.0 313.4L376.0 313.2L377.0 313.0L378.0 312.7L379.0 312.5L380.0 312.1L381.0 311.8L382.0 311.4L383.0 311.0L384.0 310.6L385.0 310.1L386.0 309.7L387.0 309.2L388.0 308.7L389.0 308.2L390.0 307.7L391.0 307.3L392.0 306.8L393.0 306.5L394.0 306.2L395.0 306.0L396.0 305.8L397.0 305.8L398.0 305.8L399.0 306.0L400.0 306.2L401.0 306.6L402.0 307.0L403.0 307.5L404.0 308.1L405.0 308.8L406.0 309.5L407.0 310.3L408.0 311.1L409.0 311.9L410.0 312.7L411.0 313.5L412.0 314.2L413.0 314.9L414.0 315.6L415.0 316.2L416.0 316.7L417.0 317.2L418.0 317.5L419.0 317.8L420.0 318.0L421.0 318.2L422.0 318.3L423.0 318.3L424.0 318.2L425.0 318.1L426.0 318.0L427.0 317.8L428.0 317.6L429.0 317.3L430.0 317.1L431.0 316.9L432.0 316.7L433.0 316.5L434.0 316.3L435.0 316.2L436.0 316.1L437.0 316.1L438.0 316.0L439.0 316.0L440.0 316.1L441.0 316.1L442.0 316.1L443.0 316.2L444.0 316.2L445.0 316.2L446.0 316.1L447.0 316.0L448.0 315.9L449.0 315.7L450.0 315.4L451.0 315.2L452.0 314.8L453.0 314.5L454.0 314.1L455.0 313.8L456.0 313.5L457.0 313.2L458.0 312.9L459.0 312.7L460.0 312.6L461.0 312.5L462.0 312.5L463.0 312.6L464.0 312.6L465.0 312.7L466.0 312.8L467.0 312.8L468.0 312.7L469.0 312.6L470.0 312.3L471.0 311.9L472.0 311.3L473.0 310.6L474.0 309.8L475.0 308.8L476.0 307.8L477.0 306.7L478.0 305.7L479.0 304.7L480.0 303.9L481.0 303.2L482.0 302.8L483.0 302.6L484.0 302.7L485.0 303.2L486.0 304.0L487.0 305.0L488.0 306.4L489.0 308.0L490.0 309.7L491.0 311.7L492.0 313.7L493.0 315.7L494.0 317.7L495.0 319.6L496.0 321.5L497.0 323.2L498.0 324.8L499.0 326.2L500.0 327.4L501.0 328.5L502.0 329.4L503.0 330.2L504.0 330.9L505.0 331.4L506.0 331.9L507.0 332.2L508.0 332.5L509.0 332.8L510.0 333.0L511.0 333.2L512.0 333.3L513.0 333.5L514.0 333.6L515.0 333.7L516.0 333.8L517.0 333.9L518.0 334.0L519.0 334.1L520.0 334.2L521.0 334.3L522.0 334.4L523.0 334.5L524.0 334.5L525.0 334.6L526.0 334.7L527.0 334.8L528.0 334.9L529.0 335.0L530.0 335.1L531.0 335.2L532.0 335.2L533.0 335.3L534.0 335.4L535.0 335.5L536.0 335.6L537.0 335.7L538.0 335.8L539.0 335.8L540.0 335.9L541.0 336.0" fill="none" stroke="#000" stroke-width="2.10" stroke-dasharray="1.85 1.5"/>
<rect x="302.4" y="361.5" width="2.2" height="2.2" fill="#d2d2d2"/>
<rect x="304.1" y="362.3" width="2.2" height="2.2" fill="#d2d2d2"/>
<rect x="305.8" y="360.5" width="2.2" height="2.2" fill="#d2d2d2"/>
<rect x="307.5" y="359.7" width="2.2" height="2.2" fill="#d2d2d2"/>
<rect x="309.2" y="361.6" width="2.2" height="2.2" fill="#d2d2d2"/>
<rect x="310.9" y="360.6" width="2.2" height="2.2" fill="#d2d2d2"/>
<rect x="312.6" y="361.1" width="2.2" height="2.2" fill="#d2d2d2"/>
<rect x="314.3" y="362.6" width="2.2" height="2.2" fill="#d2d2d2"/>
<rect x="316.0" y="362.2" width="2.2" height="2.2" fill="#d2d2d2"/>
<rect x="317.7" y="360.1" width="2.2" height="2.2" fill="#d2d2d2"/>
<rect x="319.4" y="363.7" width="2.2" height="2.2" fill="#d2d2d2"/>
<rect x="321.1" y="360.8" width="2.2" height="2.2" fill="#d2d2d2"/>
<rect x="322.8" y="361.8" width="2.2" height="2.2" fill="#d2d2d2"/>
<rect x="324.5" y="360.0" width="2.2" height="2.2" fill="#d2d2d2"/>
<rect x="326.2" y="360.8" width="2.2" height="2.2" fill="#d2d2d2"/>
<rect x="327.9" y="358.6" width="2.2" height="2.2" fill="#d2d2d2"/>
<rect x="329.6" y="363.1" width="2.2" height="2.2" fill="#d2d2d2"/>
<rect x="331.3" y="362.6" width="2.2" height="2.2" fill="#d2d2d2"/>
<rect x="333.0" y="359.1" width="2.2" height="2.2" fill="#d2d2d2"/>
<rect x="334.7" y="358.6" width="2.2" height="2.2" fill="#d2d2d2"/>
<rect x="336.4" y="358.4" width="2.2" height="2.2" fill="#d2d2d2"/>
<rect x="338.1" y="361.8" width="2.2" height="2.2" fill="#d2d2d2"/>
<rect x="339.8" y="359.3" width="2.2" height="2.2" fill="#d2d2d2"/>
<rect x="341.5" y="359.5" width="2.2" height="2.2" fill="#d2d2d2"/>
<rect x="343.2" y="358.9" width="2.2" height="2.2" fill="#d2d2d2"/>
<rect x="344.9" y="358.7" width="2.2" height="2.2" fill="#d2d2d2"/>
<rect x="346.6" y="356.9" width="2.2" height="2.2" fill="#d2d2d2"/>
<rect x="348.3" y="358.1" width="2.2" height="2.2" fill="#d2d2d2"/>
<rect x="350.0" y="355.7" width="2.2" height="2.2" fill="#d2d2d2"/>
<rect x="351.7" y="356.9" width="2.2" height="2.2" fill="#d2d2d2"/>
<rect x="353.4" y="357.2" width="2.2" height="2.2" fill="#d2d2d2"/>
<rect x="355.1" y="357.0" width="2.2" height="2.2" fill="#d2d2d2"/>
<rect x="356.8" y="355.8" width="2.2" height="2.2" fill="#d2d2d2"/>
<rect x="358.5" y="354.7" width="2.2" height="2.2" fill="#d2d2d2"/>
<rect x="360.2" y="356.0" width="2.2" height="2.2" fill="#d2d2d2"/>
<rect x="361.9" y="355.0" width="2.2" height="2.2" fill="#d2d2d2"/>
<rect x="363.6" y="357.6" width="2.2" height="2.2" fill="#d2d2d2"/>
<rect x="365.3" y="356.6" width="2.2" height="2.2" fill="#d2d2d2"/>
<rect x="367.0" y="355.3" width="2.2" height="2.2" fill="#d2d2d2"/>
<rect x="368.7" y="354.7" width="2.2" height="2.2" fill="#d2d2d2"/>
<rect x="370.4" y="354.3" width="2.2" height="2.2" fill="#d2d2d2"/>
<rect x="372.1" y="353.8" width="2.2" height="2.2" fill="#d2d2d2"/>
<rect x="373.8" y="354.2" width="2.2" height="2.2" fill="#d2d2d2"/>
<rect x="375.5" y="354.6" width="2.2" height="2.2" fill="#d2d2d2"/>
<rect x="377.2" y="354.7" width="2.2" height="2.2" fill="#d2d2d2"/>
<rect x="378.9" y="354.2" width="2.2" height="2.2" fill="#d2d2d2"/>
<rect x="380.6" y="355.6" width="2.2" height="2.2" fill="#d2d2d2"/>
<rect x="382.3" y="351.6" width="2.2" height="2.2" fill="#d2d2d2"/>
<rect x="384.0" y="351.9" width="2.2" height="2.2" fill="#d2d2d2"/>
<rect x="385.7" y="354.8" width="2.2" height="2.2" fill="#d2d2d2"/>
<rect x="387.4" y="348.4" width="2.2" height="2.2" fill="#d2d2d2"/>
<rect x="389.1" y="349.4" width="2.2" height="2.2" fill="#d2d2d2"/>
<rect x="390.8" y="349.6" width="2.2" height="2.2" fill="#d2d2d2"/>
<rect x="392.5" y="349.0" width="2.2" height="2.2" fill="#d2d2d2"/>
<rect x="394.2" y="349.1" width="2.2" height="2.2" fill="#d2d2d2"/>
<rect x="395.9" y="348.0" width="2.2" height="2.2" fill="#d2d2d2"/>
<rect x="397.6" y="348.9" width="2.2" height="2.2" fill="#d2d2d2"/>
<rect x="399.3" y="348.8" width="2.2" height="2.2" fill="#d2d2d2"/>
<rect x="401.0" y="350.5" width="2.2" height="2.2" fill="#d2d2d2"/>
<rect x="402.7" y="348.3" width="2.2" height="2.2" fill="#d2d2d2"/>
<rect x="404.4" y="350.4" width="2.2" height="2.2" fill="#d2d2d2"/>
<rect x="406.1" y="353.3" width="2.2" height="2.2" fill="#d2d2d2"/>
<rect x="407.8" y="353.9" width="2.2" height="2.2" fill="#d2d2d2"/>
<rect x="409.5" y="355.8" width="2.2" height="2.2" fill="#d2d2d2"/>
<rect x="411.2" y="358.9" width="2.2" height="2.2" fill="#d2d2d2"/>
<rect x="412.9" y="358.9" width="2.2" height="2.2" fill="#d2d2d2"/>
<rect x="414.6" y="362.1" width="2.2" height="2.2" fill="#d2d2d2"/>
<rect x="416.3" y="362.9" width="2.2" height="2.2" fill="#d2d2d2"/>
<rect x="418.0" y="363.4" width="2.2" height="2.2" fill="#d2d2d2"/>
<rect x="419.7" y="364.3" width="2.2" height="2.2" fill="#d2d2d2"/>
<rect x="421.4" y="363.8" width="2.2" height="2.2" fill="#d2d2d2"/>
<rect x="423.1" y="362.3" width="2.2" height="2.2" fill="#d2d2d2"/>
<rect x="424.8" y="363.9" width="2.2" height="2.2" fill="#d2d2d2"/>
<rect x="426.5" y="364.2" width="2.2" height="2.2" fill="#d2d2d2"/>
<rect x="428.2" y="362.6" width="2.2" height="2.2" fill="#d2d2d2"/>
<rect x="429.9" y="362.5" width="2.2" height="2.2" fill="#d2d2d2"/>
<rect x="431.6" y="362.9" width="2.2" height="2.2" fill="#d2d2d2"/>
<rect x="433.3" y="360.4" width="2.2" height="2.2" fill="#d2d2d2"/>
<rect x="435.0" y="361.6" width="2.2" height="2.2" fill="#d2d2d2"/>
<rect x="436.7" y="362.7" width="2.2" height="2.2" fill="#d2d2d2"/>
<rect x="438.4" y="359.4" width="2.2" height="2.2" fill="#d2d2d2"/>
<rect x="440.1" y="360.2" width="2.2" height="2.2" fill="#d2d2d2"/>
<rect x="441.8" y="360.0" width="2.2" height="2.2" fill="#d2d2d2"/>
<rect x="443.5" y="362.5" width="2.2" height="2.2" fill="#d2d2d2"/>
<rect x="445.2" y="361.2" width="2.2" height="2.2" fill="#d2d2d2"/>
<rect x="446.9" y="362.5" width="2.2" height="2.2" fill="#d2d2d2"/>
<rect x="448.6" y="360.8" width="2.2" height="2.2" fill="#d2d2d2"/>
<rect x="450.3" y="361.7" width="2.2" height="2.2" fill="#d2d2d2"/>
<rect x="452.0" y="361.7" width="2.2" height="2.2" fill="#d2d2d2"/>
<rect x="453.7" y="359.0" width="2.2" height="2.2" fill="#d2d2d2"/>
<rect x="455.4" y="362.8" width="2.2" height="2.2" fill="#d2d2d2"/>
<rect x="457.1" y="361.2" width="2.2" height="2.2" fill="#d2d2d2"/>
<rect x="458.8" y="356.8" width="2.2" height="2.2" fill="#d2d2d2"/>
<rect x="460.5" y="359.1" width="2.2" height="2.2" fill="#d2d2d2"/>
<rect x="462.2" y="357.6" width="2.2" height="2.2" fill="#d2d2d2"/>
<rect x="463.9" y="357.7" width="2.2" height="2.2" fill="#d2d2d2"/>
<rect x="465.6" y="357.2" width="2.2" height="2.2" fill="#d2d2d2"/>
<rect x="467.3" y="354.5" width="2.2" height="2.2" fill="#d2d2d2"/>
<rect x="469.0" y="355.2" width="2.2" height="2.2" fill="#d2d2d2"/>
<rect x="470.7" y="355.8" width="2.2" height="2.2" fill="#d2d2d2"/>
<rect x="472.4" y="352.1" width="2.2" height="2.2" fill="#d2d2d2"/>
<rect x="474.1" y="348.8" width="2.2" height="2.2" fill="#d2d2d2"/>
<rect x="475.8" y="345.4" width="2.2" height="2.2" fill="#d2d2d2"/>
<rect x="477.5" y="342.9" width="2.2" height="2.2" fill="#d2d2d2"/>
<rect x="479.2" y="343.8" width="2.2" height="2.2" fill="#d2d2d2"/>
<rect x="480.9" y="344.4" width="2.2" height="2.2" fill="#d2d2d2"/>
<rect x="482.6" y="343.1" width="2.2" height="2.2" fill="#d2d2d2"/>
<rect x="484.3" y="343.7" width="2.2" height="2.2" fill="#d2d2d2"/>
<rect x="486.0" y="349.3" width="2.2" height="2.2" fill="#d2d2d2"/>
<rect x="487.7" y="350.1" width="2.2" height="2.2" fill="#d2d2d2"/>
<rect x="489.4" y="352.5" width="2.2" height="2.2" fill="#d2d2d2"/>
<rect x="491.1" y="359.5" width="2.2" height="2.2" fill="#d2d2d2"/>
<rect x="492.8" y="365.0" width="2.2" height="2.2" fill="#d2d2d2"/>
<rect x="494.5" y="368.0" width="2.2" height="2.2" fill="#d2d2d2"/>
<rect x="496.2" y="370.0" width="2.2" height="2.2" fill="#d2d2d2"/>
<rect x="497.9" y="375.7" width="2.2" height="2.2" fill="#d2d2d2"/>
<rect x="499.6" y="378.6" width="2.2" height="2.2" fill="#d2d2d2"/>
<rect x="501.3" y="377.8" width="2.2" height="2.2" fill="#d2d2d2"/>
<rect x="503.0" y="381.0" width="2.2" height="2.2" fill="#d2d2d2"/>
<rect x="504.7" y="381.9" width="2.2" height="2.2" fill="#d2d2d2"/>
<rect x="506.4" y="383.7" width="2.2" height="2.2" fill="#d2d2d2"/>
<rect x="508.1" y="383.7" width="2.2" height="2.2" fill="#d2d2d2"/>
<rect x="509.8" y="384.2" width="2.2" height="2.2" fill="#d2d2d2"/>
<rect x="511.5" y="384.3" width="2.2" height="2.2" fill="#d2d2d2"/>
<rect x="513.2" y="386.3" width="2.2" height="2.2" fill="#d2d2d2"/>
<rect x="514.9" y="387.0" width="2.2" height="2.2" fill="#d2d2d2"/>
<rect x="516.6" y="385.0" width="2.2" height="2.2" fill="#d2d2d2"/>
<rect x="518.3" y="386.7" width="2.2" height="2.2" fill="#d2d2d2"/>
<rect x="520.0" y="384.9" width="2.2" height="2.2" fill="#d2d2d2"/>
<rect x="521.7" y="386.1" width="2.2" height="2.2" fill="#d2d2d2"/>
<rect x="523.4" y="387.1" width="2.2" height="2.2" fill="#d2d2d2"/>
<rect x="525.1" y="388.3" width="2.2" height="2.2" fill="#d2d2d2"/>
<rect x="526.8" y="386.0" width="2.2" height="2.2" fill="#d2d2d2"/>
<rect x="528.5" y="386.5" width="2.2" height="2.2" fill="#d2d2d2"/>
<rect x="530.2" y="387.0" width="2.2" height="2.2" fill="#d2d2d2"/>
<rect x="531.9" y="384.9" width="2.2" height="2.2" fill="#d2d2d2"/>
<rect x="533.6" y="386.9" width="2.2" height="2.2" fill="#d2d2d2"/>
<rect x="535.3" y="386.1" width="2.2" height="2.2" fill="#d2d2d2"/>
<rect x="537.0" y="387.5" width="2.2" height="2.2" fill="#d2d2d2"/>
<rect x="538.7" y="385.6" width="2.2" height="2.2" fill="#d2d2d2"/>
<path d="M333.0 363.6L334.0 363.5L335.0 363.5L336.0 363.4L337.0 363.3L338.0 363.2L339.0 363.1L340.0 363.0L341.0 362.8L342.0 362.7L343.0 362.5L344.0 362.3L345.0 362.1L346.0 361.8L347.0 361.6L348.0 361.4L349.0 361.1L350.0 360.9L351.0 360.7L352.0 360.5L353.0 360.3L354.0 360.1L355.0 360.0L356.0 359.9L357.0 359.9L358.0 359.8L359.0 359.9L360.0 359.9L361.0 360.0L362.0 360.2L363.0 360.3L364.0 360.6L365.0 360.8L366.0 361.1L367.0 361.4L368.0 361.7L369.0 362.0L370.0 362.4L371.0 362.7L372.0 363.0L373.0 363.4L374.0 363.7L375.0 364.0L376.0 364.3L377.0 364.6L378.0 364.9L379.0 365.1L380.0 365.4L381.0 365.6L382.0 365.8L383.0 366.0L384.0 366.2L385.0 366.3L386.0 366.5" fill="none" stroke="#98cc48" stroke-width="2.20" stroke-linejoin="round"/>
<path d="M354.0 364.5L355.0 364.5L356.0 364.5L357.0 364.5L358.0 364.4L359.0 364.3L360.0 364.3L361.0 364.2L362.0 364.0L363.0 363.9L364.0 363.8L365.0 363.6L366.0 363.4L367.0 363.2L368.0 363.0L369.0 362.7L370.0 362.5L371.0 362.3L372.0 362.0L373.0 361.8L374.0 361.6L375.0 361.4L376.0 361.2L377.0 361.0L378.0 360.9L379.0 360.8L380.0 360.8L381.0 360.8L382.0 360.9L383.0 361.0L384.0 361.1L385.0 361.4L386.0 361.6L387.0 361.9L388.0 362.2L389.0 362.6L390.0 363.0L391.0 363.3L392.0 363.7L393.0 364.1L394.0 364.6L395.0 365.0L396.0 365.4L397.0 365.8L398.0 366.2L399.0 366.6L400.0 367.0L401.0 367.4L402.0 367.7L403.0 368.1L404.0 368.4L405.0 368.7L406.0 369.1L407.0 369.4L408.0 369.6L409.0 369.9" fill="none" stroke="#f070d0" stroke-width="2.20" stroke-linejoin="round"/>
<path d="M344.0 364.1L345.0 364.1L346.0 364.2L347.0 364.2L348.0 364.2L349.0 364.3L350.0 364.3L351.0 364.3L352.0 364.3L353.0 364.4L354.0 364.4L355.0 364.4L356.0 364.5L357.0 364.5L358.0 364.5L359.0 364.5L360.0 364.6L361.0 364.6L362.0 364.6L363.0 364.6L364.0 364.6L365.0 364.6L366.0 364.6L367.0 364.6L368.0 364.5L369.0 364.5L370.0 364.4L371.0 364.4L372.0 364.3L373.0 364.2L374.0 364.1L375.0 363.9L376.0 363.7L377.0 363.5L378.0 363.2L379.0 362.9L380.0 362.6L381.0 362.2L382.0 361.8L383.0 361.4L384.0 360.9L385.0 360.3L386.0 359.7L387.0 359.1L388.0 358.5L389.0 357.9L390.0 357.2L391.0 356.5L392.0 355.9L393.0 355.2L394.0 354.6L395.0 354.1L396.0 353.7L397.0 353.3L398.0 353.1L399.0 353.0L400.0 353.0L401.0 353.2L402.0 353.5L403.0 354.0L404.0 354.5L405.0 355.2L406.0 356.0L407.0 356.8L408.0 357.7L409.0 358.7L410.0 359.6L411.0 360.6L412.0 361.6L413.0 362.5L414.0 363.4L415.0 364.3L416.0 365.2L417.0 366.0L418.0 366.7L419.0 367.4L420.0 368.1L421.0 368.7L422.0 369.2L423.0 369.7L424.0 370.1L425.0 370.5L426.0 370.9L427.0 371.2L428.0 371.5L429.0 371.7L430.0 371.9L431.0 372.1L432.0 372.3L433.0 372.5L434.0 372.6L435.0 372.8L436.0 372.9L437.0 373.0L438.0 373.1L439.0 373.2L440.0 373.3L441.0 373.4L442.0 373.5L443.0 373.6L444.0 373.7L445.0 373.8L446.0 373.9L447.0 374.0L448.0 374.1L449.0 374.2L450.0 374.3L451.0 374.5L452.0 374.6L453.0 374.7L454.0 374.9L455.0 375.0L456.0 375.2L457.0 375.4" fill="none" stroke="#f5862a" stroke-width="2.20" stroke-linejoin="round"/>
<path d="M404.0 368.9L405.0 369.1L406.0 369.3L407.0 369.5L408.0 369.6L409.0 369.8L410.0 369.9L411.0 370.1L412.0 370.2L413.0 370.3L414.0 370.4L415.0 370.5L416.0 370.5L417.0 370.5L418.0 370.5L419.0 370.4L420.0 370.3L421.0 370.2L422.0 370.0L423.0 369.8L424.0 369.5L425.0 369.2L426.0 368.9L427.0 368.5L428.0 368.1L429.0 367.6L430.0 367.2L431.0 366.7L432.0 366.2L433.0 365.8L434.0 365.3L435.0 364.9L436.0 364.5L437.0 364.2L438.0 364.0L439.0 363.8L440.0 363.7L441.0 363.7L442.0 363.8L443.0 364.0L444.0 364.3L445.0 364.7L446.0 365.1L447.0 365.6L448.0 366.2L449.0 366.8L450.0 367.4L451.0 368.0L452.0 368.7L453.0 369.3L454.0 370.0L455.0 370.6L456.0 371.3L457.0 371.9L458.0 372.5L459.0 373.1L460.0 373.7L461.0 374.3L462.0 374.8L463.0 375.3L464.0 375.8L465.0 376.3L466.0 376.8L467.0 377.2L468.0 377.6L469.0 378.0L470.0 378.4L471.0 378.8L472.0 379.2L473.0 379.6L474.0 379.9L475.0 380.2L476.0 380.6L477.0 380.9L478.0 381.2" fill="none" stroke="#4a72d8" stroke-width="2.20" stroke-linejoin="round"/>
<path d="M436.0 373.4L437.0 373.4L438.0 373.5L439.0 373.5L440.0 373.5L441.0 373.5L442.0 373.5L443.0 373.5L444.0 373.4L445.0 373.3L446.0 373.2L447.0 373.0L448.0 372.8L449.0 372.5L450.0 372.1L451.0 371.7L452.0 371.2L453.0 370.6L454.0 369.9L455.0 369.2L456.0 368.5L457.0 367.8L458.0 367.0L459.0 366.3L460.0 365.7L461.0 365.3L462.0 365.0L463.0 364.9L464.0 365.0L465.0 365.4L466.0 366.0L467.0 366.8L468.0 367.8L469.0 368.9L470.0 370.1L471.0 371.3L472.0 372.6L473.0 373.8L474.0 374.9L475.0 376.0L476.0 377.1L477.0 378.0L478.0 378.8L479.0 379.6L480.0 380.2L481.0 380.8L482.0 381.3L483.0 381.8L484.0 382.2L485.0 382.5L486.0 382.9L487.0 383.2L488.0 383.5L489.0 383.8L490.0 384.0L491.0 384.3L492.0 384.5" fill="none" stroke="#f0bc10" stroke-width="2.20" stroke-linejoin="round"/>
<path d="M454.0 374.9L455.0 375.0L456.0 375.0L457.0 375.1L458.0 375.1L459.0 375.1L460.0 375.1L461.0 375.0L462.0 374.8L463.0 374.5L464.0 374.1L465.0 373.5L466.0 372.8L467.0 371.9L468.0 370.8L469.0 369.4L470.0 367.9L471.0 366.2L472.0 364.3L473.0 362.2L474.0 360.1L475.0 357.8L476.0 355.6L477.0 353.5L478.0 351.5L479.0 349.7L480.0 348.2L481.0 347.0L482.0 346.3L483.0 346.0L484.0 346.2L485.0 346.9L486.0 348.1L487.0 349.7L488.0 351.7L489.0 354.0L490.0 356.5L491.0 359.2L492.0 361.9L493.0 364.6L494.0 367.3L495.0 369.9L496.0 372.3L497.0 374.5L498.0 376.5L499.0 378.3L500.0 379.8L501.0 381.2L502.0 382.3L503.0 383.3L504.0 384.1L505.0 384.8L506.0 385.4L507.0 385.9L508.0 386.3L509.0 386.6L510.0 386.9L511.0 387.1L512.0 387.3L513.0 387.5" fill="none" stroke="#f03038" stroke-width="2.20" stroke-linejoin="round"/>
<path d="M303.0 363.7L304.0 363.7L305.0 363.7L306.0 363.7L307.0 363.7L308.0 363.8L309.0 363.8L310.0 363.8L311.0 363.8L312.0 363.8L313.0 363.8L314.0 363.9L315.0 363.9L316.0 363.9L317.0 363.9L318.0 364.0L319.0 364.0L320.0 364.0L321.0 364.0L322.0 364.1L323.0 364.1L324.0 364.1L325.0 364.2L326.0 364.2L327.0 364.2L328.0 364.3L329.0 364.3L330.0 364.3L331.0 364.4L332.0 364.4L333.0 364.4L334.0 364.5L335.0 364.5L336.0 364.6L337.0 364.6L338.0 364.6L339.0 364.7L340.0 364.7L341.0 364.8L342.0 364.8L343.0 364.8L344.0 364.9L345.0 364.9L346.0 365.0L347.0 365.0L348.0 365.1L349.0 365.1L350.0 365.2L351.0 365.2L352.0 365.3L353.0 365.3L354.0 365.3L355.0 365.4L356.0 365.4L357.0 365.5L358.0 365.5L359.0 365.6L360.0 365.6L361.0 365.7L362.0 365.7L363.0 365.8L364.0 365.8L365.0 365.9L366.0 365.9L367.0 366.0L368.0 366.0L369.0 366.1L370.0 366.2L371.0 366.2L372.0 366.3L373.0 366.3L374.0 366.4L375.0 366.5L376.0 366.5L377.0 366.6L378.0 366.7L379.0 366.8L380.0 366.8L381.0 366.9L382.0 367.0L383.0 367.1L384.0 367.1L385.0 367.2L386.0 367.3L387.0 367.4L388.0 367.5L389.0 367.6L390.0 367.7L391.0 367.8L392.0 367.9L393.0 368.0L394.0 368.1L395.0 368.2L396.0 368.3L397.0 368.5L398.0 368.6L399.0 368.8L400.0 369.0L401.0 369.2L402.0 369.3L403.0 369.5L404.0 369.7L405.0 369.9L406.0 370.1L407.0 370.3L408.0 370.6L409.0 370.8L410.0 371.0L411.0 371.2L412.0 371.4L413.0 371.6L414.0 371.8L415.0 372.0L416.0 372.1L417.0 372.3L418.0 372.5L419.0 372.6L420.0 372.8L421.0 372.9L422.0 373.1L423.0 373.2L424.0 373.3L425.0 373.4L426.0 373.5L427.0 373.6L428.0 373.6L429.0 373.7L430.0 373.8L431.0 373.9L432.0 373.9L433.0 374.0L434.0 374.1L435.0 374.1L436.0 374.2L437.0 374.3L438.0 374.3L439.0 374.4L440.0 374.5L441.0 374.5L442.0 374.6L443.0 374.7L444.0 374.7L445.0 374.8L446.0 374.9L447.0 375.0L448.0 375.0L449.0 375.1L450.0 375.2L451.0 375.3L452.0 375.5L453.0 375.6L454.0 375.7L455.0 375.9L456.0 376.0L457.0 376.2L458.0 376.4L459.0 376.6L460.0 376.9L461.0 377.1L462.0 377.3L463.0 377.6L464.0 377.9L465.0 378.2L466.0 378.4L467.0 378.7L468.0 379.0L469.0 379.3L470.0 379.6L471.0 379.9L472.0 380.2L473.0 380.5L474.0 380.8L475.0 381.1L476.0 381.4L477.0 381.7L478.0 382.0L479.0 382.3L480.0 382.5L481.0 382.8L482.0 383.0L483.0 383.3L484.0 383.5L485.0 383.7L486.0 384.0L487.0 384.2L488.0 384.4L489.0 384.7L490.0 384.9L491.0 385.1L492.0 385.3L493.0 385.5L494.0 385.8L495.0 386.0L496.0 386.1L497.0 386.3L498.0 386.5L499.0 386.6L500.0 386.8L501.0 386.9L502.0 387.0L503.0 387.1L504.0 387.3L505.0 387.4L506.0 387.5L507.0 387.6L508.0 387.8L509.0 387.9L510.0 388.0L511.0 388.1L512.0 388.2L513.0 388.4L514.0 388.5L515.0 388.6L516.0 388.7L517.0 388.8L518.0 388.9L519.0 389.0L520.0 389.1L521.0 389.2L522.0 389.3L523.0 389.4L524.0 389.5L525.0 389.6L526.0 389.6L527.0 389.7L528.0 389.8L529.0 389.8L530.0 389.9L531.0 390.0L532.0 390.0L533.0 390.1L534.0 390.1L535.0 390.1L536.0 390.2L537.0 390.2L538.0 390.2L539.0 390.2L540.0 390.3L541.0 390.3" fill="none" stroke="#38a06a" stroke-width="2.00"/>
<path d="M303.0 362.5L304.0 362.5L305.0 362.5L306.0 362.5L307.0 362.6L308.0 362.6L309.0 362.6L310.0 362.6L311.0 362.6L312.0 362.6L313.0 362.6L314.0 362.7L315.0 362.7L316.0 362.7L317.0 362.7L318.0 362.7L319.0 362.7L320.0 362.8L321.0 362.8L322.0 362.8L323.0 362.8L324.0 362.8L325.0 362.8L326.0 362.8L327.0 362.9L328.0 362.9L329.0 362.8L330.0 362.8L331.0 362.8L332.0 362.8L333.0 362.8L334.0 362.7L335.0 362.6L336.0 362.6L337.0 362.5L338.0 362.4L339.0 362.2L340.0 362.1L341.0 361.9L342.0 361.7L343.0 361.5L344.0 361.3L345.0 361.1L346.0 360.8L347.0 360.6L348.0 360.3L349.0 360.1L350.0 359.8L351.0 359.5L352.0 359.3L353.0 359.0L354.0 358.8L355.0 358.6L356.0 358.4L357.0 358.2L358.0 358.1L359.0 358.0L360.0 357.9L361.0 357.8L362.0 357.7L363.0 357.7L364.0 357.6L365.0 357.6L366.0 357.6L367.0 357.5L368.0 357.5L369.0 357.4L370.0 357.4L371.0 357.3L372.0 357.1L373.0 357.0L374.0 356.8L375.0 356.7L376.0 356.5L377.0 356.2L378.0 356.0L379.0 355.7L380.0 355.4L381.0 355.1L382.0 354.8L383.0 354.5L384.0 354.2L385.0 353.9L386.0 353.5L387.0 353.2L388.0 352.8L389.0 352.5L390.0 352.1L391.0 351.7L392.0 351.4L393.0 351.1L394.0 350.8L395.0 350.6L396.0 350.4L397.0 350.3L398.0 350.3L399.0 350.5L400.0 350.7L401.0 351.1L402.0 351.5L403.0 352.1L404.0 352.8L405.0 353.6L406.0 354.4L407.0 355.3L408.0 356.3L409.0 357.2L410.0 358.2L411.0 359.1L412.0 360.0L413.0 360.9L414.0 361.8L415.0 362.5L416.0 363.3L417.0 363.9L418.0 364.5L419.0 365.0L420.0 365.4L421.0 365.7L422.0 365.9L423.0 366.0L424.0 366.1L425.0 366.1L426.0 366.0L427.0 365.8L428.0 365.6L429.0 365.3L430.0 365.0L431.0 364.6L432.0 364.3L433.0 363.9L434.0 363.5L435.0 363.1L436.0 362.8L437.0 362.5L438.0 362.3L439.0 362.1L440.0 362.0L441.0 362.0L442.0 362.0L443.0 362.2L444.0 362.3L445.0 362.5L446.0 362.8L447.0 363.0L448.0 363.3L449.0 363.5L450.0 363.7L451.0 363.8L452.0 363.8L453.0 363.7L454.0 363.5L455.0 363.3L456.0 362.9L457.0 362.5L458.0 362.1L459.0 361.6L460.0 361.1L461.0 360.6L462.0 360.1L463.0 359.7L464.0 359.4L465.0 359.2L466.0 358.9L467.0 358.7L468.0 358.4L469.0 358.0L470.0 357.5L471.0 356.8L472.0 355.9L473.0 354.8L474.0 353.5L475.0 352.2L476.0 350.7L477.0 349.2L478.0 347.8L479.0 346.5L480.0 345.4L481.0 344.6L482.0 344.2L483.0 344.1L484.0 344.5L485.0 345.4L486.0 346.7L487.0 348.4L488.0 350.4L489.0 352.8L490.0 355.3L491.0 358.0L492.0 360.8L493.0 363.6L494.0 366.3L495.0 368.9L496.0 371.3L497.0 373.5L498.0 375.6L499.0 377.3L500.0 378.9L501.0 380.3L502.0 381.5L503.0 382.4L504.0 383.3L505.0 384.0L506.0 384.6L507.0 385.1L508.0 385.5L509.0 385.8L510.0 386.1L511.0 386.4L512.0 386.6L513.0 386.8L514.0 386.9L515.0 387.1L516.0 387.2L517.0 387.4L518.0 387.5L519.0 387.6L520.0 387.7L521.0 387.8L522.0 387.9L523.0 388.0L524.0 388.1L525.0 388.2L526.0 388.3L527.0 388.4L528.0 388.5L529.0 388.6L530.0 388.6L531.0 388.7L532.0 388.8L533.0 388.8L534.0 388.9L535.0 388.9L536.0 388.9L537.0 389.0L538.0 389.0L539.0 389.0L540.0 389.0L541.0 389.1" fill="none" stroke="#000" stroke-width="2.10" stroke-dasharray="1.85 1.5"/>
<rect x="302.4" y="413.0" width="2.2" height="2.2" fill="#d2d2d2"/>
<rect x="304.1" y="415.6" width="2.2" height="2.2" fill="#d2d2d2"/>
<rect x="305.8" y="415.9" width="2.2" height="2.2" fill="#d2d2d2"/>
<rect x="307.5" y="414.9" width="2.2" height="2.2" fill="#d2d2d2"/>
<rect x="309.2" y="416.8" width="2.2" height="2.2" fill="#d2d2d2"/>
<rect x="310.9" y="415.2" width="2.2" height="2.2" fill="#d2d2d2"/>
<rect x="312.6" y="414.8" width="2.2" height="2.2" fill="#d2d2d2"/>
<rect x="314.3" y="416.2" width="2.2" height="2.2" fill="#d2d2d2"/>
<rect x="316.0" y="413.6" width="2.2" height="2.2" fill="#d2d2d2"/>
<rect x="317.7" y="414.7" width="2.2" height="2.2" fill="#d2d2d2"/>
<rect x="319.4" y="415.6" width="2.2" height="2.2" fill="#d2d2d2"/>
<rect x="321.1" y="416.7" width="2.2" height="2.2" fill="#d2d2d2"/>
<rect x="322.8" y="415.4" width="2.2" height="2.2" fill="#d2d2d2"/>
<rect x="324.5" y="416.1" width="2.2" height="2.2" fill="#d2d2d2"/>
<rect x="326.2" y="414.8" width="2.2" height="2.2" fill="#d2d2d2"/>
<rect x="327.9" y="416.0" width="2.2" height="2.2" fill="#d2d2d2"/>
<rect x="329.6" y="417.8" width="2.2" height="2.2" fill="#d2d2d2"/>
<rect x="331.3" y="414.8" width="2.2" height="2.2" fill="#d2d2d2"/>
<rect x="333.0" y="418.7" width="2.2" height="2.2" fill="#d2d2d2"/>
<rect x="334.7" y="414.8" width="2.2" height="2.2" fill="#d2d2d2"/>
<rect x="336.4" y="415.6" width="2.2" height="2.2" fill="#d2d2d2"/>
<rect x="338.1" y="415.7" width="2.2" height="2.2" fill="#d2d2d2"/>
<rect x="339.8" y="416.7" width="2.2" height="2.2" fill="#d2d2d2"/>
<rect x="341.5" y="413.7" width="2.2" height="2.2" fill="#d2d2d2"/>
<rect x="343.2" y="412.5" width="2.2" height="2.2" fill="#d2d2d2"/>
<rect x="344.9" y="415.8" width="2.2" height="2.2" fill="#d2d2d2"/>
<rect x="346.6" y="415.8" width="2.2" height="2.2" fill="#d2d2d2"/>
<rect x="348.3" y="415.5" width="2.2" height="2.2" fill="#d2d2d2"/>
<rect x="350.0" y="417.8" width="2.2" height="2.2" fill="#d2d2d2"/>
<rect x="351.7" y="414.3" width="2.2" height="2.2" fill="#d2d2d2"/>
<rect x="353.4" y="414.2" width="2.2" height="2.2" fill="#d2d2d2"/>
<rect x="355.1" y="414.7" width="2.2" height="2.2" fill="#d2d2d2"/>
<rect x="356.8" y="413.5" width="2.2" height="2.2" fill="#d2d2d2"/>
<rect x="358.5" y="414.8" width="2.2" height="2.2" fill="#d2d2d2"/>
<rect x="360.2" y="410.9" width="2.2" height="2.2" fill="#d2d2d2"/>
<rect x="361.9" y="411.7" width="2.2" height="2.2" fill="#d2d2d2"/>
<rect x="363.6" y="407.4" width="2.2" height="2.2" fill="#d2d2d2"/>
<rect x="365.3" y="412.8" width="2.2" height="2.2" fill="#d2d2d2"/>
<rect x="367.0" y="411.1" width="2.2" height="2.2" fill="#d2d2d2"/>
<rect x="368.7" y="412.6" width="2.2" height="2.2" fill="#d2d2d2"/>
<rect x="370.4" y="414.1" width="2.2" height="2.2" fill="#d2d2d2"/>
<rect x="372.1" y="411.2" width="2.2" height="2.2" fill="#d2d2d2"/>
<rect x="373.8" y="410.7" width="2.2" height="2.2" fill="#d2d2d2"/>
<rect x="375.5" y="410.2" width="2.2" height="2.2" fill="#d2d2d2"/>
<rect x="377.2" y="409.7" width="2.2" height="2.2" fill="#d2d2d2"/>
<rect x="378.9" y="409.6" width="2.2" height="2.2" fill="#d2d2d2"/>
<rect x="380.6" y="410.8" width="2.2" height="2.2" fill="#d2d2d2"/>
<rect x="382.3" y="409.8" width="2.2" height="2.2" fill="#d2d2d2"/>
<rect x="384.0" y="409.3" width="2.2" height="2.2" fill="#d2d2d2"/>
<rect x="385.7" y="408.3" width="2.2" height="2.2" fill="#d2d2d2"/>
<rect x="387.4" y="409.4" width="2.2" height="2.2" fill="#d2d2d2"/>
<rect x="389.1" y="408.3" width="2.2" height="2.2" fill="#d2d2d2"/>
<rect x="390.8" y="406.9" width="2.2" height="2.2" fill="#d2d2d2"/>
<rect x="392.5" y="407.7" width="2.2" height="2.2" fill="#d2d2d2"/>
<rect x="394.2" y="406.5" width="2.2" height="2.2" fill="#d2d2d2"/>
<rect x="395.9" y="405.4" width="2.2" height="2.2" fill="#d2d2d2"/>
<rect x="397.6" y="409.3" width="2.2" height="2.2" fill="#d2d2d2"/>
<rect x="399.3" y="408.3" width="2.2" height="2.2" fill="#d2d2d2"/>
<rect x="401.0" y="407.4" width="2.2" height="2.2" fill="#d2d2d2"/>
<rect x="402.7" y="411.2" width="2.2" height="2.2" fill="#d2d2d2"/>
<rect x="404.4" y="410.8" width="2.2" height="2.2" fill="#d2d2d2"/>
<rect x="406.1" y="409.6" width="2.2" height="2.2" fill="#d2d2d2"/>
<rect x="407.8" y="415.0" width="2.2" height="2.2" fill="#d2d2d2"/>
<rect x="409.5" y="414.6" width="2.2" height="2.2" fill="#d2d2d2"/>
<rect x="411.2" y="415.9" width="2.2" height="2.2" fill="#d2d2d2"/>
<rect x="412.9" y="416.0" width="2.2" height="2.2" fill="#d2d2d2"/>
<rect x="414.6" y="416.4" width="2.2" height="2.2" fill="#d2d2d2"/>
<rect x="416.3" y="414.9" width="2.2" height="2.2" fill="#d2d2d2"/>
<rect x="418.0" y="418.8" width="2.2" height="2.2" fill="#d2d2d2"/>
<rect x="419.7" y="417.9" width="2.2" height="2.2" fill="#d2d2d2"/>
<rect x="421.4" y="417.6" width="2.2" height="2.2" fill="#d2d2d2"/>
<rect x="423.1" y="418.5" width="2.2" height="2.2" fill="#d2d2d2"/>
<rect x="424.8" y="418.1" width="2.2" height="2.2" fill="#d2d2d2"/>
<rect x="426.5" y="418.6" width="2.2" height="2.2" fill="#d2d2d2"/>
<rect x="428.2" y="417.1" width="2.2" height="2.2" fill="#d2d2d2"/>
<rect x="429.9" y="417.2" width="2.2" height="2.2" fill="#d2d2d2"/>
<rect x="431.6" y="414.0" width="2.2" height="2.2" fill="#d2d2d2"/>
<rect x="433.3" y="416.0" width="2.2" height="2.2" fill="#d2d2d2"/>
<rect x="435.0" y="417.0" width="2.2" height="2.2" fill="#d2d2d2"/>
<rect x="436.7" y="417.4" width="2.2" height="2.2" fill="#d2d2d2"/>
<rect x="438.4" y="414.9" width="2.2" height="2.2" fill="#d2d2d2"/>
<rect x="440.1" y="414.9" width="2.2" height="2.2" fill="#d2d2d2"/>
<rect x="441.8" y="416.7" width="2.2" height="2.2" fill="#d2d2d2"/>
<rect x="443.5" y="414.0" width="2.2" height="2.2" fill="#d2d2d2"/>
<rect x="445.2" y="415.3" width="2.2" height="2.2" fill="#d2d2d2"/>
<rect x="446.9" y="416.5" width="2.2" height="2.2" fill="#d2d2d2"/>
<rect x="448.6" y="414.4" width="2.2" height="2.2" fill="#d2d2d2"/>
<rect x="450.3" y="416.0" width="2.2" height="2.2" fill="#d2d2d2"/>
<rect x="452.0" y="413.6" width="2.2" height="2.2" fill="#d2d2d2"/>
<rect x="453.7" y="415.1" width="2.2" height="2.2" fill="#d2d2d2"/>
<rect x="455.4" y="414.9" width="2.2" height="2.2" fill="#d2d2d2"/>
<rect x="457.1" y="415.4" width="2.2" height="2.2" fill="#d2d2d2"/>
<rect x="458.8" y="416.9" width="2.2" height="2.2" fill="#d2d2d2"/>
<rect x="460.5" y="418.4" width="2.2" height="2.2" fill="#d2d2d2"/>
<rect x="462.2" y="414.3" width="2.2" height="2.2" fill="#d2d2d2"/>
<rect x="463.9" y="413.8" width="2.2" height="2.2" fill="#d2d2d2"/>
<rect x="465.6" y="414.0" width="2.2" height="2.2" fill="#d2d2d2"/>
<rect x="467.3" y="411.2" width="2.2" height="2.2" fill="#d2d2d2"/>
<rect x="469.0" y="411.2" width="2.2" height="2.2" fill="#d2d2d2"/>
<rect x="470.7" y="408.7" width="2.2" height="2.2" fill="#d2d2d2"/>
<rect x="472.4" y="406.2" width="2.2" height="2.2" fill="#d2d2d2"/>
<rect x="474.1" y="404.5" width="2.2" height="2.2" fill="#d2d2d2"/>
<rect x="475.8" y="399.3" width="2.2" height="2.2" fill="#d2d2d2"/>
<rect x="477.5" y="400.7" width="2.2" height="2.2" fill="#d2d2d2"/>
<rect x="479.2" y="397.4" width="2.2" height="2.2" fill="#d2d2d2"/>
<rect x="480.9" y="399.3" width="2.2" height="2.2" fill="#d2d2d2"/>
<rect x="482.6" y="402.0" width="2.2" height="2.2" fill="#d2d2d2"/>
<rect x="484.3" y="403.9" width="2.2" height="2.2" fill="#d2d2d2"/>
<rect x="486.0" y="409.6" width="2.2" height="2.2" fill="#d2d2d2"/>
<rect x="487.7" y="412.9" width="2.2" height="2.2" fill="#d2d2d2"/>
<rect x="489.4" y="414.4" width="2.2" height="2.2" fill="#d2d2d2"/>
<rect x="491.1" y="419.7" width="2.2" height="2.2" fill="#d2d2d2"/>
<rect x="492.8" y="424.5" width="2.2" height="2.2" fill="#d2d2d2"/>
<rect x="494.5" y="425.3" width="2.2" height="2.2" fill="#d2d2d2"/>
<rect x="496.2" y="426.9" width="2.2" height="2.2" fill="#d2d2d2"/>
<rect x="497.9" y="430.0" width="2.2" height="2.2" fill="#d2d2d2"/>
<rect x="499.6" y="430.1" width="2.2" height="2.2" fill="#d2d2d2"/>
<rect x="501.3" y="428.6" width="2.2" height="2.2" fill="#d2d2d2"/>
<rect x="503.0" y="434.4" width="2.2" height="2.2" fill="#d2d2d2"/>
<rect x="504.7" y="434.7" width="2.2" height="2.2" fill="#d2d2d2"/>
<rect x="506.4" y="429.5" width="2.2" height="2.2" fill="#d2d2d2"/>
<rect x="508.1" y="432.5" width="2.2" height="2.2" fill="#d2d2d2"/>
<rect x="509.8" y="433.4" width="2.2" height="2.2" fill="#d2d2d2"/>
<rect x="511.5" y="434.5" width="2.2" height="2.2" fill="#d2d2d2"/>
<rect x="513.2" y="434.2" width="2.2" height="2.2" fill="#d2d2d2"/>
<rect x="514.9" y="433.2" width="2.2" height="2.2" fill="#d2d2d2"/>
<rect x="516.6" y="432.4" width="2.2" height="2.2" fill="#d2d2d2"/>
<rect x="518.3" y="434.0" width="2.2" height="2.2" fill="#d2d2d2"/>
<rect x="520.0" y="435.4" width="2.2" height="2.2" fill="#d2d2d2"/>
<rect x="521.7" y="432.9" width="2.2" height="2.2" fill="#d2d2d2"/>
<rect x="523.4" y="433.0" width="2.2" height="2.2" fill="#d2d2d2"/>
<rect x="525.1" y="434.5" width="2.2" height="2.2" fill="#d2d2d2"/>
<rect x="526.8" y="432.1" width="2.2" height="2.2" fill="#d2d2d2"/>
<rect x="528.5" y="434.4" width="2.2" height="2.2" fill="#d2d2d2"/>
<rect x="530.2" y="434.2" width="2.2" height="2.2" fill="#d2d2d2"/>
<rect x="531.9" y="435.5" width="2.2" height="2.2" fill="#d2d2d2"/>
<rect x="533.6" y="434.1" width="2.2" height="2.2" fill="#d2d2d2"/>
<rect x="535.3" y="433.9" width="2.2" height="2.2" fill="#d2d2d2"/>
<rect x="537.0" y="434.6" width="2.2" height="2.2" fill="#d2d2d2"/>
<rect x="538.7" y="435.1" width="2.2" height="2.2" fill="#d2d2d2"/>
<path d="M337.0 418.3L338.0 418.3L339.0 418.2L340.0 418.2L341.0 418.2L342.0 418.1L343.0 418.0L344.0 418.0L345.0 417.9L346.0 417.8L347.0 417.7L348.0 417.6L349.0 417.5L350.0 417.3L351.0 417.2L352.0 417.0L353.0 416.9L354.0 416.7L355.0 416.6L356.0 416.4L357.0 416.2L358.0 416.0L359.0 415.9L360.0 415.7L361.0 415.6L362.0 415.5L363.0 415.4L364.0 415.3L365.0 415.2L366.0 415.2L367.0 415.2L368.0 415.2L369.0 415.2L370.0 415.3L371.0 415.4L372.0 415.6L373.0 415.7L374.0 415.9L375.0 416.1L376.0 416.3L377.0 416.5L378.0 416.8L379.0 417.0L380.0 417.2L381.0 417.5L382.0 417.7L383.0 417.9L384.0 418.2L385.0 418.4L386.0 418.6L387.0 418.8L388.0 419.0L389.0 419.2L390.0 419.4L391.0 419.6L392.0 419.7L393.0 419.9L394.0 420.0L395.0 420.2L396.0 420.4L397.0 420.5L398.0 420.7" fill="none" stroke="#f5862a" stroke-width="2.20" stroke-linejoin="round"/>
<path d="M353.0 418.6L354.0 418.6L355.0 418.6L356.0 418.6L357.0 418.6L358.0 418.6L359.0 418.6L360.0 418.6L361.0 418.6L362.0 418.6L363.0 418.5L364.0 418.5L365.0 418.5L366.0 418.4L367.0 418.3L368.0 418.2L369.0 418.1L370.0 418.0L371.0 417.9L372.0 417.7L373.0 417.6L374.0 417.4L375.0 417.1L376.0 416.9L377.0 416.6L378.0 416.3L379.0 415.9L380.0 415.6L381.0 415.2L382.0 414.8L383.0 414.3L384.0 413.9L385.0 413.4L386.0 412.9L387.0 412.5L388.0 412.0L389.0 411.6L390.0 411.2L391.0 410.8L392.0 410.5L393.0 410.2L394.0 410.0L395.0 409.9L396.0 409.9L397.0 410.0L398.0 410.2L399.0 410.4L400.0 410.8L401.0 411.2L402.0 411.7L403.0 412.3L404.0 412.9L405.0 413.5L406.0 414.2L407.0 414.9L408.0 415.6L409.0 416.3L410.0 416.9L411.0 417.6L412.0 418.3L413.0 418.9L414.0 419.5L415.0 420.1L416.0 420.7L417.0 421.2L418.0 421.6L419.0 422.1L420.0 422.5L421.0 422.9L422.0 423.2L423.0 423.5L424.0 423.8L425.0 424.0L426.0 424.3L427.0 424.5L428.0 424.7L429.0 424.8L430.0 425.0L431.0 425.1L432.0 425.3L433.0 425.4L434.0 425.5L435.0 425.6L436.0 425.7L437.0 425.8L438.0 425.9L439.0 426.0L440.0 426.1L441.0 426.2" fill="none" stroke="#4a72d8" stroke-width="2.20" stroke-linejoin="round"/>
<path d="M406.0 421.9L407.0 422.0L408.0 422.2L409.0 422.3L410.0 422.4L411.0 422.5L412.0 422.5L413.0 422.6L414.0 422.7L415.0 422.7L416.0 422.8L417.0 422.8L418.0 422.8L419.0 422.7L420.0 422.7L421.0 422.6L422.0 422.5L423.0 422.4L424.0 422.2L425.0 422.1L426.0 421.9L427.0 421.7L428.0 421.5L429.0 421.3L430.0 421.1L431.0 420.8L432.0 420.6L433.0 420.3L434.0 420.1L435.0 419.8L436.0 419.6L437.0 419.4L438.0 419.1L439.0 418.9L440.0 418.7L441.0 418.5L442.0 418.4L443.0 418.2L444.0 418.1L445.0 418.1L446.0 418.0L447.0 418.0L448.0 418.0L449.0 418.1L450.0 418.2L451.0 418.3L452.0 418.5L453.0 418.7L454.0 418.9L455.0 419.2L456.0 419.5L457.0 419.9L458.0 420.3L459.0 420.7L460.0 421.2L461.0 421.6L462.0 422.1L463.0 422.6L464.0 423.1L465.0 423.7L466.0 424.2L467.0 424.7L468.0 425.3L469.0 425.8L470.0 426.4L471.0 426.9L472.0 427.4L473.0 427.9L474.0 428.4L475.0 428.9L476.0 429.3L477.0 429.8L478.0 430.2L479.0 430.6L480.0 431.0L481.0 431.4L482.0 431.7L483.0 432.1L484.0 432.4L485.0 432.7L486.0 433.0L487.0 433.2L488.0 433.5L489.0 433.7L490.0 434.0L491.0 434.2L492.0 434.4L493.0 434.6" fill="none" stroke="#f0bc10" stroke-width="2.20" stroke-linejoin="round"/>
<path d="M420.0 424.3L421.0 424.4L422.0 424.5L423.0 424.6L424.0 424.7L425.0 424.8L426.0 424.9L427.0 425.0L428.0 425.1L429.0 425.2L430.0 425.2L431.0 425.3L432.0 425.4L433.0 425.4L434.0 425.5L435.0 425.5L436.0 425.6L437.0 425.7L438.0 425.7L439.0 425.8L440.0 425.8L441.0 425.9L442.0 425.9L443.0 425.9L444.0 426.0L445.0 426.0L446.0 426.1L447.0 426.1L448.0 426.2L449.0 426.2L450.0 426.2L451.0 426.3L452.0 426.3L453.0 426.3L454.0 426.3L455.0 426.3L456.0 426.3L457.0 426.2L458.0 426.1L459.0 425.9L460.0 425.7L461.0 425.4L462.0 425.1L463.0 424.6L464.0 424.0L465.0 423.3L466.0 422.5L467.0 421.5L468.0 420.3L469.0 419.1L470.0 417.6L471.0 416.1L472.0 414.5L473.0 412.8L474.0 411.1L475.0 409.4L476.0 407.8L477.0 406.4L478.0 405.2L479.0 404.4L480.0 403.9L481.0 403.9L482.0 404.3L483.0 405.2L484.0 406.5L485.0 408.0L486.0 409.9L487.0 411.8L488.0 413.9L489.0 416.0L490.0 418.1L491.0 420.0L492.0 421.9L493.0 423.7L494.0 425.3L495.0 426.7L496.0 428.0L497.0 429.2L498.0 430.2L499.0 431.1L500.0 431.8L501.0 432.4L502.0 433.0L503.0 433.4L504.0 433.8L505.0 434.1L506.0 434.4L507.0 434.7L508.0 434.9L509.0 435.1L510.0 435.3L511.0 435.5L512.0 435.6L513.0 435.8L514.0 435.9L515.0 436.0L516.0 436.1L517.0 436.3L518.0 436.4L519.0 436.5L520.0 436.6L521.0 436.7L522.0 436.7L523.0 436.8L524.0 436.9L525.0 437.0L526.0 437.1L527.0 437.1L528.0 437.2L529.0 437.2L530.0 437.3L531.0 437.4L532.0 437.4L533.0 437.4L534.0 437.5L535.0 437.5L536.0 437.6L537.0 437.6L538.0 437.6L539.0 437.6L540.0 437.7L541.0 437.7" fill="none" stroke="#f03038" stroke-width="2.20" stroke-linejoin="round"/>
<path d="M303.0 418.8L304.0 418.8L305.0 418.8L306.0 418.8L307.0 418.8L308.0 418.8L309.0 418.8L310.0 418.8L311.0 418.8L312.0 418.8L313.0 418.8L314.0 418.8L315.0 418.8L316.0 418.8L317.0 418.8L318.0 418.8L319.0 418.8L320.0 418.8L321.0 418.9L322.0 418.9L323.0 418.9L324.0 418.9L325.0 418.9L326.0 418.9L327.0 418.9L328.0 418.9L329.0 419.0L330.0 419.0L331.0 419.0L332.0 419.0L333.0 419.0L334.0 419.0L335.0 419.1L336.0 419.1L337.0 419.1L338.0 419.1L339.0 419.1L340.0 419.2L341.0 419.2L342.0 419.2L343.0 419.2L344.0 419.2L345.0 419.3L346.0 419.3L347.0 419.3L348.0 419.3L349.0 419.3L350.0 419.4L351.0 419.4L352.0 419.4L353.0 419.4L354.0 419.4L355.0 419.5L356.0 419.5L357.0 419.5L358.0 419.5L359.0 419.6L360.0 419.6L361.0 419.6L362.0 419.6L363.0 419.7L364.0 419.7L365.0 419.7L366.0 419.7L367.0 419.8L368.0 419.8L369.0 419.8L370.0 419.9L371.0 419.9L372.0 419.9L373.0 420.0L374.0 420.0L375.0 420.0L376.0 420.1L377.0 420.1L378.0 420.2L379.0 420.2L380.0 420.3L381.0 420.3L382.0 420.4L383.0 420.4L384.0 420.5L385.0 420.5L386.0 420.6L387.0 420.6L388.0 420.7L389.0 420.7L390.0 420.8L391.0 420.9L392.0 420.9L393.0 421.0L394.0 421.1L395.0 421.2L396.0 421.3L397.0 421.4L398.0 421.5L399.0 421.6L400.0 421.8L401.0 421.9L402.0 422.1L403.0 422.2L404.0 422.4L405.0 422.6L406.0 422.7L407.0 422.9L408.0 423.1L409.0 423.3L410.0 423.4L411.0 423.6L412.0 423.8L413.0 424.0L414.0 424.1L415.0 424.3L416.0 424.5L417.0 424.6L418.0 424.8L419.0 424.9L420.0 425.1L421.0 425.2L422.0 425.3L423.0 425.5L424.0 425.6L425.0 425.7L426.0 425.8L427.0 425.9L428.0 426.0L429.0 426.1L430.0 426.2L431.0 426.2L432.0 426.3L433.0 426.4L434.0 426.5L435.0 426.6L436.0 426.6L437.0 426.7L438.0 426.8L439.0 426.9L440.0 427.0L441.0 427.0L442.0 427.1L443.0 427.2L444.0 427.3L445.0 427.4L446.0 427.5L447.0 427.6L448.0 427.7L449.0 427.8L450.0 427.9L451.0 428.0L452.0 428.1L453.0 428.2L454.0 428.3L455.0 428.5L456.0 428.6L457.0 428.8L458.0 429.0L459.0 429.1L460.0 429.3L461.0 429.5L462.0 429.7L463.0 429.9L464.0 430.1L465.0 430.3L466.0 430.5L467.0 430.7L468.0 430.9L469.0 431.1L470.0 431.3L471.0 431.5L472.0 431.8L473.0 432.0L474.0 432.2L475.0 432.4L476.0 432.6L477.0 432.8L478.0 433.0L479.0 433.2L480.0 433.4L481.0 433.5L482.0 433.7L483.0 433.9L484.0 434.0L485.0 434.2L486.0 434.4L487.0 434.5L488.0 434.7L489.0 434.9L490.0 435.0L491.0 435.2L492.0 435.3L493.0 435.5L494.0 435.6L495.0 435.8L496.0 435.9L497.0 436.0L498.0 436.1L499.0 436.2L500.0 436.3L501.0 436.4L502.0 436.5L503.0 436.6L504.0 436.6L505.0 436.7L506.0 436.8L507.0 436.9L508.0 436.9L509.0 437.0L510.0 437.1L511.0 437.2L512.0 437.2L513.0 437.3L514.0 437.4L515.0 437.5L516.0 437.5L517.0 437.6L518.0 437.7L519.0 437.7L520.0 437.8L521.0 437.8L522.0 437.9L523.0 437.9L524.0 438.0L525.0 438.1L526.0 438.1L527.0 438.1L528.0 438.2L529.0 438.2L530.0 438.3L531.0 438.3L532.0 438.3L533.0 438.4L534.0 438.4L535.0 438.4L536.0 438.4L537.0 438.4L538.0 438.5L539.0 438.5L540.0 438.5L541.0 438.5" fill="none" stroke="#38a06a" stroke-width="2.00"/>
<path d="M303.0 417.6L304.0 417.6L305.0 417.6L306.0 417.6L307.0 417.6L308.0 417.6L309.0 417.6L310.0 417.6L311.0 417.6L312.0 417.6L313.0 417.6L314.0 417.6L315.0 417.6L316.0 417.6L317.0 417.6L318.0 417.6L319.0 417.6L320.0 417.6L321.0 417.6L322.0 417.6L323.0 417.6L324.0 417.6L325.0 417.6L326.0 417.7L327.0 417.7L328.0 417.7L329.0 417.7L330.0 417.7L331.0 417.6L332.0 417.6L333.0 417.6L334.0 417.6L335.0 417.6L336.0 417.6L337.0 417.6L338.0 417.5L339.0 417.5L340.0 417.5L341.0 417.4L342.0 417.3L343.0 417.3L344.0 417.2L345.0 417.1L346.0 417.0L347.0 416.9L348.0 416.8L349.0 416.6L350.0 416.5L351.0 416.3L352.0 416.2L353.0 416.0L354.0 415.8L355.0 415.6L356.0 415.4L357.0 415.3L358.0 415.1L359.0 414.9L360.0 414.7L361.0 414.5L362.0 414.3L363.0 414.2L364.0 414.0L365.0 413.9L366.0 413.7L367.0 413.6L368.0 413.5L369.0 413.5L370.0 413.4L371.0 413.3L372.0 413.3L373.0 413.2L374.0 413.2L375.0 413.1L376.0 413.0L377.0 412.9L378.0 412.8L379.0 412.6L380.0 412.4L381.0 412.2L382.0 412.0L383.0 411.7L384.0 411.5L385.0 411.2L386.0 410.9L387.0 410.5L388.0 410.2L389.0 409.9L390.0 409.6L391.0 409.3L392.0 409.1L393.0 408.9L394.0 408.8L395.0 408.7L396.0 408.8L397.0 408.9L398.0 409.1L399.0 409.4L400.0 409.7L401.0 410.2L402.0 410.7L403.0 411.2L404.0 411.8L405.0 412.4L406.0 413.0L407.0 413.7L408.0 414.3L409.0 414.9L410.0 415.6L411.0 416.2L412.0 416.7L413.0 417.3L414.0 417.7L415.0 418.2L416.0 418.6L417.0 418.9L418.0 419.3L419.0 419.5L420.0 419.7L421.0 419.9L422.0 420.0L423.0 420.0L424.0 420.1L425.0 420.0L426.0 420.0L427.0 419.9L428.0 419.7L429.0 419.6L430.0 419.4L431.0 419.2L432.0 419.0L433.0 418.8L434.0 418.6L435.0 418.3L436.0 418.1L437.0 417.9L438.0 417.6L439.0 417.4L440.0 417.2L441.0 417.0L442.0 416.8L443.0 416.7L444.0 416.5L445.0 416.4L446.0 416.4L447.0 416.3L448.0 416.3L449.0 416.3L450.0 416.3L451.0 416.4L452.0 416.5L453.0 416.6L454.0 416.7L455.0 416.8L456.0 417.0L457.0 417.1L458.0 417.2L459.0 417.3L460.0 417.4L461.0 417.4L462.0 417.3L463.0 417.2L464.0 416.9L465.0 416.5L466.0 416.0L467.0 415.4L468.0 414.6L469.0 413.6L470.0 412.5L471.0 411.3L472.0 410.0L473.0 408.6L474.0 407.2L475.0 405.8L476.0 404.4L477.0 403.3L478.0 402.3L479.0 401.7L480.0 401.5L481.0 401.6L482.0 402.3L483.0 403.3L484.0 404.7L485.0 406.4L486.0 408.4L487.0 410.5L488.0 412.6L489.0 414.8L490.0 416.9L491.0 419.0L492.0 420.9L493.0 422.8L494.0 424.4L495.0 425.9L496.0 427.3L497.0 428.4L498.0 429.5L499.0 430.4L500.0 431.1L501.0 431.8L502.0 432.3L503.0 432.8L504.0 433.2L505.0 433.5L506.0 433.8L507.0 434.1L508.0 434.3L509.0 434.5L510.0 434.7L511.0 434.9L512.0 435.1L513.0 435.2L514.0 435.3L515.0 435.5L516.0 435.6L517.0 435.7L518.0 435.8L519.0 435.9L520.0 436.0L521.0 436.1L522.0 436.2L523.0 436.3L524.0 436.4L525.0 436.4L526.0 436.5L527.0 436.6L528.0 436.6L529.0 436.7L530.0 436.8L531.0 436.8L532.0 436.9L533.0 436.9L534.0 436.9L535.0 437.0L536.0 437.0L537.0 437.0L538.0 437.1L539.0 437.1L540.0 437.1L541.0 437.1" fill="none" stroke="#000" stroke-width="2.10" stroke-dasharray="1.85 1.5"/>
<rect x="32.50" y="7.50" width="238.00" height="202.00" fill="none" stroke="#787878" stroke-width="1"/>
<rect x="303.50" y="7.50" width="238.00" height="202.00" fill="none" stroke="#787878" stroke-width="1"/>
<rect x="31.50" y="261.50" width="238.00" height="202.00" fill="none" stroke="#787878" stroke-width="1"/>
<rect x="302.50" y="261.50" width="239.00" height="202.00" fill="none" stroke="#787878" stroke-width="1"/>
<line x1="54.17" y1="209.50" x2="54.17" y2="207.70" stroke="#7c7c7c" stroke-width="1"/>
<line x1="97.51" y1="209.50" x2="97.51" y2="207.70" stroke="#7c7c7c" stroke-width="1"/>
<line x1="140.85" y1="209.50" x2="140.85" y2="207.70" stroke="#7c7c7c" stroke-width="1"/>
<line x1="184.19" y1="209.50" x2="184.19" y2="207.70" stroke="#7c7c7c" stroke-width="1"/>
<line x1="227.53" y1="209.50" x2="227.53" y2="207.70" stroke="#7c7c7c" stroke-width="1"/>
<line x1="32.50" y1="209.50" x2="32.50" y2="205.90" stroke="#7c7c7c" stroke-width="1"/>
<text transform="translate(32.50 224.50) scale(0.870 1)" text-anchor="middle" style="font-family:'Liberation Serif',serif;font-weight:bold;font-size:14.20px" fill="#141414" stroke="#141414" stroke-width="0.22">292</text>
<line x1="75.84" y1="209.50" x2="75.84" y2="205.90" stroke="#7c7c7c" stroke-width="1"/>
<text transform="translate(75.84 224.50) scale(0.870 1)" text-anchor="middle" style="font-family:'Liberation Serif',serif;font-weight:bold;font-size:14.20px" fill="#141414" stroke="#141414" stroke-width="0.22">290</text>
<line x1="119.18" y1="209.50" x2="119.18" y2="205.90" stroke="#7c7c7c" stroke-width="1"/>
<text transform="translate(119.18 224.50) scale(0.870 1)" text-anchor="middle" style="font-family:'Liberation Serif',serif;font-weight:bold;font-size:14.20px" fill="#141414" stroke="#141414" stroke-width="0.22">288</text>
<line x1="162.52" y1="209.50" x2="162.52" y2="205.90" stroke="#7c7c7c" stroke-width="1"/>
<text transform="translate(162.52 224.50) scale(0.870 1)" text-anchor="middle" style="font-family:'Liberation Serif',serif;font-weight:bold;font-size:14.20px" fill="#141414" stroke="#141414" stroke-width="0.22">286</text>
<line x1="205.86" y1="209.50" x2="205.86" y2="205.90" stroke="#7c7c7c" stroke-width="1"/>
<text transform="translate(205.86 224.50) scale(0.870 1)" text-anchor="middle" style="font-family:'Liberation Serif',serif;font-weight:bold;font-size:14.20px" fill="#141414" stroke="#141414" stroke-width="0.22">284</text>
<line x1="249.20" y1="209.50" x2="249.20" y2="205.90" stroke="#7c7c7c" stroke-width="1"/>
<text transform="translate(249.20 224.50) scale(0.870 1)" text-anchor="middle" style="font-family:'Liberation Serif',serif;font-weight:bold;font-size:14.20px" fill="#141414" stroke="#141414" stroke-width="0.22">282</text>
<line x1="321.83" y1="209.50" x2="321.83" y2="207.70" stroke="#7c7c7c" stroke-width="1"/>
<line x1="358.49" y1="209.50" x2="358.49" y2="207.70" stroke="#7c7c7c" stroke-width="1"/>
<line x1="395.15" y1="209.50" x2="395.15" y2="207.70" stroke="#7c7c7c" stroke-width="1"/>
<line x1="431.81" y1="209.50" x2="431.81" y2="207.70" stroke="#7c7c7c" stroke-width="1"/>
<line x1="468.47" y1="209.50" x2="468.47" y2="207.70" stroke="#7c7c7c" stroke-width="1"/>
<line x1="505.13" y1="209.50" x2="505.13" y2="207.70" stroke="#7c7c7c" stroke-width="1"/>
<line x1="303.50" y1="209.50" x2="303.50" y2="205.90" stroke="#7c7c7c" stroke-width="1"/>
<text transform="translate(303.50 224.50) scale(0.870 1)" text-anchor="middle" style="font-family:'Liberation Serif',serif;font-weight:bold;font-size:14.20px" fill="#141414" stroke="#141414" stroke-width="0.22">540</text>
<line x1="340.16" y1="209.50" x2="340.16" y2="205.90" stroke="#7c7c7c" stroke-width="1"/>
<text transform="translate(340.16 224.50) scale(0.870 1)" text-anchor="middle" style="font-family:'Liberation Serif',serif;font-weight:bold;font-size:14.20px" fill="#141414" stroke="#141414" stroke-width="0.22">538</text>
<line x1="376.82" y1="209.50" x2="376.82" y2="205.90" stroke="#7c7c7c" stroke-width="1"/>
<text transform="translate(376.82 224.50) scale(0.870 1)" text-anchor="middle" style="font-family:'Liberation Serif',serif;font-weight:bold;font-size:14.20px" fill="#141414" stroke="#141414" stroke-width="0.22">536</text>
<line x1="413.48" y1="209.50" x2="413.48" y2="205.90" stroke="#7c7c7c" stroke-width="1"/>
<text transform="translate(413.48 224.50) scale(0.870 1)" text-anchor="middle" style="font-family:'Liberation Serif',serif;font-weight:bold;font-size:14.20px" fill="#141414" stroke="#141414" stroke-width="0.22">534</text>
<line x1="450.14" y1="209.50" x2="450.14" y2="205.90" stroke="#7c7c7c" stroke-width="1"/>
<text transform="translate(450.14 224.50) scale(0.870 1)" text-anchor="middle" style="font-family:'Liberation Serif',serif;font-weight:bold;font-size:14.20px" fill="#141414" stroke="#141414" stroke-width="0.22">532</text>
<line x1="486.80" y1="209.50" x2="486.80" y2="205.90" stroke="#7c7c7c" stroke-width="1"/>
<text transform="translate(486.80 224.50) scale(0.870 1)" text-anchor="middle" style="font-family:'Liberation Serif',serif;font-weight:bold;font-size:14.20px" fill="#141414" stroke="#141414" stroke-width="0.22">530</text>
<line x1="523.46" y1="209.50" x2="523.46" y2="205.90" stroke="#7c7c7c" stroke-width="1"/>
<text transform="translate(523.46 224.50) scale(0.870 1)" text-anchor="middle" style="font-family:'Liberation Serif',serif;font-weight:bold;font-size:14.20px" fill="#141414" stroke="#141414" stroke-width="0.22">528</text>
<line x1="61.25" y1="463.50" x2="61.25" y2="461.70" stroke="#7c7c7c" stroke-width="1"/>
<line x1="120.75" y1="463.50" x2="120.75" y2="461.70" stroke="#7c7c7c" stroke-width="1"/>
<line x1="180.25" y1="463.50" x2="180.25" y2="461.70" stroke="#7c7c7c" stroke-width="1"/>
<line x1="239.75" y1="463.50" x2="239.75" y2="461.70" stroke="#7c7c7c" stroke-width="1"/>
<line x1="31.50" y1="463.50" x2="31.50" y2="459.90" stroke="#7c7c7c" stroke-width="1"/>
<text transform="translate(31.50 477.90) scale(0.870 1)" text-anchor="middle" style="font-family:'Liberation Serif',serif;font-weight:bold;font-size:14.20px" fill="#141414" stroke="#141414" stroke-width="0.22">890</text>
<line x1="91.00" y1="463.50" x2="91.00" y2="459.90" stroke="#7c7c7c" stroke-width="1"/>
<text transform="translate(91.00 477.90) scale(0.870 1)" text-anchor="middle" style="font-family:'Liberation Serif',serif;font-weight:bold;font-size:14.20px" fill="#141414" stroke="#141414" stroke-width="0.22">880</text>
<line x1="150.50" y1="463.50" x2="150.50" y2="459.90" stroke="#7c7c7c" stroke-width="1"/>
<text transform="translate(150.50 477.90) scale(0.870 1)" text-anchor="middle" style="font-family:'Liberation Serif',serif;font-weight:bold;font-size:14.20px" fill="#141414" stroke="#141414" stroke-width="0.22">870</text>
<line x1="210.00" y1="463.50" x2="210.00" y2="459.90" stroke="#7c7c7c" stroke-width="1"/>
<text transform="translate(210.00 477.90) scale(0.870 1)" text-anchor="middle" style="font-family:'Liberation Serif',serif;font-weight:bold;font-size:14.20px" fill="#141414" stroke="#141414" stroke-width="0.22">860</text>
<line x1="269.50" y1="463.50" x2="269.50" y2="459.90" stroke="#7c7c7c" stroke-width="1"/>
<text transform="translate(269.50 477.90) scale(0.870 1)" text-anchor="middle" style="font-family:'Liberation Serif',serif;font-weight:bold;font-size:14.20px" fill="#141414" stroke="#141414" stroke-width="0.22">850</text>
<line x1="318.43" y1="463.50" x2="318.43" y2="461.70" stroke="#7c7c7c" stroke-width="1"/>
<line x1="350.28" y1="463.50" x2="350.28" y2="461.70" stroke="#7c7c7c" stroke-width="1"/>
<line x1="382.14" y1="463.50" x2="382.14" y2="461.70" stroke="#7c7c7c" stroke-width="1"/>
<line x1="413.99" y1="463.50" x2="413.99" y2="461.70" stroke="#7c7c7c" stroke-width="1"/>
<line x1="445.85" y1="463.50" x2="445.85" y2="461.70" stroke="#7c7c7c" stroke-width="1"/>
<line x1="477.70" y1="463.50" x2="477.70" y2="461.70" stroke="#7c7c7c" stroke-width="1"/>
<line x1="509.56" y1="463.50" x2="509.56" y2="461.70" stroke="#7c7c7c" stroke-width="1"/>
<line x1="302.50" y1="463.50" x2="302.50" y2="459.90" stroke="#7c7c7c" stroke-width="1"/>
<text transform="translate(302.50 477.90) scale(0.870 1)" text-anchor="middle" style="font-family:'Liberation Serif',serif;font-weight:bold;font-size:14.20px" fill="#141414" stroke="#141414" stroke-width="0.22">740</text>
<line x1="334.36" y1="463.50" x2="334.36" y2="459.90" stroke="#7c7c7c" stroke-width="1"/>
<text transform="translate(334.36 477.90) scale(0.870 1)" text-anchor="middle" style="font-family:'Liberation Serif',serif;font-weight:bold;font-size:14.20px" fill="#141414" stroke="#141414" stroke-width="0.22">735</text>
<line x1="366.21" y1="463.50" x2="366.21" y2="459.90" stroke="#7c7c7c" stroke-width="1"/>
<text transform="translate(366.21 477.90) scale(0.870 1)" text-anchor="middle" style="font-family:'Liberation Serif',serif;font-weight:bold;font-size:14.20px" fill="#141414" stroke="#141414" stroke-width="0.22">730</text>
<line x1="398.06" y1="463.50" x2="398.06" y2="459.90" stroke="#7c7c7c" stroke-width="1"/>
<text transform="translate(398.06 477.90) scale(0.870 1)" text-anchor="middle" style="font-family:'Liberation Serif',serif;font-weight:bold;font-size:14.20px" fill="#141414" stroke="#141414" stroke-width="0.22">725</text>
<line x1="429.92" y1="463.50" x2="429.92" y2="459.90" stroke="#7c7c7c" stroke-width="1"/>
<text transform="translate(429.92 477.90) scale(0.870 1)" text-anchor="middle" style="font-family:'Liberation Serif',serif;font-weight:bold;font-size:14.20px" fill="#141414" stroke="#141414" stroke-width="0.22">720</text>
<line x1="461.77" y1="463.50" x2="461.77" y2="459.90" stroke="#7c7c7c" stroke-width="1"/>
<text transform="translate(461.77 477.90) scale(0.870 1)" text-anchor="middle" style="font-family:'Liberation Serif',serif;font-weight:bold;font-size:14.20px" fill="#141414" stroke="#141414" stroke-width="0.22">715</text>
<line x1="493.63" y1="463.50" x2="493.63" y2="459.90" stroke="#7c7c7c" stroke-width="1"/>
<text transform="translate(493.63 477.90) scale(0.870 1)" text-anchor="middle" style="font-family:'Liberation Serif',serif;font-weight:bold;font-size:14.20px" fill="#141414" stroke="#141414" stroke-width="0.22">710</text>
<line x1="525.49" y1="463.50" x2="525.49" y2="459.90" stroke="#7c7c7c" stroke-width="1"/>
<text transform="translate(525.49 477.90) scale(0.870 1)" text-anchor="middle" style="font-family:'Liberation Serif',serif;font-weight:bold;font-size:14.20px" fill="#141414" stroke="#141414" stroke-width="0.22">705</text>
<text transform="translate(151.80 249.80) scale(0.925 1)" text-anchor="middle" style="font-family:'Liberation Serif',serif;font-weight:bold;font-size:17.60px" fill="#111" stroke="#111" stroke-width="0.22">Binding Energy (eV)</text>
<text transform="translate(422.60 249.80) scale(0.925 1)" text-anchor="middle" style="font-family:'Liberation Serif',serif;font-weight:bold;font-size:17.60px" fill="#111" stroke="#111" stroke-width="0.22">Binding Energy (eV)</text>
<text transform="translate(151.50 503.00) scale(0.925 1)" text-anchor="middle" style="font-family:'Liberation Serif',serif;font-weight:bold;font-size:17.60px" fill="#111" stroke="#111" stroke-width="0.22">Binding Energy (eV)</text>
<text transform="translate(422.90 503.00) scale(0.925 1)" text-anchor="middle" style="font-family:'Liberation Serif',serif;font-weight:bold;font-size:17.60px" fill="#111" stroke="#111" stroke-width="0.22">Binding Energy (eV)</text>
<text transform="translate(19.10 103.60) rotate(-90) scale(1 0.940)" text-anchor="middle" style="font-family:'Liberation Serif',serif;font-weight:bold;font-size:17.5px" fill="#111" stroke="#111" stroke-width="0.25">Intensity (a.u.)</text>
<text transform="translate(17.90 357.20) rotate(-90) scale(1 0.940)" text-anchor="middle" style="font-family:'Liberation Serif',serif;font-weight:bold;font-size:17.5px" fill="#111" stroke="#111" stroke-width="0.25">Intensity (a.u.)</text>
<text transform="translate(289.70 103.40) rotate(-90) scale(1 0.940)" text-anchor="middle" style="font-family:'Liberation Serif',serif;font-weight:bold;font-size:17.5px" fill="#111" stroke="#111" stroke-width="0.25">Intensity (a.u.)</text>
<text transform="translate(289.90 357.00) rotate(-90) scale(1 0.940)" text-anchor="middle" style="font-family:'Liberation Serif',serif;font-weight:bold;font-size:17.5px" fill="#111" stroke="#111" stroke-width="0.25">Intensity (a.u.)</text>
<text transform="translate(46.00 42.00) scale(1.000 1)" text-anchor="start" style="font-family:'Liberation Serif',serif;font-weight:bold;font-size:36.50px" fill="#000" stroke="#000" stroke-width="0.22">a</text>
<text transform="translate(316.00 36.50) scale(0.970 1)" text-anchor="start" style="font-family:'Liberation Serif',serif;font-weight:bold;font-size:37.00px" fill="#000" stroke="#000" stroke-width="0.22">b</text>
<text transform="translate(45.00 289.60) scale(0.940 1)" text-anchor="start" style="font-family:'Liberation Serif',serif;font-weight:bold;font-size:40.00px" fill="#000" stroke="#000" stroke-width="0.22">c</text>
<text transform="translate(315.40 290.20) scale(0.970 1)" text-anchor="start" style="font-family:'Liberation Serif',serif;font-weight:bold;font-size:37.00px" fill="#000" stroke="#000" stroke-width="0.22">d</text>
<text transform="translate(266.40 21.50) scale(0.940 1)" text-anchor="end" style="font-family:'Liberation Serif',serif;font-weight:bold;font-size:11.00px" fill="#2418d8" stroke="#2418d8" stroke-width="0.22">C 1s</text>
<text transform="translate(535.40 21.70) scale(0.940 1)" text-anchor="end" style="font-family:'Liberation Serif',serif;font-weight:bold;font-size:11.00px" fill="#2418d8" stroke="#2418d8" stroke-width="0.22">O 1s</text>
<text transform="translate(262.30 274.40) scale(0.940 1)" text-anchor="end" style="font-family:'Liberation Serif',serif;font-weight:bold;font-size:10.30px" fill="#2418d8" stroke="#2418d8" stroke-width="0.22">Ni 2p</text>
<text transform="translate(539.20 273.60) scale(0.940 1)" text-anchor="end" style="font-family:'Liberation Serif',serif;font-weight:bold;font-size:10.30px" fill="#2418d8" stroke="#2418d8" stroke-width="0.22">Fe 2p</text>
<text transform="translate(48.20 93.50) scale(0.940 1)" text-anchor="start" style="font-family:'Liberation Serif',serif;font-weight:bold;font-size:9.40px" fill="#1c1c1c" stroke="#1c1c1c" stroke-width="0.22">NiFe-MOF-12</text>
<text transform="translate(46.50 147.20) scale(0.940 1)" text-anchor="start" style="font-family:'Liberation Serif',serif;font-weight:bold;font-size:9.40px" fill="#1c1c1c" stroke="#1c1c1c" stroke-width="0.22">NiFe-MOF-8</text>
<text transform="translate(46.90 197.20) scale(0.940 1)" text-anchor="start" style="font-family:'Liberation Serif',serif;font-weight:bold;font-size:9.40px" fill="#1c1c1c" stroke="#1c1c1c" stroke-width="0.22">NiFe-MOF-4</text>
<text transform="translate(325.70 66.60) scale(0.940 1)" text-anchor="start" style="font-family:'Liberation Serif',serif;font-weight:bold;font-size:9.40px" fill="#1c1c1c" stroke="#1c1c1c" stroke-width="0.22">NiFe-MOF-12</text>
<text transform="translate(325.10 126.60) scale(0.940 1)" text-anchor="start" style="font-family:'Liberation Serif',serif;font-weight:bold;font-size:9.40px" fill="#1c1c1c" stroke="#1c1c1c" stroke-width="0.22">NiFe-MOF-8</text>
<text transform="translate(326.40 181.20) scale(0.940 1)" text-anchor="start" style="font-family:'Liberation Serif',serif;font-weight:bold;font-size:9.40px" fill="#1c1c1c" stroke="#1c1c1c" stroke-width="0.22">NiFe-MOF-4</text>
<text transform="translate(47.80 340.80) scale(0.940 1)" text-anchor="start" style="font-family:'Liberation Serif',serif;font-weight:bold;font-size:9.40px" fill="#1c1c1c" stroke="#1c1c1c" stroke-width="0.22">NiFe-MOF-12</text>
<text transform="translate(49.10 398.30) scale(0.940 1)" text-anchor="start" style="font-family:'Liberation Serif',serif;font-weight:bold;font-size:9.40px" fill="#1c1c1c" stroke="#1c1c1c" stroke-width="0.22">NiFe-MOF-8</text>
<text transform="translate(48.60 445.30) scale(0.940 1)" text-anchor="start" style="font-family:'Liberation Serif',serif;font-weight:bold;font-size:9.40px" fill="#1c1c1c" stroke="#1c1c1c" stroke-width="0.22">NiFe-MOF-4</text>
<text transform="translate(317.50 333.60) scale(0.940 1)" text-anchor="start" style="font-family:'Liberation Serif',serif;font-weight:bold;font-size:9.40px" fill="#1c1c1c" stroke="#1c1c1c" stroke-width="0.22">NiFe-MOF-12</text>
<text transform="translate(319.10 383.90) scale(0.940 1)" text-anchor="start" style="font-family:'Liberation Serif',serif;font-weight:bold;font-size:9.40px" fill="#1c1c1c" stroke="#1c1c1c" stroke-width="0.22">NiFe-MOF-8</text>
<text transform="translate(316.90 438.30) scale(0.940 1)" text-anchor="start" style="font-family:'Liberation Serif',serif;font-weight:bold;font-size:9.40px" fill="#1c1c1c" stroke="#1c1c1c" stroke-width="0.22">NiFe-MOF-4</text>
<text transform="translate(132.90 26.10) scale(0.940 1)" text-anchor="start" style="font-family:'Liberation Serif',serif;font-weight:bold;font-size:9.40px" fill="#1c1c1c" stroke="#1c1c1c" stroke-width="0.22">C-C bonding</text>
<text transform="translate(108.00 51.60) scale(0.940 1)" text-anchor="start" style="font-family:'Liberation Serif',serif;font-weight:bold;font-size:9.40px" fill="#1c1c1c" stroke="#1c1c1c" stroke-width="0.22">O-C=O</text>
<line x1="168.30" y1="29.80" x2="176.00" y2="37.60" stroke="#222" stroke-width="0.8"/>
<polygon points="176.00,37.60 171.91,36.02 174.47,33.49" fill="#111"/>
<line x1="119.50" y1="55.30" x2="111.00" y2="63.50" stroke="#222" stroke-width="0.8"/>
<polygon points="111.00,63.50 112.63,59.43 115.13,62.02" fill="#111"/>
<text transform="translate(415.70 52.00) scale(0.940 1)" text-anchor="start" style="font-family:'Liberation Serif',serif;font-weight:bold;font-size:9.40px" fill="#1c1c1c" stroke="#1c1c1c" stroke-width="0.22">C=O</text>
<line x1="434.30" y1="42.50" x2="446.60" y2="35.30" stroke="#222" stroke-width="0.8"/>
<polygon points="446.60,35.30 444.06,38.87 442.24,35.77" fill="#111"/>
<text transform="translate(115.20 291.10) scale(0.940 1)" style="font-family:'Liberation Serif',serif;font-weight:bold;font-size:9.10px" fill="#1c1c1c" stroke="#1c1c1c" stroke-width="0.22">Ni 2p<tspan dy="1.70" style="font-size:6.20px">1/2</tspan></text>
<text transform="translate(207.90 286.00) scale(0.940 1)" style="font-family:'Liberation Serif',serif;font-weight:bold;font-size:9.10px" fill="#1c1c1c" stroke="#1c1c1c" stroke-width="0.22">Ni 2p<tspan dy="1.70" style="font-size:6.20px">3/2</tspan></text>
<text transform="translate(57.40 312.90) scale(0.940 1)" text-anchor="start" style="font-family:'Liberation Serif',serif;font-weight:bold;font-size:8.20px" fill="#1c1c1c" stroke="#1c1c1c" stroke-width="0.22">sat.</text>
<text transform="translate(161.20 318.80) scale(0.940 1)" text-anchor="start" style="font-family:'Liberation Serif',serif;font-weight:bold;font-size:8.20px" fill="#1c1c1c" stroke="#1c1c1c" stroke-width="0.22">sat.</text>
<text transform="translate(94.00 308.10) scale(0.940 1)" style="font-family:'Liberation Serif',serif;font-weight:bold;font-size:8.40px" fill="#1c1c1c" stroke="#1c1c1c" stroke-width="0.22">Ni<tspan dy="-3.40" style="font-size:5.50px">3+</tspan></text>
<text transform="translate(190.30 307.90) scale(0.940 1)" style="font-family:'Liberation Serif',serif;font-weight:bold;font-size:8.40px" fill="#1c1c1c" stroke="#1c1c1c" stroke-width="0.22">Ni<tspan dy="-3.40" style="font-size:5.50px">3+</tspan></text>
<text transform="translate(134.80 316.20) scale(0.940 1)" style="font-family:'Liberation Serif',serif;font-weight:bold;font-size:8.40px" fill="#1c1c1c" stroke="#1c1c1c" stroke-width="0.22">Ni<tspan dy="-3.40" style="font-size:5.50px">2+</tspan></text>
<text transform="translate(241.10 305.30) scale(0.940 1)" style="font-family:'Liberation Serif',serif;font-weight:bold;font-size:8.40px" fill="#1c1c1c" stroke="#1c1c1c" stroke-width="0.22">Ni<tspan dy="-3.40" style="font-size:5.50px">2+</tspan></text>
<text transform="translate(387.50 286.90) scale(0.940 1)" style="font-family:'Liberation Serif',serif;font-weight:bold;font-size:8.20px" fill="#1c1c1c" stroke="#1c1c1c" stroke-width="0.22">Fe 2p<tspan dy="1.60" style="font-size:5.80px">1/2</tspan></text>
<text transform="translate(471.80 284.00) scale(0.940 1)" style="font-family:'Liberation Serif',serif;font-weight:bold;font-size:8.20px" fill="#1c1c1c" stroke="#1c1c1c" stroke-width="0.22">Fe 2p<tspan dy="1.60" style="font-size:5.80px">3/2</tspan></text>
<text transform="translate(351.20 307.90) scale(0.940 1)" text-anchor="start" style="font-family:'Liberation Serif',serif;font-weight:bold;font-size:7.60px" fill="#1c1c1c" stroke="#1c1c1c" stroke-width="0.22">sat.</text>
<text transform="translate(429.80 310.60) scale(0.940 1)" text-anchor="start" style="font-family:'Liberation Serif',serif;font-weight:bold;font-size:7.60px" fill="#1c1c1c" stroke="#1c1c1c" stroke-width="0.22">sat.</text>
<text transform="translate(374.40 305.30) scale(0.940 1)" style="font-family:'Liberation Serif',serif;font-weight:bold;font-size:7.80px" fill="#1c1c1c" stroke="#1c1c1c" stroke-width="0.22">Fe<tspan dy="-3.10" style="font-size:5.20px">3+</tspan></text>
<text transform="translate(406.40 305.80) scale(0.940 1)" style="font-family:'Liberation Serif',serif;font-weight:bold;font-size:7.80px" fill="#1c1c1c" stroke="#1c1c1c" stroke-width="0.22">Fe<tspan dy="-3.10" style="font-size:5.20px">2+</tspan></text>
<text transform="translate(456.50 306.10) scale(0.940 1)" style="font-family:'Liberation Serif',serif;font-weight:bold;font-size:7.80px" fill="#1c1c1c" stroke="#1c1c1c" stroke-width="0.22">Fe<tspan dy="-3.10" style="font-size:5.20px">3+</tspan></text>
<text transform="translate(494.60 305.30) scale(0.940 1)" style="font-family:'Liberation Serif',serif;font-weight:bold;font-size:7.80px" fill="#1c1c1c" stroke="#1c1c1c" stroke-width="0.22">Fe<tspan dy="-3.10" style="font-size:5.20px">2+</tspan></text>
<text transform="translate(356.50 409.70) scale(0.940 1)" text-anchor="start" style="font-family:'Liberation Serif',serif;font-weight:bold;font-size:7.60px" fill="#1c1c1c" stroke="#1c1c1c" stroke-width="0.22">sat.</text>
<text transform="translate(431.40 411.40) scale(0.940 1)" text-anchor="start" style="font-family:'Liberation Serif',serif;font-weight:bold;font-size:7.60px" fill="#1c1c1c" stroke="#1c1c1c" stroke-width="0.22">sat.</text>
<text transform="translate(403.60 406.80) scale(0.940 1)" style="font-family:'Liberation Serif',serif;font-weight:bold;font-size:7.80px" fill="#1c1c1c" stroke="#1c1c1c" stroke-width="0.22">Fe<tspan dy="-3.10" style="font-size:5.20px">2+</tspan></text>
<text transform="translate(492.80 410.90) scale(0.940 1)" style="font-family:'Liberation Serif',serif;font-weight:bold;font-size:7.80px" fill="#1c1c1c" stroke="#1c1c1c" stroke-width="0.22">Fe<tspan dy="-3.10" style="font-size:5.20px">2+</tspan></text>
</svg>
</body></html>
